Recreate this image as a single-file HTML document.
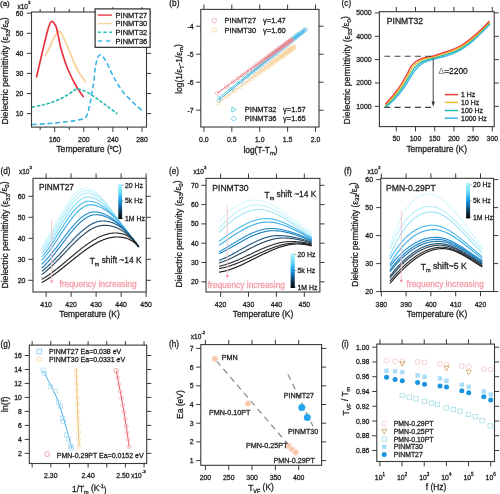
<!DOCTYPE html>
<html><head><meta charset="utf-8"><style>
html,body{margin:0;padding:0;background:#fff;}
svg{display:block;will-change:transform;}
text{font-family:"Liberation Sans",sans-serif;stroke-width:0.28px;}
</style></head><body>
<svg width="500" height="494" viewBox="0 0 500 494">
<rect width="500" height="494" fill="#fff"/>
<path d="M45.20,55.50 C45.75,54.58 47.37,52.25 48.50,50.00 C49.63,47.75 50.92,44.33 52.00,42.00 C53.08,39.67 53.92,37.73 55.00,36.00 C56.08,34.27 57.45,32.05 58.50,31.60 C59.55,31.15 60.25,31.85 61.30,33.30 C62.35,34.75 63.63,37.80 64.80,40.30 C65.97,42.80 67.13,45.52 68.30,48.30 C69.47,51.08 70.55,53.97 71.80,57.00 C73.05,60.03 74.43,63.67 75.80,66.50 C77.17,69.33 78.42,71.52 80.00,74.00 C81.58,76.48 84.42,80.17 85.30,81.40" fill="none" stroke="#f9d29c" stroke-width="1.8" stroke-linejoin="round" stroke-linecap="round" />
<path d="M36.60,76.80 C37.25,74.00 39.32,65.07 40.50,60.00 C41.68,54.93 42.53,51.23 43.70,46.40 C44.87,41.57 46.45,34.82 47.50,31.00 C48.55,27.18 49.33,25.08 50.00,23.50 C50.67,21.92 50.92,21.67 51.50,21.50 C52.08,21.33 52.67,21.42 53.50,22.50 C54.33,23.58 55.35,24.02 56.50,28.00 C57.65,31.98 59.23,41.57 60.40,46.40 C61.57,51.23 62.53,53.90 63.50,57.00 C64.47,60.10 65.12,62.17 66.20,65.00 C67.28,67.83 68.53,70.83 70.00,74.00 C71.47,77.17 73.50,81.25 75.00,84.00 C76.50,86.75 77.62,88.40 79.00,90.50 C80.38,92.60 82.58,95.58 83.30,96.60" fill="none" stroke="#e8343f" stroke-width="1.7" stroke-linejoin="round" stroke-linecap="round" />
<path d="M32.60,107.10 C33.83,106.83 37.58,106.05 40.00,105.50 C42.42,104.95 44.77,104.47 47.10,103.80 C49.43,103.13 51.70,102.37 54.00,101.50 C56.30,100.63 58.57,99.77 60.90,98.60 C63.23,97.43 65.82,95.85 68.00,94.50 C70.18,93.15 72.43,91.47 74.00,90.50 C75.57,89.53 76.40,88.87 77.40,88.70 C78.40,88.53 78.25,88.85 80.00,89.50 C81.75,90.15 85.03,91.03 87.90,92.60 C90.77,94.17 94.02,96.67 97.20,98.90 C100.38,101.13 103.70,103.55 107.00,106.00 C110.30,108.45 115.33,112.33 117.00,113.60" fill="none" stroke="#2abcae" stroke-width="1.7" stroke-linejoin="round" stroke-linecap="round" stroke-dasharray="2.0,3.0" stroke-linecap="butt"/>
<path d="M32.60,124.50 C34.67,124.38 41.05,124.07 45.00,123.80 C48.95,123.53 52.80,123.23 56.30,122.90 C59.80,122.57 63.15,122.13 66.00,121.80 C68.85,121.47 71.23,121.23 73.40,120.90 C75.57,120.57 77.47,120.12 79.00,119.80 C80.53,119.48 81.52,119.38 82.60,119.00 C83.68,118.62 84.68,118.33 85.50,117.50 C86.32,116.67 86.92,115.58 87.50,114.00 C88.08,112.42 88.53,109.93 89.00,108.00 C89.47,106.07 89.80,105.07 90.30,102.40 C90.80,99.73 91.42,95.40 92.00,92.00 C92.58,88.60 93.27,85.97 93.80,82.00 C94.33,78.03 94.68,71.83 95.20,68.20 C95.72,64.57 96.33,62.23 96.90,60.20 C97.47,58.17 98.00,56.92 98.60,56.00 C99.20,55.08 99.83,54.67 100.50,54.70 C101.17,54.73 101.58,54.93 102.60,56.20 C103.62,57.47 104.93,59.15 106.60,62.30 C108.27,65.45 110.97,71.83 112.60,75.10 C114.23,78.37 115.13,79.75 116.40,81.90 C117.67,84.05 118.93,86.10 120.20,88.00 C121.47,89.90 122.35,91.42 124.00,93.30 C125.65,95.18 128.07,97.28 130.10,99.30 C132.13,101.32 134.08,103.45 136.20,105.40 C138.32,107.35 141.70,110.07 142.80,111.00" fill="none" stroke="#3ab6e6" stroke-width="1.6" stroke-linejoin="round" stroke-linecap="round" stroke-dasharray="3.7,4.0" stroke-linecap="butt"/>
<rect x="31.50" y="12.00" width="115.00" height="115.10" fill="none" stroke="#3a3a3a" stroke-width="1.1"/>
<line x1="54.70" y1="127.10" x2="54.70" y2="131.90" stroke="#3a3a3a" stroke-width="1.0" />
<line x1="54.70" y1="12.00" x2="54.70" y2="7.20" stroke="#3a3a3a" stroke-width="1.0" />
<line x1="83.80" y1="127.10" x2="83.80" y2="131.90" stroke="#3a3a3a" stroke-width="1.0" />
<line x1="83.80" y1="12.00" x2="83.80" y2="7.20" stroke="#3a3a3a" stroke-width="1.0" />
<line x1="112.90" y1="127.10" x2="112.90" y2="131.90" stroke="#3a3a3a" stroke-width="1.0" />
<line x1="112.90" y1="12.00" x2="112.90" y2="7.20" stroke="#3a3a3a" stroke-width="1.0" />
<line x1="142.00" y1="127.10" x2="142.00" y2="131.90" stroke="#3a3a3a" stroke-width="1.0" />
<line x1="142.00" y1="12.00" x2="142.00" y2="7.20" stroke="#3a3a3a" stroke-width="1.0" />
<line x1="40.15" y1="127.10" x2="40.15" y2="130.10" stroke="#3a3a3a" stroke-width="1.0" />
<line x1="40.15" y1="12.00" x2="40.15" y2="9.00" stroke="#3a3a3a" stroke-width="1.0" />
<line x1="69.25" y1="127.10" x2="69.25" y2="130.10" stroke="#3a3a3a" stroke-width="1.0" />
<line x1="69.25" y1="12.00" x2="69.25" y2="9.00" stroke="#3a3a3a" stroke-width="1.0" />
<line x1="98.35" y1="127.10" x2="98.35" y2="130.10" stroke="#3a3a3a" stroke-width="1.0" />
<line x1="98.35" y1="12.00" x2="98.35" y2="9.00" stroke="#3a3a3a" stroke-width="1.0" />
<line x1="127.45" y1="127.10" x2="127.45" y2="130.10" stroke="#3a3a3a" stroke-width="1.0" />
<line x1="127.45" y1="12.00" x2="127.45" y2="9.00" stroke="#3a3a3a" stroke-width="1.0" />
<line x1="31.50" y1="113.60" x2="26.90" y2="113.60" stroke="#3a3a3a" stroke-width="1.0" />
<line x1="146.50" y1="113.60" x2="151.10" y2="113.60" stroke="#3a3a3a" stroke-width="1.0" />
<line x1="31.50" y1="93.52" x2="26.90" y2="93.52" stroke="#3a3a3a" stroke-width="1.0" />
<line x1="146.50" y1="93.52" x2="151.10" y2="93.52" stroke="#3a3a3a" stroke-width="1.0" />
<line x1="31.50" y1="73.44" x2="26.90" y2="73.44" stroke="#3a3a3a" stroke-width="1.0" />
<line x1="146.50" y1="73.44" x2="151.10" y2="73.44" stroke="#3a3a3a" stroke-width="1.0" />
<line x1="31.50" y1="53.36" x2="26.90" y2="53.36" stroke="#3a3a3a" stroke-width="1.0" />
<line x1="146.50" y1="53.36" x2="151.10" y2="53.36" stroke="#3a3a3a" stroke-width="1.0" />
<line x1="31.50" y1="33.28" x2="26.90" y2="33.28" stroke="#3a3a3a" stroke-width="1.0" />
<line x1="146.50" y1="33.28" x2="151.10" y2="33.28" stroke="#3a3a3a" stroke-width="1.0" />
<line x1="31.50" y1="13.20" x2="26.90" y2="13.20" stroke="#3a3a3a" stroke-width="1.0" />
<line x1="146.50" y1="13.20" x2="151.10" y2="13.20" stroke="#3a3a3a" stroke-width="1.0" />
<text x="54.70" y="142.00" font-size="6.9" text-anchor="middle" fill="#222" stroke="#222" >160</text>
<text x="83.80" y="142.00" font-size="6.9" text-anchor="middle" fill="#222" stroke="#222" >200</text>
<text x="112.90" y="142.00" font-size="6.9" text-anchor="middle" fill="#222" stroke="#222" >240</text>
<text x="142.00" y="142.00" font-size="6.9" text-anchor="middle" fill="#222" stroke="#222" >280</text>
<text x="23.30" y="116.10" font-size="6.9" text-anchor="end" fill="#222" stroke="#222" >10</text>
<text x="23.30" y="96.02" font-size="6.9" text-anchor="end" fill="#222" stroke="#222" >20</text>
<text x="23.30" y="75.94" font-size="6.9" text-anchor="end" fill="#222" stroke="#222" >30</text>
<text x="23.30" y="55.86" font-size="6.9" text-anchor="end" fill="#222" stroke="#222" >40</text>
<text x="23.30" y="35.78" font-size="6.9" text-anchor="end" fill="#222" stroke="#222" >50</text>
<text x="23.30" y="15.70" font-size="6.9" text-anchor="end" fill="#222" stroke="#222" >60</text>
<text x="17.50" y="9.30" font-size="6.5" text-anchor="start" fill="#222" stroke="#222" >x10<tspan font-size="4.4" dy="-5">3</tspan></text>
<text x="0.00" y="5.90" font-size="8.0" text-anchor="start" fill="#222" stroke="#222" >(a)</text>
<text x="0" y="0" font-size="8.6" text-anchor="middle" fill="#222" stroke="#222" transform="translate(8.40,71.00) rotate(-90)">Dielectric permittivity (ε<tspan font-size="0.7em" dy="0.3em">33</tspan><tspan dy="-0.3em">/ε</tspan><tspan font-size="0.7em" dy="0.3em">0</tspan><tspan dy="-0.3em">)</tspan></text>
<text x="89.00" y="152.40" font-size="8.6" text-anchor="middle" fill="#222" stroke="#222" >Temperature (<tspan font-size="5" dy="-3.5">o</tspan><tspan dy="3.5">C)</tspan></text>
<rect x="95.1" y="8.9" width="55.0" height="38.4" fill="#fff" stroke="#1a1a1a" stroke-width="1.1"/>
<line x1="97.70" y1="15.10" x2="112.00" y2="15.10" stroke="#e8343f" stroke-width="1.35" />
<line x1="97.70" y1="23.60" x2="112.00" y2="23.60" stroke="#f9d29c" stroke-width="1.35" />
<line x1="97.70" y1="32.20" x2="112.00" y2="32.20" stroke="#26c2b6" stroke-width="1.35" stroke-dasharray="3.2,2.5"/>
<line x1="98.00" y1="41.00" x2="112.00" y2="41.00" stroke="#3ab6e6" stroke-width="1.35" stroke-dasharray="3.8,4.5"/>
<text x="115.60" y="17.80" font-size="7.5" text-anchor="start" fill="#222" stroke="#222" >PINMT27</text>
<text x="115.60" y="26.30" font-size="7.5" text-anchor="start" fill="#222" stroke="#222" >PINMT30</text>
<text x="115.60" y="34.90" font-size="7.5" text-anchor="start" fill="#222" stroke="#222" >PINMT32</text>
<text x="115.60" y="43.70" font-size="7.5" text-anchor="start" fill="#222" stroke="#222" >PINMT36</text>
<rect x="216.10" y="101.10" width="3.80" height="3.80" fill="none" stroke="#fadbb0" stroke-width="0.6"/>
<rect x="225.75" y="93.99" width="3.80" height="3.80" fill="none" stroke="#fadbb0" stroke-width="0.6"/>
<rect x="232.63" y="88.92" width="3.80" height="3.80" fill="none" stroke="#fadbb0" stroke-width="0.6"/>
<rect x="237.99" y="84.97" width="3.80" height="3.80" fill="none" stroke="#fadbb0" stroke-width="0.6"/>
<rect x="242.37" y="81.74" width="3.80" height="3.80" fill="none" stroke="#fadbb0" stroke-width="0.6"/>
<rect x="246.08" y="79.01" width="3.80" height="3.80" fill="none" stroke="#fadbb0" stroke-width="0.6"/>
<rect x="249.30" y="76.64" width="3.80" height="3.80" fill="none" stroke="#fadbb0" stroke-width="0.6"/>
<rect x="252.14" y="74.54" width="3.80" height="3.80" fill="none" stroke="#fadbb0" stroke-width="0.6"/>
<rect x="254.68" y="72.67" width="3.80" height="3.80" fill="none" stroke="#fadbb0" stroke-width="0.6"/>
<rect x="256.98" y="70.98" width="3.80" height="3.80" fill="none" stroke="#fadbb0" stroke-width="0.6"/>
<rect x="259.08" y="69.43" width="3.80" height="3.80" fill="none" stroke="#fadbb0" stroke-width="0.6"/>
<rect x="261.01" y="68.01" width="3.80" height="3.80" fill="none" stroke="#fadbb0" stroke-width="0.6"/>
<rect x="262.80" y="66.69" width="3.80" height="3.80" fill="none" stroke="#fadbb0" stroke-width="0.6"/>
<rect x="264.47" y="65.46" width="3.80" height="3.80" fill="none" stroke="#fadbb0" stroke-width="0.6"/>
<rect x="266.03" y="64.31" width="3.80" height="3.80" fill="none" stroke="#fadbb0" stroke-width="0.6"/>
<rect x="267.50" y="63.23" width="3.80" height="3.80" fill="none" stroke="#fadbb0" stroke-width="0.6"/>
<rect x="268.88" y="62.21" width="3.80" height="3.80" fill="none" stroke="#fadbb0" stroke-width="0.6"/>
<rect x="270.18" y="61.25" width="3.80" height="3.80" fill="none" stroke="#fadbb0" stroke-width="0.6"/>
<rect x="271.43" y="60.33" width="3.80" height="3.80" fill="none" stroke="#fadbb0" stroke-width="0.6"/>
<rect x="272.60" y="59.46" width="3.80" height="3.80" fill="none" stroke="#fadbb0" stroke-width="0.6"/>
<rect x="273.73" y="58.64" width="3.80" height="3.80" fill="none" stroke="#fadbb0" stroke-width="0.6"/>
<rect x="274.81" y="57.84" width="3.80" height="3.80" fill="none" stroke="#fadbb0" stroke-width="0.6"/>
<rect x="275.83" y="57.09" width="3.80" height="3.80" fill="none" stroke="#fadbb0" stroke-width="0.6"/>
<rect x="276.82" y="56.36" width="3.80" height="3.80" fill="none" stroke="#fadbb0" stroke-width="0.6"/>
<rect x="277.77" y="55.66" width="3.80" height="3.80" fill="none" stroke="#fadbb0" stroke-width="0.6"/>
<rect x="278.68" y="54.99" width="3.80" height="3.80" fill="none" stroke="#fadbb0" stroke-width="0.6"/>
<rect x="279.56" y="54.34" width="3.80" height="3.80" fill="none" stroke="#fadbb0" stroke-width="0.6"/>
<rect x="280.41" y="53.71" width="3.80" height="3.80" fill="none" stroke="#fadbb0" stroke-width="0.6"/>
<rect x="281.23" y="53.11" width="3.80" height="3.80" fill="none" stroke="#fadbb0" stroke-width="0.6"/>
<rect x="282.03" y="52.52" width="3.80" height="3.80" fill="none" stroke="#fadbb0" stroke-width="0.6"/>
<rect x="282.79" y="51.96" width="3.80" height="3.80" fill="none" stroke="#fadbb0" stroke-width="0.6"/>
<rect x="283.54" y="51.41" width="3.80" height="3.80" fill="none" stroke="#fadbb0" stroke-width="0.6"/>
<rect x="284.26" y="50.88" width="3.80" height="3.80" fill="none" stroke="#fadbb0" stroke-width="0.6"/>
<rect x="284.96" y="50.36" width="3.80" height="3.80" fill="none" stroke="#fadbb0" stroke-width="0.6"/>
<rect x="285.65" y="49.86" width="3.80" height="3.80" fill="none" stroke="#fadbb0" stroke-width="0.6"/>
<rect x="286.31" y="49.37" width="3.80" height="3.80" fill="none" stroke="#fadbb0" stroke-width="0.6"/>
<rect x="286.95" y="48.89" width="3.80" height="3.80" fill="none" stroke="#fadbb0" stroke-width="0.6"/>
<rect x="287.58" y="48.43" width="3.80" height="3.80" fill="none" stroke="#fadbb0" stroke-width="0.6"/>
<rect x="288.20" y="47.98" width="3.80" height="3.80" fill="none" stroke="#fadbb0" stroke-width="0.6"/>
<rect x="288.79" y="47.54" width="3.80" height="3.80" fill="none" stroke="#fadbb0" stroke-width="0.6"/>
<rect x="289.38" y="47.11" width="3.80" height="3.80" fill="none" stroke="#fadbb0" stroke-width="0.6"/>
<rect x="289.95" y="46.69" width="3.80" height="3.80" fill="none" stroke="#fadbb0" stroke-width="0.6"/>
<rect x="290.50" y="46.28" width="3.80" height="3.80" fill="none" stroke="#fadbb0" stroke-width="0.6"/>
<rect x="291.05" y="45.88" width="3.80" height="3.80" fill="none" stroke="#fadbb0" stroke-width="0.6"/>
<rect x="291.58" y="45.48" width="3.80" height="3.80" fill="none" stroke="#fadbb0" stroke-width="0.6"/>
<rect x="292.10" y="45.10" width="3.80" height="3.80" fill="none" stroke="#fadbb0" stroke-width="0.6"/>
<line x1="218.00" y1="103.00" x2="294.00" y2="47.00" stroke="#f5c47e" stroke-width="0.9" />
<path d="M217.48,95.90 L220.90,97.80 L217.48,99.70 Z" fill="none" stroke="#80d8e0" stroke-width="0.6"/>
<path d="M228.97,86.78 L232.39,88.68 L228.97,90.58 Z" fill="none" stroke="#80d8e0" stroke-width="0.6"/>
<path d="M236.73,80.62 L240.15,82.52 L236.73,84.42 Z" fill="none" stroke="#80d8e0" stroke-width="0.6"/>
<path d="M242.60,75.96 L246.02,77.86 L242.60,79.76 Z" fill="none" stroke="#80d8e0" stroke-width="0.6"/>
<path d="M247.32,72.21 L250.74,74.11 L247.32,76.01 Z" fill="none" stroke="#80d8e0" stroke-width="0.6"/>
<path d="M251.27,69.08 L254.69,70.98 L251.27,72.88 Z" fill="none" stroke="#80d8e0" stroke-width="0.6"/>
<path d="M254.66,66.38 L258.08,68.28 L254.66,70.18 Z" fill="none" stroke="#80d8e0" stroke-width="0.6"/>
<path d="M257.64,64.02 L261.06,65.92 L257.64,67.82 Z" fill="none" stroke="#80d8e0" stroke-width="0.6"/>
<path d="M260.29,61.91 L263.71,63.81 L260.29,65.71 Z" fill="none" stroke="#80d8e0" stroke-width="0.6"/>
<path d="M262.68,60.02 L266.10,61.92 L262.68,63.82 Z" fill="none" stroke="#80d8e0" stroke-width="0.6"/>
<path d="M264.86,58.29 L268.28,60.19 L264.86,62.09 Z" fill="none" stroke="#80d8e0" stroke-width="0.6"/>
<path d="M266.85,56.71 L270.27,58.61 L266.85,60.51 Z" fill="none" stroke="#80d8e0" stroke-width="0.6"/>
<path d="M268.70,55.24 L272.12,57.14 L268.70,59.04 Z" fill="none" stroke="#80d8e0" stroke-width="0.6"/>
<path d="M270.41,53.88 L273.83,55.78 L270.41,57.68 Z" fill="none" stroke="#80d8e0" stroke-width="0.6"/>
<path d="M272.01,52.61 L275.43,54.51 L272.01,56.41 Z" fill="none" stroke="#80d8e0" stroke-width="0.6"/>
<path d="M273.51,51.42 L276.93,53.32 L273.51,55.22 Z" fill="none" stroke="#80d8e0" stroke-width="0.6"/>
<path d="M274.93,50.30 L278.35,52.20 L274.93,54.10 Z" fill="none" stroke="#80d8e0" stroke-width="0.6"/>
<path d="M276.26,49.24 L279.68,51.14 L276.26,53.04 Z" fill="none" stroke="#80d8e0" stroke-width="0.6"/>
<path d="M277.53,48.23 L280.95,50.13 L277.53,52.03 Z" fill="none" stroke="#80d8e0" stroke-width="0.6"/>
<path d="M278.73,47.28 L282.15,49.18 L278.73,51.08 Z" fill="none" stroke="#80d8e0" stroke-width="0.6"/>
<path d="M279.88,46.37 L283.30,48.27 L279.88,50.17 Z" fill="none" stroke="#80d8e0" stroke-width="0.6"/>
<path d="M280.97,45.50 L284.39,47.40 L280.97,49.30 Z" fill="none" stroke="#80d8e0" stroke-width="0.6"/>
<path d="M282.02,44.67 L285.44,46.57 L282.02,48.47 Z" fill="none" stroke="#80d8e0" stroke-width="0.6"/>
<path d="M283.02,43.87 L286.44,45.77 L283.02,47.67 Z" fill="none" stroke="#80d8e0" stroke-width="0.6"/>
<path d="M283.98,43.11 L287.40,45.01 L283.98,46.91 Z" fill="none" stroke="#80d8e0" stroke-width="0.6"/>
<path d="M284.91,42.37 L288.33,44.27 L284.91,46.17 Z" fill="none" stroke="#80d8e0" stroke-width="0.6"/>
<path d="M285.80,41.66 L289.22,43.56 L285.80,45.46 Z" fill="none" stroke="#80d8e0" stroke-width="0.6"/>
<path d="M286.67,40.98 L290.09,42.88 L286.67,44.78 Z" fill="none" stroke="#80d8e0" stroke-width="0.6"/>
<path d="M287.50,40.32 L290.92,42.22 L287.50,44.12 Z" fill="none" stroke="#80d8e0" stroke-width="0.6"/>
<path d="M288.30,39.68 L291.72,41.58 L288.30,43.48 Z" fill="none" stroke="#80d8e0" stroke-width="0.6"/>
<path d="M289.08,39.06 L292.50,40.96 L289.08,42.86 Z" fill="none" stroke="#80d8e0" stroke-width="0.6"/>
<path d="M289.83,38.46 L293.25,40.36 L289.83,42.26 Z" fill="none" stroke="#80d8e0" stroke-width="0.6"/>
<path d="M290.56,37.88 L293.98,39.78 L290.56,41.68 Z" fill="none" stroke="#80d8e0" stroke-width="0.6"/>
<path d="M291.27,37.32 L294.69,39.22 L291.27,41.12 Z" fill="none" stroke="#80d8e0" stroke-width="0.6"/>
<path d="M291.96,36.77 L295.38,38.67 L291.96,40.57 Z" fill="none" stroke="#80d8e0" stroke-width="0.6"/>
<path d="M292.63,36.24 L296.05,38.14 L292.63,40.04 Z" fill="none" stroke="#80d8e0" stroke-width="0.6"/>
<path d="M293.29,35.72 L296.71,37.62 L293.29,39.52 Z" fill="none" stroke="#80d8e0" stroke-width="0.6"/>
<path d="M293.92,35.22 L297.34,37.12 L293.92,39.02 Z" fill="none" stroke="#80d8e0" stroke-width="0.6"/>
<path d="M294.54,34.73 L297.96,36.63 L294.54,38.53 Z" fill="none" stroke="#80d8e0" stroke-width="0.6"/>
<path d="M295.14,34.25 L298.56,36.15 L295.14,38.05 Z" fill="none" stroke="#80d8e0" stroke-width="0.6"/>
<path d="M295.73,33.78 L299.15,35.68 L295.73,37.58 Z" fill="none" stroke="#80d8e0" stroke-width="0.6"/>
<path d="M296.31,33.32 L299.73,35.22 L296.31,37.12 Z" fill="none" stroke="#80d8e0" stroke-width="0.6"/>
<path d="M296.87,32.88 L300.29,34.78 L296.87,36.68 Z" fill="none" stroke="#80d8e0" stroke-width="0.6"/>
<path d="M297.42,32.44 L300.84,34.34 L297.42,36.24 Z" fill="none" stroke="#80d8e0" stroke-width="0.6"/>
<path d="M297.95,32.02 L301.37,33.92 L297.95,35.82 Z" fill="none" stroke="#80d8e0" stroke-width="0.6"/>
<path d="M298.48,31.60 L301.90,33.50 L298.48,35.40 Z" fill="none" stroke="#80d8e0" stroke-width="0.6"/>
<line x1="219.00" y1="97.80" x2="300.00" y2="33.50" stroke="#38bcd0" stroke-width="0.9" />
<path d="M219.00,97.72 L221.28,100.00 L219.00,102.28 L216.72,100.00 Z" fill="none" stroke="#6cc4f0" stroke-width="0.6"/>
<path d="M232.79,86.48 L235.07,88.76 L232.79,91.04 L230.51,88.76 Z" fill="none" stroke="#6cc4f0" stroke-width="0.6"/>
<path d="M241.52,79.36 L243.80,81.64 L241.52,83.92 L239.24,81.64 Z" fill="none" stroke="#6cc4f0" stroke-width="0.6"/>
<path d="M247.93,74.14 L250.21,76.42 L247.93,78.70 L245.65,76.42 Z" fill="none" stroke="#6cc4f0" stroke-width="0.6"/>
<path d="M252.99,70.01 L255.27,72.29 L252.99,74.57 L250.71,72.29 Z" fill="none" stroke="#6cc4f0" stroke-width="0.6"/>
<path d="M257.18,66.60 L259.46,68.88 L257.18,71.16 L254.90,68.88 Z" fill="none" stroke="#6cc4f0" stroke-width="0.6"/>
<path d="M260.75,63.70 L263.03,65.98 L260.75,68.26 L258.47,65.98 Z" fill="none" stroke="#6cc4f0" stroke-width="0.6"/>
<path d="M263.86,61.16 L266.14,63.44 L263.86,65.72 L261.58,63.44 Z" fill="none" stroke="#6cc4f0" stroke-width="0.6"/>
<path d="M266.61,58.92 L268.89,61.20 L266.61,63.48 L264.33,61.20 Z" fill="none" stroke="#6cc4f0" stroke-width="0.6"/>
<path d="M269.09,56.90 L271.37,59.18 L269.09,61.46 L266.81,59.18 Z" fill="none" stroke="#6cc4f0" stroke-width="0.6"/>
<path d="M271.33,55.07 L273.61,57.35 L271.33,59.63 L269.05,57.35 Z" fill="none" stroke="#6cc4f0" stroke-width="0.6"/>
<path d="M273.38,53.40 L275.66,55.68 L273.38,57.96 L271.10,55.68 Z" fill="none" stroke="#6cc4f0" stroke-width="0.6"/>
<path d="M275.28,51.85 L277.56,54.13 L275.28,56.41 L273.00,54.13 Z" fill="none" stroke="#6cc4f0" stroke-width="0.6"/>
<path d="M277.03,50.42 L279.31,52.70 L277.03,54.98 L274.75,52.70 Z" fill="none" stroke="#6cc4f0" stroke-width="0.6"/>
<path d="M278.67,49.09 L280.95,51.37 L278.67,53.65 L276.39,51.37 Z" fill="none" stroke="#6cc4f0" stroke-width="0.6"/>
<path d="M280.20,47.84 L282.48,50.12 L280.20,52.40 L277.92,50.12 Z" fill="none" stroke="#6cc4f0" stroke-width="0.6"/>
<path d="M281.65,46.66 L283.93,48.94 L281.65,51.22 L279.37,48.94 Z" fill="none" stroke="#6cc4f0" stroke-width="0.6"/>
<path d="M283.01,45.55 L285.29,47.83 L283.01,50.11 L280.73,47.83 Z" fill="none" stroke="#6cc4f0" stroke-width="0.6"/>
<path d="M284.30,44.50 L286.58,46.78 L284.30,49.06 L282.02,46.78 Z" fill="none" stroke="#6cc4f0" stroke-width="0.6"/>
<path d="M285.52,43.50 L287.80,45.78 L285.52,48.06 L283.24,45.78 Z" fill="none" stroke="#6cc4f0" stroke-width="0.6"/>
<path d="M286.69,42.55 L288.97,44.83 L286.69,47.11 L284.41,44.83 Z" fill="none" stroke="#6cc4f0" stroke-width="0.6"/>
<path d="M287.80,41.65 L290.08,43.93 L287.80,46.21 L285.52,43.93 Z" fill="none" stroke="#6cc4f0" stroke-width="0.6"/>
<path d="M288.86,40.78 L291.14,43.06 L288.86,45.34 L286.58,43.06 Z" fill="none" stroke="#6cc4f0" stroke-width="0.6"/>
<path d="M289.88,39.95 L292.16,42.23 L289.88,44.51 L287.60,42.23 Z" fill="none" stroke="#6cc4f0" stroke-width="0.6"/>
<path d="M290.86,39.15 L293.14,41.43 L290.86,43.71 L288.58,41.43 Z" fill="none" stroke="#6cc4f0" stroke-width="0.6"/>
<path d="M291.80,38.39 L294.08,40.67 L291.80,42.95 L289.52,40.67 Z" fill="none" stroke="#6cc4f0" stroke-width="0.6"/>
<path d="M292.70,37.65 L294.98,39.93 L292.70,42.21 L290.42,39.93 Z" fill="none" stroke="#6cc4f0" stroke-width="0.6"/>
<path d="M293.57,36.94 L295.85,39.22 L293.57,41.50 L291.29,39.22 Z" fill="none" stroke="#6cc4f0" stroke-width="0.6"/>
<path d="M294.41,36.26 L296.69,38.54 L294.41,40.82 L292.13,38.54 Z" fill="none" stroke="#6cc4f0" stroke-width="0.6"/>
<path d="M295.23,35.59 L297.51,37.87 L295.23,40.15 L292.95,37.87 Z" fill="none" stroke="#6cc4f0" stroke-width="0.6"/>
<path d="M296.01,34.95 L298.29,37.23 L296.01,39.51 L293.73,37.23 Z" fill="none" stroke="#6cc4f0" stroke-width="0.6"/>
<path d="M296.78,34.33 L299.06,36.61 L296.78,38.89 L294.50,36.61 Z" fill="none" stroke="#6cc4f0" stroke-width="0.6"/>
<path d="M297.51,33.73 L299.79,36.01 L297.51,38.29 L295.23,36.01 Z" fill="none" stroke="#6cc4f0" stroke-width="0.6"/>
<path d="M298.23,33.14 L300.51,35.42 L298.23,37.70 L295.95,35.42 Z" fill="none" stroke="#6cc4f0" stroke-width="0.6"/>
<path d="M298.93,32.58 L301.21,34.86 L298.93,37.14 L296.65,34.86 Z" fill="none" stroke="#6cc4f0" stroke-width="0.6"/>
<path d="M299.60,32.03 L301.88,34.31 L299.60,36.59 L297.32,34.31 Z" fill="none" stroke="#6cc4f0" stroke-width="0.6"/>
<path d="M300.26,31.49 L302.54,33.77 L300.26,36.05 L297.98,33.77 Z" fill="none" stroke="#6cc4f0" stroke-width="0.6"/>
<path d="M300.90,30.97 L303.18,33.25 L300.90,35.53 L298.62,33.25 Z" fill="none" stroke="#6cc4f0" stroke-width="0.6"/>
<path d="M301.53,30.46 L303.81,32.74 L301.53,35.02 L299.25,32.74 Z" fill="none" stroke="#6cc4f0" stroke-width="0.6"/>
<path d="M302.14,29.96 L304.42,32.24 L302.14,34.52 L299.86,32.24 Z" fill="none" stroke="#6cc4f0" stroke-width="0.6"/>
<path d="M302.73,29.48 L305.01,31.76 L302.73,34.04 L300.45,31.76 Z" fill="none" stroke="#6cc4f0" stroke-width="0.6"/>
<path d="M303.31,29.00 L305.59,31.28 L303.31,33.56 L301.03,31.28 Z" fill="none" stroke="#6cc4f0" stroke-width="0.6"/>
<path d="M303.88,28.54 L306.16,30.82 L303.88,33.10 L301.60,30.82 Z" fill="none" stroke="#6cc4f0" stroke-width="0.6"/>
<path d="M304.43,28.09 L306.71,30.37 L304.43,32.65 L302.15,30.37 Z" fill="none" stroke="#6cc4f0" stroke-width="0.6"/>
<path d="M304.97,27.65 L307.25,29.93 L304.97,32.21 L302.69,29.93 Z" fill="none" stroke="#6cc4f0" stroke-width="0.6"/>
<path d="M305.50,27.22 L307.78,29.50 L305.50,31.78 L303.22,29.50 Z" fill="none" stroke="#6cc4f0" stroke-width="0.6"/>
<line x1="219.00" y1="100.00" x2="305.50" y2="29.50" stroke="#2ea8e0" stroke-width="0.9" />
<circle cx="217.30" cy="93.20" r="1.90" fill="none" stroke="#f29aa2" stroke-width="0.6"/>
<circle cx="226.51" cy="86.58" r="1.90" fill="none" stroke="#f29aa2" stroke-width="0.6"/>
<circle cx="233.17" cy="81.79" r="1.90" fill="none" stroke="#f29aa2" stroke-width="0.6"/>
<circle cx="238.39" cy="78.04" r="1.90" fill="none" stroke="#f29aa2" stroke-width="0.6"/>
<circle cx="242.68" cy="74.95" r="1.90" fill="none" stroke="#f29aa2" stroke-width="0.6"/>
<circle cx="246.32" cy="72.33" r="1.90" fill="none" stroke="#f29aa2" stroke-width="0.6"/>
<circle cx="249.49" cy="70.06" r="1.90" fill="none" stroke="#f29aa2" stroke-width="0.6"/>
<circle cx="252.29" cy="68.04" r="1.90" fill="none" stroke="#f29aa2" stroke-width="0.6"/>
<circle cx="254.80" cy="66.24" r="1.90" fill="none" stroke="#f29aa2" stroke-width="0.6"/>
<circle cx="257.08" cy="64.60" r="1.90" fill="none" stroke="#f29aa2" stroke-width="0.6"/>
<circle cx="259.16" cy="63.11" r="1.90" fill="none" stroke="#f29aa2" stroke-width="0.6"/>
<circle cx="261.07" cy="61.73" r="1.90" fill="none" stroke="#f29aa2" stroke-width="0.6"/>
<circle cx="262.85" cy="60.46" r="1.90" fill="none" stroke="#f29aa2" stroke-width="0.6"/>
<circle cx="264.50" cy="59.27" r="1.90" fill="none" stroke="#f29aa2" stroke-width="0.6"/>
<circle cx="266.05" cy="58.16" r="1.90" fill="none" stroke="#f29aa2" stroke-width="0.6"/>
<circle cx="267.50" cy="57.11" r="1.90" fill="none" stroke="#f29aa2" stroke-width="0.6"/>
<circle cx="268.88" cy="56.12" r="1.90" fill="none" stroke="#f29aa2" stroke-width="0.6"/>
<circle cx="270.17" cy="55.19" r="1.90" fill="none" stroke="#f29aa2" stroke-width="0.6"/>
<circle cx="271.41" cy="54.30" r="1.90" fill="none" stroke="#f29aa2" stroke-width="0.6"/>
<circle cx="272.58" cy="53.46" r="1.90" fill="none" stroke="#f29aa2" stroke-width="0.6"/>
<circle cx="273.70" cy="52.66" r="1.90" fill="none" stroke="#f29aa2" stroke-width="0.6"/>
<circle cx="274.77" cy="51.89" r="1.90" fill="none" stroke="#f29aa2" stroke-width="0.6"/>
<circle cx="275.79" cy="51.15" r="1.90" fill="none" stroke="#f29aa2" stroke-width="0.6"/>
<circle cx="276.78" cy="50.44" r="1.90" fill="none" stroke="#f29aa2" stroke-width="0.6"/>
<circle cx="277.72" cy="49.77" r="1.90" fill="none" stroke="#f29aa2" stroke-width="0.6"/>
<circle cx="278.63" cy="49.11" r="1.90" fill="none" stroke="#f29aa2" stroke-width="0.6"/>
<circle cx="279.50" cy="48.48" r="1.90" fill="none" stroke="#f29aa2" stroke-width="0.6"/>
<circle cx="280.35" cy="47.87" r="1.90" fill="none" stroke="#f29aa2" stroke-width="0.6"/>
<circle cx="281.17" cy="47.29" r="1.90" fill="none" stroke="#f29aa2" stroke-width="0.6"/>
<circle cx="281.96" cy="46.72" r="1.90" fill="none" stroke="#f29aa2" stroke-width="0.6"/>
<circle cx="282.72" cy="46.17" r="1.90" fill="none" stroke="#f29aa2" stroke-width="0.6"/>
<circle cx="283.47" cy="45.64" r="1.90" fill="none" stroke="#f29aa2" stroke-width="0.6"/>
<circle cx="284.19" cy="45.12" r="1.90" fill="none" stroke="#f29aa2" stroke-width="0.6"/>
<circle cx="284.88" cy="44.62" r="1.90" fill="none" stroke="#f29aa2" stroke-width="0.6"/>
<circle cx="285.56" cy="44.13" r="1.90" fill="none" stroke="#f29aa2" stroke-width="0.6"/>
<circle cx="286.23" cy="43.65" r="1.90" fill="none" stroke="#f29aa2" stroke-width="0.6"/>
<circle cx="286.87" cy="43.19" r="1.90" fill="none" stroke="#f29aa2" stroke-width="0.6"/>
<circle cx="287.50" cy="42.74" r="1.90" fill="none" stroke="#f29aa2" stroke-width="0.6"/>
<circle cx="288.11" cy="42.30" r="1.90" fill="none" stroke="#f29aa2" stroke-width="0.6"/>
<circle cx="288.70" cy="41.87" r="1.90" fill="none" stroke="#f29aa2" stroke-width="0.6"/>
<circle cx="289.28" cy="41.45" r="1.90" fill="none" stroke="#f29aa2" stroke-width="0.6"/>
<circle cx="289.85" cy="41.04" r="1.90" fill="none" stroke="#f29aa2" stroke-width="0.6"/>
<circle cx="290.41" cy="40.64" r="1.90" fill="none" stroke="#f29aa2" stroke-width="0.6"/>
<circle cx="290.95" cy="40.25" r="1.90" fill="none" stroke="#f29aa2" stroke-width="0.6"/>
<circle cx="291.48" cy="39.87" r="1.90" fill="none" stroke="#f29aa2" stroke-width="0.6"/>
<circle cx="292.00" cy="39.50" r="1.90" fill="none" stroke="#f29aa2" stroke-width="0.6"/>
<line x1="217.30" y1="93.20" x2="292.00" y2="39.50" stroke="#e85a68" stroke-width="0.9" />
<rect x="200.80" y="9.40" width="118.20" height="117.60" fill="none" stroke="#3a3a3a" stroke-width="1.1"/>
<line x1="203.90" y1="127.00" x2="203.90" y2="131.80" stroke="#3a3a3a" stroke-width="1.0" />
<line x1="203.90" y1="9.40" x2="203.90" y2="4.60" stroke="#3a3a3a" stroke-width="1.0" />
<line x1="231.80" y1="127.00" x2="231.80" y2="131.80" stroke="#3a3a3a" stroke-width="1.0" />
<line x1="231.80" y1="9.40" x2="231.80" y2="4.60" stroke="#3a3a3a" stroke-width="1.0" />
<line x1="259.70" y1="127.00" x2="259.70" y2="131.80" stroke="#3a3a3a" stroke-width="1.0" />
<line x1="259.70" y1="9.40" x2="259.70" y2="4.60" stroke="#3a3a3a" stroke-width="1.0" />
<line x1="287.60" y1="127.00" x2="287.60" y2="131.80" stroke="#3a3a3a" stroke-width="1.0" />
<line x1="287.60" y1="9.40" x2="287.60" y2="4.60" stroke="#3a3a3a" stroke-width="1.0" />
<line x1="315.50" y1="127.00" x2="315.50" y2="131.80" stroke="#3a3a3a" stroke-width="1.0" />
<line x1="315.50" y1="9.40" x2="315.50" y2="4.60" stroke="#3a3a3a" stroke-width="1.0" />
<line x1="200.80" y1="26.20" x2="196.20" y2="26.20" stroke="#3a3a3a" stroke-width="1.0" />
<line x1="319.00" y1="26.20" x2="323.60" y2="26.20" stroke="#3a3a3a" stroke-width="1.0" />
<line x1="200.80" y1="54.20" x2="196.20" y2="54.20" stroke="#3a3a3a" stroke-width="1.0" />
<line x1="319.00" y1="54.20" x2="323.60" y2="54.20" stroke="#3a3a3a" stroke-width="1.0" />
<line x1="200.80" y1="82.20" x2="196.20" y2="82.20" stroke="#3a3a3a" stroke-width="1.0" />
<line x1="319.00" y1="82.20" x2="323.60" y2="82.20" stroke="#3a3a3a" stroke-width="1.0" />
<line x1="200.80" y1="110.20" x2="196.20" y2="110.20" stroke="#3a3a3a" stroke-width="1.0" />
<line x1="319.00" y1="110.20" x2="323.60" y2="110.20" stroke="#3a3a3a" stroke-width="1.0" />
<text x="203.90" y="141.90" font-size="6.9" text-anchor="middle" fill="#222" stroke="#222" >0.0</text>
<text x="231.80" y="141.90" font-size="6.9" text-anchor="middle" fill="#222" stroke="#222" >0.5</text>
<text x="259.70" y="141.90" font-size="6.9" text-anchor="middle" fill="#222" stroke="#222" >1.0</text>
<text x="287.60" y="141.90" font-size="6.9" text-anchor="middle" fill="#222" stroke="#222" >1.5</text>
<text x="315.50" y="141.90" font-size="6.9" text-anchor="middle" fill="#222" stroke="#222" >2.0</text>
<text x="193.60" y="28.70" font-size="6.9" text-anchor="end" fill="#222" stroke="#222" >-4</text>
<text x="193.60" y="56.70" font-size="6.9" text-anchor="end" fill="#222" stroke="#222" >-5</text>
<text x="193.60" y="84.70" font-size="6.9" text-anchor="end" fill="#222" stroke="#222" >-6</text>
<text x="193.60" y="112.70" font-size="6.9" text-anchor="end" fill="#222" stroke="#222" >-7</text>
<text x="169.20" y="5.90" font-size="8.4" text-anchor="start" fill="#222" stroke="#222" >(b)</text>
<text x="0" y="0" font-size="8.4" text-anchor="middle" fill="#222" stroke="#222" transform="translate(182.30,69.00) rotate(-90)">log(1/ε<tspan font-size="0.7em" dy="0.3em">T</tspan><tspan dy="-0.3em">-1/ε</tspan><tspan font-size="0.7em" dy="0.3em">m</tspan><tspan dy="-0.3em">)</tspan></text>
<text x="260.50" y="153.30" font-size="8.4" text-anchor="middle" fill="#222" stroke="#222" >log(T-T<tspan font-size="0.7em" dy="0.3em">m</tspan><tspan dy="-0.3em">)</tspan></text>
<circle cx="214.20" cy="20.60" r="2.30" fill="none" stroke="#f4a8b0" stroke-width="0.85"/>
<rect x="212.30" y="28.10" width="3.80" height="3.80" fill="none" stroke="#fbdcb0" stroke-width="0.85"/>
<path d="M231.80,107.10 L236.30,109.60 L231.80,112.10 Z" fill="none" stroke="#5fd0d8" stroke-width="0.9"/>
<path d="M233.80,115.94 L236.56,118.70 L233.80,121.46 L231.04,118.70 Z" fill="none" stroke="#74c6f0" stroke-width="0.9"/>
<text x="224.40" y="23.40" font-size="7.5" text-anchor="start" fill="#222" stroke="#222" >PINMT27</text>
<text x="263.00" y="23.40" font-size="7.5" text-anchor="start" fill="#222" stroke="#222" >γ=1.47</text>
<text x="224.40" y="32.80" font-size="7.5" text-anchor="start" fill="#222" stroke="#222" >PINMT30</text>
<text x="263.00" y="32.80" font-size="7.5" text-anchor="start" fill="#222" stroke="#222" >γ=1.60</text>
<text x="244.80" y="112.30" font-size="7.5" text-anchor="start" fill="#222" stroke="#222" >PINMT32</text>
<text x="283.00" y="112.30" font-size="7.5" text-anchor="start" fill="#222" stroke="#222" >γ=1.57</text>
<text x="244.80" y="121.40" font-size="7.5" text-anchor="start" fill="#222" stroke="#222" >PINMT36</text>
<text x="283.00" y="121.40" font-size="7.5" text-anchor="start" fill="#222" stroke="#222" >γ=1.65</text>
<path d="M385.70,107.40 C387.12,106.10 391.37,102.57 394.20,99.60 C397.03,96.63 400.10,93.15 402.70,89.60 C405.30,86.05 407.67,81.60 409.80,78.30 C411.93,75.00 413.62,72.17 415.50,69.80 C417.38,67.43 419.22,65.52 421.10,64.10 C422.98,62.68 424.90,62.05 426.80,61.30 C428.70,60.55 431.13,60.00 432.50,59.60 C433.87,59.20 432.55,59.57 435.00,58.90 C437.45,58.23 443.15,56.97 447.20,55.60 C451.25,54.23 455.25,52.93 459.30,50.70 C463.35,48.47 467.85,45.13 471.50,42.20 C475.15,39.27 478.17,36.03 481.20,33.10 C484.23,30.17 488.28,26.02 489.70,24.60" fill="none" stroke="#3cb4ea" stroke-width="1.35" stroke-linejoin="round" stroke-linecap="round" />
<path d="M385.70,106.20 C387.12,104.78 391.44,100.78 394.20,97.70 C396.96,94.62 399.79,91.21 402.23,87.73 C404.68,84.26 406.89,80.06 408.87,76.87 C410.84,73.68 412.30,70.88 414.07,68.60 C415.83,66.32 417.58,64.56 419.47,63.17 C421.36,61.78 423.39,61.02 425.40,60.27 C427.41,59.51 429.93,59.06 431.53,58.63 C433.13,58.21 432.39,58.44 435.00,57.70 C437.61,56.96 443.15,55.57 447.20,54.17 C451.25,52.77 455.25,51.53 459.30,49.30 C463.35,47.07 467.85,43.71 471.50,40.80 C475.15,37.89 478.20,34.74 481.20,31.87 C484.20,28.99 488.12,24.95 489.50,23.57" fill="none" stroke="#1fbfae" stroke-width="1.35" stroke-linejoin="round" stroke-linecap="round" />
<path d="M385.70,105.00 C387.12,103.47 391.52,98.99 394.20,95.80 C396.88,92.61 399.48,89.26 401.77,85.87 C404.06,82.47 406.12,78.51 407.93,75.43 C409.74,72.36 410.98,69.60 412.63,67.40 C414.28,65.20 415.94,63.59 417.83,62.23 C419.73,60.87 421.88,59.99 424.00,59.23 C426.12,58.47 428.73,58.12 430.57,57.67 C432.40,57.21 432.23,57.32 435.00,56.50 C437.77,55.68 443.15,54.17 447.20,52.73 C451.25,51.30 455.25,50.12 459.30,47.90 C463.35,45.68 467.85,42.28 471.50,39.40 C475.15,36.52 478.23,33.44 481.20,30.63 C484.17,27.82 487.95,23.88 489.30,22.53" fill="none" stroke="#f2b82a" stroke-width="1.35" stroke-linejoin="round" stroke-linecap="round" />
<path d="M385.70,103.80 C387.12,102.15 391.60,97.20 394.20,93.90 C396.80,90.60 399.17,87.32 401.30,84.00 C403.43,80.68 405.35,76.97 407.00,74.00 C408.65,71.03 409.67,68.32 411.20,66.20 C412.73,64.08 414.30,62.63 416.20,61.30 C418.10,59.97 420.37,58.97 422.60,58.20 C424.83,57.43 427.53,57.18 429.60,56.70 C431.67,56.22 432.07,56.20 435.00,55.30 C437.93,54.40 443.15,52.77 447.20,51.30 C451.25,49.83 455.25,48.72 459.30,46.50 C463.35,44.28 467.85,40.85 471.50,38.00 C475.15,35.15 478.27,32.15 481.20,29.40 C484.13,26.65 487.78,22.82 489.10,21.50" fill="none" stroke="#ea3f3a" stroke-width="1.35" stroke-linejoin="round" stroke-linecap="round" />
<line x1="384.30" y1="56.30" x2="431.00" y2="56.30" stroke="#444" stroke-width="1.1" stroke-dasharray="6,4.2"/>
<line x1="384.30" y1="107.40" x2="432.00" y2="107.40" stroke="#444" stroke-width="1.1" stroke-dasharray="6,4.2"/>
<line x1="433.20" y1="58.40" x2="433.20" y2="103.50" stroke="#333" stroke-width="0.9" />
<path d="M431.5,101.5 L433.2,106.8 L434.9,101.5 Z" fill="#333"/>
<rect x="379.40" y="11.70" width="114.80" height="114.90" fill="none" stroke="#3a3a3a" stroke-width="1.1"/>
<line x1="396.30" y1="126.60" x2="396.30" y2="131.40" stroke="#3a3a3a" stroke-width="1.0" />
<line x1="396.30" y1="11.70" x2="396.30" y2="6.90" stroke="#3a3a3a" stroke-width="1.0" />
<line x1="415.50" y1="126.60" x2="415.50" y2="131.40" stroke="#3a3a3a" stroke-width="1.0" />
<line x1="415.50" y1="11.70" x2="415.50" y2="6.90" stroke="#3a3a3a" stroke-width="1.0" />
<line x1="434.70" y1="126.60" x2="434.70" y2="131.40" stroke="#3a3a3a" stroke-width="1.0" />
<line x1="434.70" y1="11.70" x2="434.70" y2="6.90" stroke="#3a3a3a" stroke-width="1.0" />
<line x1="453.90" y1="126.60" x2="453.90" y2="131.40" stroke="#3a3a3a" stroke-width="1.0" />
<line x1="453.90" y1="11.70" x2="453.90" y2="6.90" stroke="#3a3a3a" stroke-width="1.0" />
<line x1="473.10" y1="126.60" x2="473.10" y2="131.40" stroke="#3a3a3a" stroke-width="1.0" />
<line x1="473.10" y1="11.70" x2="473.10" y2="6.90" stroke="#3a3a3a" stroke-width="1.0" />
<line x1="492.30" y1="126.60" x2="492.30" y2="131.40" stroke="#3a3a3a" stroke-width="1.0" />
<line x1="492.30" y1="11.70" x2="492.30" y2="6.90" stroke="#3a3a3a" stroke-width="1.0" />
<line x1="379.40" y1="106.34" x2="374.80" y2="106.34" stroke="#3a3a3a" stroke-width="1.0" />
<line x1="494.20" y1="106.34" x2="498.80" y2="106.34" stroke="#3a3a3a" stroke-width="1.0" />
<line x1="379.40" y1="82.98" x2="374.80" y2="82.98" stroke="#3a3a3a" stroke-width="1.0" />
<line x1="494.20" y1="82.98" x2="498.80" y2="82.98" stroke="#3a3a3a" stroke-width="1.0" />
<line x1="379.40" y1="59.62" x2="374.80" y2="59.62" stroke="#3a3a3a" stroke-width="1.0" />
<line x1="494.20" y1="59.62" x2="498.80" y2="59.62" stroke="#3a3a3a" stroke-width="1.0" />
<line x1="379.40" y1="36.26" x2="374.80" y2="36.26" stroke="#3a3a3a" stroke-width="1.0" />
<line x1="494.20" y1="36.26" x2="498.80" y2="36.26" stroke="#3a3a3a" stroke-width="1.0" />
<line x1="379.40" y1="12.90" x2="374.80" y2="12.90" stroke="#3a3a3a" stroke-width="1.0" />
<line x1="494.20" y1="12.90" x2="498.80" y2="12.90" stroke="#3a3a3a" stroke-width="1.0" />
<text x="396.30" y="141.20" font-size="6.9" text-anchor="middle" fill="#222" stroke="#222" >50</text>
<text x="415.50" y="141.20" font-size="6.9" text-anchor="middle" fill="#222" stroke="#222" >100</text>
<text x="434.70" y="141.20" font-size="6.9" text-anchor="middle" fill="#222" stroke="#222" >150</text>
<text x="453.90" y="141.20" font-size="6.9" text-anchor="middle" fill="#222" stroke="#222" >200</text>
<text x="473.10" y="141.20" font-size="6.9" text-anchor="middle" fill="#222" stroke="#222" >250</text>
<text x="492.30" y="141.20" font-size="6.9" text-anchor="middle" fill="#222" stroke="#222" >300</text>
<text x="371.60" y="108.84" font-size="6.9" text-anchor="end" fill="#222" stroke="#222" >1000</text>
<text x="371.60" y="85.48" font-size="6.9" text-anchor="end" fill="#222" stroke="#222" >2000</text>
<text x="371.60" y="62.12" font-size="6.9" text-anchor="end" fill="#222" stroke="#222" >3000</text>
<text x="371.60" y="38.76" font-size="6.9" text-anchor="end" fill="#222" stroke="#222" >4000</text>
<text x="371.60" y="15.40" font-size="6.9" text-anchor="end" fill="#222" stroke="#222" >5000</text>
<text x="341.60" y="5.90" font-size="8.2" text-anchor="start" fill="#222" stroke="#222" >(c)</text>
<text x="0" y="0" font-size="8.7" text-anchor="middle" fill="#222" stroke="#222" transform="translate(350.00,70.30) rotate(-90)">Dielectric permittivity (ε<tspan font-size="0.7em" dy="0.3em">33</tspan><tspan dy="-0.3em">/ε</tspan><tspan font-size="0.7em" dy="0.3em">0</tspan><tspan dy="-0.3em">)</tspan></text>
<text x="436.70" y="151.60" font-size="8.4" text-anchor="middle" fill="#222" stroke="#222" >Temperature (K)</text>
<text x="386.80" y="24.00" font-size="8.6" text-anchor="start" fill="#222" stroke="#222" >PINMT32</text>
<text x="438.60" y="73.60" font-size="8.4" text-anchor="start" fill="#222" stroke="#222" ><tspan fill="#777" stroke="none">Δ</tspan>=2200</text>
<line x1="444.80" y1="94.60" x2="458.00" y2="94.60" stroke="#ea3f3a" stroke-width="1.5" />
<text x="461.10" y="97.10" font-size="6.9" text-anchor="start" fill="#222" stroke="#222" >1 Hz</text>
<line x1="444.80" y1="102.40" x2="458.00" y2="102.40" stroke="#f2b82a" stroke-width="1.5" />
<text x="461.10" y="104.90" font-size="6.9" text-anchor="start" fill="#222" stroke="#222" >10 Hz</text>
<line x1="444.80" y1="110.50" x2="458.00" y2="110.50" stroke="#1fbfae" stroke-width="1.5" />
<text x="461.10" y="113.00" font-size="6.9" text-anchor="start" fill="#222" stroke="#222" >100 Hz</text>
<line x1="444.80" y1="118.20" x2="458.00" y2="118.20" stroke="#3cb4ea" stroke-width="1.5" />
<text x="461.10" y="120.70" font-size="6.9" text-anchor="start" fill="#222" stroke="#222" >1000 Hz</text>
<path d="M41.70,246.00 L42.20,245.38 L42.71,244.75 L43.21,244.10 L43.71,243.43 L44.22,242.74 L44.72,242.04 L45.22,241.32 L45.73,240.59 L46.23,239.85 L46.73,239.09 L47.24,238.32 L47.74,237.53 L48.25,236.74 L48.75,235.93 L49.25,235.12 L49.76,234.29 L50.26,233.45 L50.76,232.61 L51.27,231.76 L51.77,230.90 L52.27,230.03 L52.78,229.16 L53.28,228.28 L53.78,227.40 L54.29,226.51 L54.79,225.62 L55.29,224.73 L55.80,223.83 L56.30,222.93 L56.80,222.03 L57.31,221.13 L57.81,220.23 L58.32,219.33 L58.82,218.43 L59.32,217.53 L59.83,216.63 L60.33,215.74 L60.83,214.85 L61.34,213.96 L61.84,213.08 L62.34,212.21 L62.85,211.34 L63.35,210.47 L63.85,209.62 L64.36,208.77 L64.86,207.93 L65.36,207.10 L65.87,206.28 L66.37,205.46 L66.87,204.66 L67.38,203.87 L67.88,203.10 L68.38,202.33 L68.89,201.58 L69.39,200.84 L69.90,200.11 L70.40,199.40 L70.90,198.71 L71.41,198.03 L71.91,197.37 L72.41,196.73 L72.92,196.10 L73.42,195.49 L73.92,194.90 L74.43,194.33 L74.93,193.78 L75.43,193.26 L75.94,192.75 L76.44,192.27 L76.94,191.81 L77.45,191.37 L77.95,190.95 L78.45,190.56 L78.96,190.20 L79.46,189.86 L79.97,189.55 L80.47,189.26 L80.97,189.00 L81.48,188.77 L81.98,188.57 L82.48,188.40 L82.99,188.26 L83.49,188.15 L83.99,188.07 L84.50,188.02 L85.00,188.00 L85.50,188.01 L86.01,188.04 L86.51,188.10 L87.01,188.17 L87.51,188.26 L88.02,188.38 L88.52,188.51 L89.02,188.66 L89.53,188.83 L90.03,189.02 L90.53,189.23 L91.03,189.46 L91.54,189.70 L92.04,189.96 L92.54,190.24 L93.04,190.54 L93.55,190.85 L94.05,191.18 L94.55,191.52 L95.06,191.88 L95.56,192.25 L96.06,192.64 L96.56,193.05 L97.07,193.46 L97.57,193.90 L98.07,194.34 L98.58,194.80 L99.08,195.27 L99.58,195.76 L100.08,196.25 L100.59,196.76 L101.09,197.28 L101.59,197.81 L102.10,198.36 L102.60,198.91 L103.10,199.48 L103.60,200.05 L104.11,200.63 L104.61,201.23 L105.11,201.83 L105.61,202.44 L106.12,203.06 L106.62,203.69 L107.12,204.33 L107.63,204.97 L108.13,205.62 L108.63,206.28 L109.13,206.95 L109.64,207.62 L110.14,208.29 L110.64,208.98 L111.15,209.67 L111.65,210.36 L112.15,211.06 L112.65,211.76 L113.16,212.47 L113.66,213.18 L114.16,213.89 L114.67,214.61 L115.17,215.33 L115.67,216.05 L116.17,216.78 L116.68,217.50 L117.18,218.23 L117.68,218.96 L118.19,219.69 L118.69,220.42 L119.19,221.16 L119.69,221.89 L120.20,222.62 L120.70,223.35 L121.20,224.08 L121.70,224.81 L122.21,225.54 L122.71,226.26 L123.21,226.99 L123.72,227.71 L124.22,228.42 L124.72,229.14 L125.22,229.85 L125.73,230.56 L126.23,231.26 L126.73,231.96 L127.24,232.65 L127.74,233.34 L128.24,234.03 L128.74,234.71 L129.25,235.38 L129.75,236.04 L130.25,236.70 L130.76,237.36 L131.26,238.00 L131.76,238.64 L132.26,239.27 L132.77,239.89 L133.27,240.50 L133.77,241.11 L134.27,241.70 L134.78,242.29 L135.28,242.87 L135.78,243.43 L136.29,243.99 L136.79,244.53 L137.29,245.07 L137.79,245.59 L138.30,246.10 L138.80,246.60" fill="none" stroke="#d6f7fd" stroke-width="1.15" stroke-linejoin="round"/>
<path d="M41.70,248.00 L42.20,247.40 L42.71,246.79 L43.21,246.16 L43.71,245.51 L44.22,244.85 L44.72,244.17 L45.22,243.48 L45.73,242.77 L46.23,242.05 L46.73,241.32 L47.24,240.58 L47.74,239.82 L48.24,239.05 L48.75,238.28 L49.25,237.49 L49.75,236.69 L50.26,235.88 L50.76,235.07 L51.26,234.25 L51.77,233.42 L52.27,232.58 L52.78,231.74 L53.28,230.89 L53.78,230.04 L54.29,229.18 L54.79,228.32 L55.29,227.45 L55.80,226.59 L56.30,225.72 L56.80,224.84 L57.31,223.97 L57.81,223.10 L58.31,222.23 L58.82,221.35 L59.32,220.48 L59.82,219.61 L60.33,218.74 L60.83,217.88 L61.33,217.02 L61.84,216.16 L62.34,215.31 L62.84,214.46 L63.35,213.62 L63.85,212.78 L64.35,211.95 L64.86,211.13 L65.36,210.31 L65.86,209.51 L66.37,208.71 L66.87,207.92 L67.37,207.15 L67.88,206.38 L68.38,205.62 L68.88,204.88 L69.39,204.15 L69.89,203.43 L70.39,202.72 L70.90,202.03 L71.40,201.35 L71.90,200.69 L72.41,200.04 L72.91,199.41 L73.41,198.80 L73.92,198.20 L74.42,197.62 L74.92,197.06 L75.43,196.52 L75.93,195.99 L76.44,195.49 L76.94,195.01 L77.44,194.55 L77.95,194.11 L78.45,193.70 L78.95,193.30 L79.46,192.93 L79.96,192.58 L80.46,192.26 L80.97,191.97 L81.47,191.70 L81.97,191.45 L82.48,191.23 L82.98,191.04 L83.48,190.88 L83.99,190.74 L84.49,190.64 L84.99,190.56 L85.50,190.52 L86.00,190.50 L86.50,190.51 L87.01,190.54 L87.51,190.59 L88.01,190.66 L88.51,190.75 L89.02,190.85 L89.52,190.98 L90.02,191.12 L90.53,191.28 L91.03,191.46 L91.53,191.66 L92.03,191.87 L92.54,192.10 L93.04,192.35 L93.54,192.61 L94.05,192.89 L94.55,193.18 L95.05,193.49 L95.55,193.81 L96.06,194.15 L96.56,194.51 L97.06,194.87 L97.57,195.26 L98.07,195.65 L98.57,196.06 L99.07,196.48 L99.58,196.92 L100.08,197.36 L100.58,197.82 L101.09,198.29 L101.59,198.77 L102.09,199.27 L102.59,199.77 L103.10,200.29 L103.60,200.82 L104.10,201.35 L104.61,201.90 L105.11,202.45 L105.61,203.02 L106.11,203.59 L106.62,204.18 L107.12,204.77 L107.62,205.37 L108.13,205.97 L108.63,206.59 L109.13,207.21 L109.63,207.84 L110.14,208.48 L110.64,209.12 L111.14,209.77 L111.65,210.42 L112.15,211.08 L112.65,211.75 L113.15,212.42 L113.66,213.09 L114.16,213.77 L114.66,214.46 L115.17,215.15 L115.67,215.84 L116.17,216.53 L116.67,217.23 L117.18,217.93 L117.68,218.63 L118.18,219.34 L118.69,220.05 L119.19,220.76 L119.69,221.47 L120.19,222.18 L120.70,222.89 L121.20,223.60 L121.70,224.32 L122.21,225.03 L122.71,225.74 L123.21,226.45 L123.71,227.16 L124.22,227.87 L124.72,228.58 L125.22,229.29 L125.73,229.99 L126.23,230.69 L126.73,231.39 L127.23,232.09 L127.74,232.78 L128.24,233.47 L128.74,234.16 L129.25,234.84 L129.75,235.51 L130.25,236.19 L130.75,236.85 L131.26,237.52 L131.76,238.17 L132.26,238.82 L132.77,239.47 L133.27,240.11 L133.77,240.74 L134.27,241.36 L134.78,241.98 L135.28,242.59 L135.78,243.19 L136.29,243.79 L136.79,244.37 L137.29,244.95 L137.79,245.52 L138.30,246.08 L138.80,246.63" fill="none" stroke="#c3f2fc" stroke-width="1.15" stroke-linejoin="round"/>
<path d="M41.70,250.50 L42.20,249.92 L42.71,249.32 L43.21,248.71 L43.71,248.08 L44.22,247.43 L44.72,246.78 L45.22,246.10 L45.73,245.42 L46.23,244.72 L46.73,244.01 L47.24,243.28 L47.74,242.55 L48.24,241.81 L48.75,241.05 L49.25,240.29 L49.75,239.51 L50.26,238.73 L50.76,237.94 L51.26,237.14 L51.77,236.34 L52.27,235.52 L52.77,234.71 L53.28,233.88 L53.78,233.05 L54.28,232.22 L54.79,231.38 L55.29,230.54 L55.79,229.70 L56.30,228.85 L56.80,228.00 L57.30,227.15 L57.81,226.30 L58.31,225.45 L58.81,224.60 L59.32,223.75 L59.82,222.90 L60.32,222.06 L60.83,221.21 L61.33,220.37 L61.83,219.53 L62.34,218.70 L62.84,217.87 L63.34,217.04 L63.85,216.22 L64.35,215.40 L64.85,214.60 L65.36,213.79 L65.86,213.00 L66.36,212.21 L66.87,211.44 L67.37,210.67 L67.87,209.91 L68.38,209.16 L68.88,208.42 L69.38,207.69 L69.89,206.97 L70.39,206.27 L70.89,205.58 L71.40,204.90 L71.90,204.24 L72.40,203.58 L72.91,202.95 L73.41,202.33 L73.91,201.72 L74.42,201.13 L74.92,200.56 L75.42,200.01 L75.93,199.47 L76.43,198.95 L76.93,198.45 L77.44,197.97 L77.94,197.51 L78.44,197.07 L78.95,196.65 L79.45,196.25 L79.95,195.87 L80.46,195.52 L80.96,195.19 L81.46,194.88 L81.97,194.60 L82.47,194.34 L82.97,194.11 L83.48,193.90 L83.98,193.72 L84.48,193.56 L84.99,193.43 L85.49,193.33 L85.99,193.26 L86.50,193.21 L87.00,193.20 L87.50,193.21 L88.01,193.24 L88.51,193.28 L89.01,193.35 L89.51,193.43 L90.02,193.53 L90.52,193.65 L91.02,193.78 L91.53,193.93 L92.03,194.10 L92.53,194.28 L93.03,194.48 L93.54,194.69 L94.04,194.92 L94.54,195.17 L95.05,195.43 L95.55,195.70 L96.05,195.99 L96.56,196.30 L97.06,196.62 L97.56,196.95 L98.06,197.29 L98.57,197.65 L99.07,198.02 L99.57,198.40 L100.08,198.80 L100.58,199.21 L101.08,199.63 L101.58,200.06 L102.09,200.51 L102.59,200.96 L103.09,201.43 L103.60,201.90 L104.10,202.39 L104.60,202.89 L105.10,203.39 L105.61,203.91 L106.11,204.43 L106.61,204.97 L107.12,205.51 L107.62,206.07 L108.12,206.63 L108.63,207.19 L109.13,207.77 L109.63,208.36 L110.13,208.95 L110.64,209.55 L111.14,210.15 L111.64,210.77 L112.15,211.38 L112.65,212.01 L113.15,212.64 L113.65,213.28 L114.16,213.92 L114.66,214.57 L115.16,215.22 L115.67,215.87 L116.17,216.53 L116.67,217.20 L117.17,217.87 L117.68,218.54 L118.18,219.21 L118.68,219.89 L119.19,220.57 L119.69,221.26 L120.19,221.95 L120.70,222.63 L121.20,223.32 L121.70,224.02 L122.20,224.71 L122.71,225.40 L123.21,226.10 L123.71,226.79 L124.22,227.49 L124.72,228.18 L125.22,228.88 L125.72,229.58 L126.23,230.27 L126.73,230.96 L127.23,231.66 L127.74,232.35 L128.24,233.03 L128.74,233.72 L129.24,234.41 L129.75,235.09 L130.25,235.77 L130.75,236.45 L131.26,237.12 L131.76,237.79 L132.26,238.45 L132.77,239.12 L133.27,239.77 L133.77,240.43 L134.27,241.08 L134.78,241.72 L135.28,242.36 L135.78,242.99 L136.29,243.62 L136.79,244.24 L137.29,244.85 L137.79,245.46 L138.30,246.06 L138.80,246.66" fill="none" stroke="#b0ecfa" stroke-width="1.15" stroke-linejoin="round"/>
<path d="M41.70,253.50 L42.20,252.94 L42.70,252.36 L43.20,251.77 L43.70,251.17 L44.21,250.55 L44.71,249.91 L45.21,249.27 L45.71,248.61 L46.21,247.93 L46.71,247.25 L47.21,246.56 L47.71,245.85 L48.21,245.14 L48.72,244.41 L49.22,243.68 L49.72,242.93 L50.22,242.18 L50.72,241.42 L51.22,240.65 L51.72,239.88 L52.22,239.10 L52.72,238.31 L53.23,237.52 L53.73,236.72 L54.23,235.92 L54.73,235.12 L55.23,234.31 L55.73,233.50 L56.23,232.68 L56.73,231.86 L57.23,231.05 L57.73,230.23 L58.24,229.41 L58.74,228.58 L59.24,227.76 L59.74,226.94 L60.24,226.13 L60.74,225.31 L61.24,224.49 L61.74,223.68 L62.24,222.87 L62.75,222.07 L63.25,221.27 L63.75,220.47 L64.25,219.68 L64.75,218.89 L65.25,218.11 L65.75,217.34 L66.25,216.57 L66.75,215.81 L67.26,215.06 L67.76,214.32 L68.26,213.59 L68.76,212.86 L69.26,212.15 L69.76,211.44 L70.26,210.75 L70.76,210.07 L71.26,209.40 L71.77,208.74 L72.27,208.09 L72.77,207.46 L73.27,206.84 L73.77,206.24 L74.27,205.65 L74.77,205.07 L75.27,204.51 L75.77,203.97 L76.28,203.44 L76.78,202.93 L77.28,202.44 L77.78,201.97 L78.28,201.51 L78.78,201.08 L79.28,200.66 L79.78,200.26 L80.28,199.88 L80.78,199.53 L81.29,199.19 L81.79,198.88 L82.29,198.59 L82.79,198.32 L83.29,198.08 L83.79,197.86 L84.29,197.66 L84.79,197.49 L85.29,197.34 L85.80,197.22 L86.30,197.12 L86.80,197.06 L87.30,197.01 L87.80,197.00 L88.30,197.01 L88.80,197.03 L89.30,197.07 L89.80,197.13 L90.30,197.20 L90.80,197.29 L91.30,197.40 L91.80,197.51 L92.30,197.65 L92.80,197.80 L93.30,197.96 L93.80,198.14 L94.30,198.33 L94.80,198.54 L95.30,198.76 L95.80,198.99 L96.30,199.23 L96.80,199.49 L97.30,199.77 L97.80,200.05 L98.30,200.35 L98.80,200.66 L99.30,200.98 L99.80,201.31 L100.30,201.66 L100.80,202.02 L101.30,202.38 L101.80,202.76 L102.30,203.15 L102.80,203.55 L103.30,203.96 L103.80,204.38 L104.30,204.81 L104.80,205.25 L105.30,205.71 L105.80,206.16 L106.30,206.63 L106.80,207.11 L107.30,207.60 L107.80,208.09 L108.30,208.59 L108.80,209.11 L109.30,209.62 L109.80,210.15 L110.30,210.69 L110.80,211.23 L111.30,211.78 L111.80,212.33 L112.30,212.89 L112.80,213.46 L113.30,214.04 L113.80,214.62 L114.30,215.20 L114.80,215.79 L115.30,216.39 L115.80,216.99 L116.30,217.60 L116.80,218.21 L117.30,218.83 L117.80,219.45 L118.30,220.08 L118.80,220.71 L119.30,221.34 L119.80,221.97 L120.30,222.61 L120.80,223.26 L121.30,223.90 L121.80,224.55 L122.30,225.20 L122.80,225.85 L123.30,226.51 L123.80,227.17 L124.30,227.82 L124.80,228.48 L125.30,229.15 L125.80,229.81 L126.30,230.47 L126.80,231.13 L127.30,231.80 L127.80,232.46 L128.30,233.12 L128.80,233.79 L129.30,234.45 L129.80,235.11 L130.30,235.78 L130.80,236.44 L131.30,237.09 L131.80,237.75 L132.30,238.41 L132.80,239.06 L133.30,239.71 L133.80,240.36 L134.30,241.01 L134.80,241.66 L135.30,242.30 L135.80,242.93 L136.30,243.57 L136.80,244.20 L137.30,244.83 L137.80,245.45 L138.30,246.07 L138.80,246.68" fill="none" stroke="#90e0f6" stroke-width="1.15" stroke-linejoin="round"/>
<path d="M41.70,257.00 L42.20,256.45 L42.71,255.89 L43.21,255.31 L43.71,254.72 L44.22,254.12 L44.72,253.50 L45.22,252.87 L45.73,252.22 L46.23,251.57 L46.73,250.90 L47.24,250.22 L47.74,249.54 L48.24,248.84 L48.75,248.13 L49.25,247.42 L49.75,246.69 L50.25,245.96 L50.76,245.22 L51.26,244.47 L51.76,243.71 L52.27,242.95 L52.77,242.19 L53.27,241.41 L53.78,240.64 L54.28,239.85 L54.78,239.07 L55.29,238.28 L55.79,237.49 L56.29,236.69 L56.80,235.89 L57.30,235.09 L57.80,234.29 L58.31,233.49 L58.81,232.69 L59.31,231.89 L59.82,231.09 L60.32,230.29 L60.82,229.49 L61.33,228.69 L61.83,227.90 L62.33,227.11 L62.84,226.32 L63.34,225.53 L63.84,224.75 L64.35,223.98 L64.85,223.21 L65.35,222.44 L65.85,221.68 L66.36,220.93 L66.86,220.18 L67.36,219.45 L67.87,218.72 L68.37,217.99 L68.87,217.28 L69.38,216.58 L69.88,215.88 L70.38,215.20 L70.89,214.53 L71.39,213.86 L71.89,213.21 L72.40,212.57 L72.90,211.95 L73.40,211.33 L73.91,210.73 L74.41,210.15 L74.91,209.57 L75.42,209.02 L75.92,208.48 L76.42,207.95 L76.93,207.44 L77.43,206.94 L77.93,206.47 L78.44,206.01 L78.94,205.57 L79.44,205.14 L79.95,204.74 L80.45,204.36 L80.95,203.99 L81.45,203.65 L81.96,203.32 L82.46,203.02 L82.96,202.74 L83.47,202.48 L83.97,202.24 L84.47,202.03 L84.98,201.84 L85.48,201.67 L85.98,201.53 L86.49,201.41 L86.99,201.32 L87.49,201.25 L88.00,201.21 L88.50,201.20 L89.00,201.21 L89.51,201.23 L90.01,201.26 L90.51,201.31 L91.02,201.37 L91.52,201.45 L92.02,201.54 L92.52,201.64 L93.03,201.76 L93.53,201.88 L94.03,202.02 L94.54,202.18 L95.04,202.34 L95.54,202.52 L96.05,202.71 L96.55,202.91 L97.05,203.12 L97.55,203.35 L98.06,203.58 L98.56,203.83 L99.06,204.09 L99.57,204.36 L100.07,204.64 L100.57,204.93 L101.08,205.23 L101.58,205.54 L102.08,205.87 L102.58,206.20 L103.09,206.54 L103.59,206.89 L104.09,207.25 L104.60,207.62 L105.10,208.00 L105.60,208.39 L106.11,208.79 L106.61,209.20 L107.11,209.62 L107.61,210.04 L108.12,210.47 L108.62,210.91 L109.12,211.36 L109.63,211.82 L110.13,212.29 L110.63,212.76 L111.14,213.24 L111.64,213.73 L112.14,214.22 L112.64,214.72 L113.15,215.23 L113.65,215.75 L114.15,216.27 L114.66,216.80 L115.16,217.33 L115.66,217.87 L116.17,218.42 L116.67,218.97 L117.17,219.53 L117.67,220.09 L118.18,220.66 L118.68,221.24 L119.18,221.81 L119.69,222.40 L120.19,222.99 L120.69,223.58 L121.20,224.18 L121.70,224.78 L122.20,225.39 L122.70,226.00 L123.21,226.61 L123.71,227.23 L124.21,227.85 L124.72,228.48 L125.22,229.10 L125.72,229.74 L126.23,230.37 L126.73,231.01 L127.23,231.65 L127.73,232.29 L128.24,232.93 L128.74,233.58 L129.24,234.23 L129.75,234.88 L130.25,235.53 L130.75,236.18 L131.25,236.84 L131.76,237.49 L132.26,238.15 L132.76,238.81 L133.27,239.47 L133.77,240.13 L134.27,240.79 L134.78,241.45 L135.28,242.11 L135.78,242.77 L136.29,243.43 L136.79,244.09 L137.29,244.75 L137.79,245.41 L138.30,246.07 L138.80,246.73" fill="none" stroke="#50beee" stroke-width="1.15" stroke-linejoin="round"/>
<path d="M41.70,260.20 L42.20,259.68 L42.71,259.14 L43.21,258.60 L43.72,258.04 L44.22,257.46 L44.72,256.88 L45.23,256.28 L45.73,255.67 L46.24,255.05 L46.74,254.42 L47.25,253.78 L47.75,253.13 L48.25,252.47 L48.76,251.80 L49.26,251.13 L49.77,250.44 L50.27,249.75 L50.77,249.05 L51.28,248.34 L51.78,247.63 L52.29,246.91 L52.79,246.18 L53.29,245.45 L53.80,244.72 L54.30,243.98 L54.81,243.23 L55.31,242.48 L55.82,241.73 L56.32,240.98 L56.82,240.22 L57.33,239.46 L57.83,238.70 L58.34,237.94 L58.84,237.18 L59.34,236.42 L59.85,235.65 L60.35,234.89 L60.86,234.13 L61.36,233.37 L61.86,232.61 L62.37,231.85 L62.87,231.09 L63.38,230.34 L63.88,229.59 L64.39,228.85 L64.89,228.10 L65.39,227.37 L65.90,226.63 L66.40,225.90 L66.91,225.18 L67.41,224.46 L67.91,223.75 L68.42,223.05 L68.92,222.35 L69.43,221.66 L69.93,220.98 L70.44,220.31 L70.94,219.65 L71.44,218.99 L71.95,218.35 L72.45,217.71 L72.96,217.08 L73.46,216.47 L73.96,215.87 L74.47,215.27 L74.97,214.69 L75.48,214.13 L75.98,213.57 L76.48,213.03 L76.99,212.50 L77.49,211.99 L78.00,211.48 L78.50,211.00 L79.01,210.53 L79.51,210.07 L80.01,209.63 L80.52,209.21 L81.02,208.81 L81.53,208.42 L82.03,208.05 L82.53,207.69 L83.04,207.36 L83.54,207.04 L84.05,206.74 L84.55,206.47 L85.05,206.21 L85.56,205.97 L86.06,205.75 L86.57,205.56 L87.07,205.38 L87.58,205.23 L88.08,205.10 L88.58,204.99 L89.09,204.91 L89.59,204.85 L90.10,204.81 L90.60,204.80 L91.10,204.81 L91.60,204.83 L92.11,204.86 L92.61,204.90 L93.11,204.96 L93.61,205.03 L94.11,205.12 L94.62,205.21 L95.12,205.32 L95.62,205.44 L96.12,205.57 L96.62,205.72 L97.13,205.87 L97.63,206.04 L98.13,206.22 L98.63,206.41 L99.14,206.61 L99.64,206.82 L100.14,207.04 L100.64,207.28 L101.14,207.52 L101.65,207.77 L102.15,208.04 L102.65,208.31 L103.15,208.60 L103.65,208.90 L104.16,209.20 L104.66,209.52 L105.16,209.84 L105.66,210.18 L106.16,210.52 L106.67,210.87 L107.17,211.23 L107.67,211.61 L108.17,211.98 L108.67,212.37 L109.18,212.77 L109.68,213.18 L110.18,213.59 L110.68,214.01 L111.19,214.44 L111.69,214.88 L112.19,215.33 L112.69,215.78 L113.19,216.24 L113.70,216.71 L114.20,217.19 L114.70,217.67 L115.20,218.16 L115.70,218.66 L116.21,219.16 L116.71,219.67 L117.21,220.19 L117.71,220.71 L118.21,221.24 L118.72,221.78 L119.22,222.32 L119.72,222.87 L120.22,223.42 L120.73,223.98 L121.23,224.54 L121.73,225.11 L122.23,225.69 L122.73,226.27 L123.24,226.85 L123.74,227.44 L124.24,228.04 L124.74,228.64 L125.24,229.24 L125.75,229.85 L126.25,230.46 L126.75,231.08 L127.25,231.70 L127.75,232.32 L128.26,232.95 L128.76,233.58 L129.26,234.21 L129.76,234.85 L130.26,235.49 L130.77,236.14 L131.27,236.78 L131.77,237.43 L132.27,238.09 L132.78,238.74 L133.28,239.40 L133.78,240.06 L134.28,240.72 L134.78,241.39 L135.29,242.05 L135.79,242.72 L136.29,243.39 L136.79,244.06 L137.29,244.73 L137.80,245.40 L138.30,246.08 L138.80,246.75" fill="none" stroke="#41b0e6" stroke-width="1.15" stroke-linejoin="round"/>
<path d="M41.70,264.20 L42.20,263.75 L42.70,263.28 L43.20,262.81 L43.70,262.32 L44.20,261.82 L44.70,261.32 L45.20,260.80 L45.70,260.27 L46.20,259.74 L46.70,259.20 L47.20,258.65 L47.70,258.09 L48.20,257.52 L48.70,256.94 L49.20,256.36 L49.70,255.77 L50.20,255.18 L50.70,254.58 L51.20,253.97 L51.70,253.35 L52.20,252.74 L52.70,252.11 L53.20,251.48 L53.70,250.85 L54.20,250.21 L54.70,249.57 L55.20,248.92 L55.70,248.28 L56.20,247.62 L56.70,246.97 L57.20,246.31 L57.70,245.65 L58.20,244.99 L58.70,244.33 L59.20,243.67 L59.70,243.00 L60.20,242.34 L60.70,241.67 L61.20,241.01 L61.70,240.34 L62.20,239.68 L62.70,239.01 L63.20,238.35 L63.70,237.69 L64.20,237.03 L64.70,236.37 L65.20,235.72 L65.70,235.06 L66.20,234.41 L66.70,233.77 L67.20,233.12 L67.70,232.48 L68.20,231.85 L68.70,231.22 L69.20,230.59 L69.70,229.97 L70.20,229.36 L70.70,228.75 L71.20,228.14 L71.70,227.54 L72.20,226.95 L72.70,226.37 L73.20,225.79 L73.70,225.22 L74.20,224.66 L74.70,224.10 L75.20,223.56 L75.70,223.02 L76.20,222.49 L76.70,221.97 L77.20,221.46 L77.70,220.96 L78.20,220.47 L78.70,219.99 L79.20,219.52 L79.70,219.07 L80.20,218.62 L80.70,218.18 L81.20,217.76 L81.70,217.35 L82.20,216.95 L82.70,216.57 L83.20,216.19 L83.70,215.83 L84.20,215.49 L84.70,215.16 L85.20,214.84 L85.70,214.53 L86.20,214.25 L86.70,213.97 L87.20,213.72 L87.70,213.47 L88.20,213.25 L88.70,213.04 L89.20,212.85 L89.70,212.67 L90.20,212.51 L90.70,212.37 L91.20,212.25 L91.70,212.14 L92.20,212.06 L92.70,211.99 L93.20,211.94 L93.70,211.91 L94.20,211.90 L94.70,211.91 L95.20,211.92 L95.70,211.95 L96.20,211.99 L96.71,212.04 L97.21,212.10 L97.71,212.17 L98.21,212.25 L98.71,212.34 L99.21,212.44 L99.71,212.55 L100.21,212.67 L100.71,212.80 L101.22,212.95 L101.72,213.10 L102.22,213.26 L102.72,213.43 L103.22,213.61 L103.72,213.80 L104.22,214.00 L104.72,214.21 L105.22,214.43 L105.73,214.66 L106.23,214.90 L106.73,215.15 L107.23,215.41 L107.73,215.67 L108.23,215.95 L108.73,216.23 L109.23,216.52 L109.73,216.82 L110.24,217.13 L110.74,217.45 L111.24,217.78 L111.74,218.12 L112.24,218.46 L112.74,218.81 L113.24,219.17 L113.74,219.54 L114.24,219.92 L114.75,220.31 L115.25,220.70 L115.75,221.10 L116.25,221.51 L116.75,221.92 L117.25,222.35 L117.75,222.78 L118.25,223.22 L118.76,223.67 L119.26,224.12 L119.76,224.58 L120.26,225.05 L120.76,225.53 L121.26,226.01 L121.76,226.50 L122.26,227.00 L122.76,227.50 L123.27,228.01 L123.77,228.53 L124.27,229.05 L124.77,229.58 L125.27,230.12 L125.77,230.66 L126.27,231.21 L126.77,231.77 L127.27,232.33 L127.78,232.90 L128.28,233.48 L128.78,234.06 L129.28,234.64 L129.78,235.23 L130.28,235.83 L130.78,236.43 L131.28,237.04 L131.78,237.66 L132.29,238.28 L132.79,238.90 L133.29,239.53 L133.79,240.17 L134.29,240.81 L134.79,241.46 L135.29,242.11 L135.79,242.76 L136.29,243.43 L136.80,244.09 L137.30,244.76 L137.80,245.44 L138.30,246.12 L138.80,246.80" fill="none" stroke="#2793d4" stroke-width="1.15" stroke-linejoin="round"/>
<path d="M41.70,268.20 L42.20,267.74 L42.71,267.28 L43.21,266.80 L43.71,266.31 L44.22,265.82 L44.72,265.31 L45.23,264.79 L45.73,264.27 L46.23,263.73 L46.74,263.19 L47.24,262.64 L47.74,262.08 L48.25,261.51 L48.75,260.93 L49.26,260.35 L49.76,259.76 L50.26,259.17 L50.77,258.56 L51.27,257.96 L51.77,257.34 L52.28,256.72 L52.78,256.10 L53.29,255.47 L53.79,254.83 L54.29,254.20 L54.80,253.55 L55.30,252.91 L55.80,252.26 L56.31,251.61 L56.81,250.95 L57.32,250.29 L57.82,249.63 L58.32,248.97 L58.83,248.31 L59.33,247.64 L59.83,246.97 L60.34,246.31 L60.84,245.64 L61.35,244.97 L61.85,244.30 L62.35,243.63 L62.86,242.97 L63.36,242.30 L63.86,241.64 L64.37,240.97 L64.87,240.31 L65.38,239.65 L65.88,238.99 L66.38,238.34 L66.89,237.69 L67.39,237.04 L67.89,236.39 L68.40,235.75 L68.90,235.11 L69.41,234.48 L69.91,233.85 L70.41,233.23 L70.92,232.61 L71.42,232.00 L71.92,231.39 L72.43,230.79 L72.93,230.19 L73.44,229.61 L73.94,229.02 L74.44,228.45 L74.95,227.88 L75.45,227.33 L75.95,226.78 L76.46,226.23 L76.96,225.70 L77.47,225.18 L77.97,224.66 L78.47,224.16 L78.98,223.66 L79.48,223.17 L79.98,222.70 L80.49,222.23 L80.99,221.78 L81.50,221.34 L82.00,220.91 L82.50,220.49 L83.01,220.08 L83.51,219.69 L84.01,219.31 L84.52,218.94 L85.02,218.58 L85.53,218.24 L86.03,217.91 L86.53,217.60 L87.04,217.30 L87.54,217.02 L88.04,216.75 L88.55,216.49 L89.05,216.25 L89.56,216.03 L90.06,215.82 L90.56,215.63 L91.07,215.46 L91.57,215.30 L92.07,215.16 L92.58,215.04 L93.08,214.94 L93.59,214.85 L94.09,214.79 L94.59,214.74 L95.10,214.71 L95.60,214.70 L96.10,214.70 L96.60,214.72 L97.11,214.74 L97.61,214.78 L98.11,214.82 L98.61,214.88 L99.12,214.94 L99.62,215.02 L100.12,215.10 L100.62,215.19 L101.13,215.29 L101.63,215.41 L102.13,215.53 L102.63,215.66 L103.13,215.80 L103.64,215.95 L104.14,216.10 L104.64,216.27 L105.14,216.45 L105.65,216.63 L106.15,216.83 L106.65,217.03 L107.15,217.25 L107.66,217.47 L108.16,217.70 L108.66,217.94 L109.16,218.19 L109.67,218.45 L110.17,218.71 L110.67,218.99 L111.17,219.27 L111.67,219.56 L112.18,219.86 L112.68,220.17 L113.18,220.49 L113.68,220.81 L114.19,221.15 L114.69,221.49 L115.19,221.84 L115.69,222.20 L116.20,222.57 L116.70,222.94 L117.20,223.33 L117.70,223.72 L118.20,224.12 L118.71,224.52 L119.21,224.94 L119.71,225.36 L120.21,225.79 L120.72,226.23 L121.22,226.68 L121.72,227.13 L122.22,227.59 L122.73,228.06 L123.23,228.54 L123.73,229.02 L124.23,229.52 L124.73,230.02 L125.24,230.52 L125.74,231.04 L126.24,231.56 L126.74,232.09 L127.25,232.62 L127.75,233.16 L128.25,233.71 L128.75,234.27 L129.26,234.84 L129.76,235.41 L130.26,235.98 L130.76,236.57 L131.27,237.16 L131.77,237.76 L132.27,238.36 L132.77,238.98 L133.27,239.59 L133.78,240.22 L134.28,240.85 L134.78,241.49 L135.28,242.13 L135.79,242.78 L136.29,243.44 L136.79,244.11 L137.29,244.78 L137.80,245.45 L138.30,246.14 L138.80,246.82" fill="none" stroke="#2283c1" stroke-width="1.15" stroke-linejoin="round"/>
<path d="M41.70,271.40 L42.20,271.02 L42.70,270.64 L43.20,270.25 L43.70,269.85 L44.20,269.44 L44.70,269.03 L45.20,268.61 L45.70,268.18 L46.20,267.75 L46.70,267.31 L47.20,266.86 L47.70,266.41 L48.20,265.95 L48.70,265.48 L49.20,265.01 L49.70,264.54 L50.20,264.06 L50.70,263.57 L51.20,263.08 L51.70,262.58 L52.20,262.08 L52.70,261.58 L53.20,261.07 L53.70,260.56 L54.20,260.04 L54.70,259.52 L55.20,259.00 L55.70,258.47 L56.20,257.94 L56.70,257.41 L57.20,256.88 L57.70,256.34 L58.20,255.80 L58.70,255.26 L59.20,254.72 L59.70,254.17 L60.20,253.63 L60.70,253.08 L61.20,252.53 L61.70,251.98 L62.20,251.43 L62.70,250.88 L63.20,250.33 L63.70,249.77 L64.20,249.22 L64.70,248.67 L65.20,248.12 L65.70,247.57 L66.20,247.02 L66.70,246.47 L67.20,245.92 L67.70,245.37 L68.20,244.83 L68.70,244.28 L69.20,243.74 L69.70,243.20 L70.20,242.66 L70.70,242.12 L71.20,241.59 L71.70,241.06 L72.20,240.53 L72.70,240.00 L73.20,239.48 L73.70,238.96 L74.20,238.45 L74.70,237.94 L75.20,237.43 L75.70,236.93 L76.20,236.43 L76.70,235.94 L77.20,235.45 L77.70,234.96 L78.20,234.48 L78.70,234.01 L79.20,233.54 L79.70,233.08 L80.20,232.62 L80.70,232.17 L81.20,231.72 L81.70,231.28 L82.20,230.85 L82.70,230.42 L83.20,230.00 L83.70,229.59 L84.20,229.19 L84.70,228.79 L85.20,228.40 L85.70,228.02 L86.20,227.65 L86.70,227.28 L87.20,226.92 L87.70,226.58 L88.20,226.24 L88.70,225.90 L89.20,225.58 L89.70,225.27 L90.20,224.97 L90.70,224.67 L91.20,224.39 L91.70,224.12 L92.20,223.85 L92.70,223.60 L93.20,223.36 L93.70,223.13 L94.20,222.91 L94.70,222.70 L95.20,222.50 L95.70,222.31 L96.20,222.13 L96.70,221.97 L97.20,221.82 L97.70,221.68 L98.20,221.55 L98.70,221.44 L99.20,221.34 L99.70,221.25 L100.20,221.17 L100.70,221.11 L101.20,221.06 L101.70,221.03 L102.20,221.01 L102.70,221.00 L103.20,221.00 L103.70,221.02 L104.20,221.04 L104.71,221.07 L105.21,221.11 L105.71,221.16 L106.21,221.22 L106.71,221.29 L107.21,221.37 L107.71,221.46 L108.22,221.56 L108.72,221.66 L109.22,221.78 L109.72,221.91 L110.22,222.04 L110.72,222.19 L111.22,222.34 L111.73,222.51 L112.23,222.68 L112.73,222.87 L113.23,223.06 L113.73,223.27 L114.23,223.48 L114.73,223.70 L115.23,223.94 L115.74,224.18 L116.24,224.43 L116.74,224.70 L117.24,224.97 L117.74,225.26 L118.24,225.55 L118.74,225.86 L119.25,226.17 L119.75,226.50 L120.25,226.83 L120.75,227.18 L121.25,227.54 L121.75,227.90 L122.25,228.28 L122.76,228.67 L123.26,229.07 L123.76,229.48 L124.26,229.90 L124.76,230.33 L125.26,230.77 L125.76,231.22 L126.27,231.68 L126.77,232.16 L127.27,232.64 L127.77,233.14 L128.27,233.64 L128.77,234.16 L129.27,234.69 L129.78,235.23 L130.28,235.78 L130.78,236.34 L131.28,236.92 L131.78,237.50 L132.28,238.10 L132.78,238.70 L133.28,239.32 L133.79,239.95 L134.29,240.59 L134.79,241.24 L135.29,241.91 L135.79,242.58 L136.29,243.27 L136.79,243.97 L137.30,244.68 L137.80,245.40 L138.30,246.13 L138.80,246.88" fill="none" stroke="#235a83" stroke-width="1.15" stroke-linejoin="round"/>
<path d="M41.70,274.60 L42.20,274.24 L42.71,273.87 L43.21,273.49 L43.71,273.11 L44.22,272.72 L44.72,272.32 L45.22,271.92 L45.73,271.51 L46.23,271.09 L46.73,270.67 L47.24,270.24 L47.74,269.80 L48.24,269.36 L48.75,268.91 L49.25,268.46 L49.75,268.01 L50.25,267.54 L50.76,267.08 L51.26,266.61 L51.76,266.13 L52.27,265.65 L52.77,265.17 L53.27,264.68 L53.78,264.19 L54.28,263.69 L54.78,263.20 L55.29,262.69 L55.79,262.19 L56.29,261.68 L56.80,261.17 L57.30,260.66 L57.80,260.14 L58.31,259.62 L58.81,259.10 L59.31,258.58 L59.82,258.06 L60.32,257.53 L60.82,257.01 L61.33,256.48 L61.83,255.95 L62.33,255.42 L62.84,254.89 L63.34,254.36 L63.84,253.83 L64.35,253.30 L64.85,252.77 L65.35,252.24 L65.85,251.71 L66.36,251.17 L66.86,250.65 L67.36,250.12 L67.87,249.59 L68.37,249.06 L68.87,248.54 L69.38,248.01 L69.88,247.49 L70.38,246.97 L70.89,246.45 L71.39,245.94 L71.89,245.42 L72.40,244.91 L72.90,244.40 L73.40,243.90 L73.91,243.40 L74.41,242.90 L74.91,242.40 L75.42,241.91 L75.92,241.42 L76.42,240.94 L76.93,240.46 L77.43,239.98 L77.93,239.51 L78.44,239.04 L78.94,238.58 L79.44,238.12 L79.95,237.67 L80.45,237.22 L80.95,236.78 L81.45,236.34 L81.96,235.91 L82.46,235.49 L82.96,235.07 L83.47,234.66 L83.97,234.25 L84.47,233.85 L84.98,233.46 L85.48,233.08 L85.98,232.70 L86.49,232.33 L86.99,231.97 L87.49,231.61 L88.00,231.26 L88.50,230.92 L89.00,230.59 L89.51,230.27 L90.01,229.95 L90.51,229.65 L91.02,229.35 L91.52,229.06 L92.02,228.79 L92.53,228.52 L93.03,228.26 L93.53,228.01 L94.04,227.77 L94.54,227.54 L95.04,227.32 L95.55,227.11 L96.05,226.91 L96.55,226.72 L97.05,226.54 L97.56,226.38 L98.06,226.22 L98.56,226.08 L99.07,225.94 L99.57,225.82 L100.07,225.72 L100.58,225.62 L101.08,225.54 L101.58,225.46 L102.09,225.41 L102.59,225.36 L103.09,225.33 L103.60,225.31 L104.10,225.30 L104.60,225.30 L105.11,225.31 L105.61,225.33 L106.11,225.36 L106.61,225.39 L107.12,225.43 L107.62,225.48 L108.12,225.54 L108.63,225.61 L109.13,225.68 L109.63,225.76 L110.13,225.85 L110.64,225.95 L111.14,226.05 L111.64,226.17 L112.15,226.29 L112.65,226.42 L113.15,226.56 L113.66,226.71 L114.16,226.87 L114.66,227.03 L115.16,227.21 L115.67,227.39 L116.17,227.59 L116.67,227.79 L117.18,228.00 L117.68,228.22 L118.18,228.45 L118.68,228.69 L119.19,228.94 L119.69,229.20 L120.19,229.47 L120.70,229.75 L121.20,230.03 L121.70,230.33 L122.20,230.64 L122.71,230.96 L123.21,231.29 L123.71,231.63 L124.22,231.97 L124.72,232.33 L125.22,232.70 L125.72,233.08 L126.23,233.47 L126.73,233.88 L127.23,234.29 L127.74,234.71 L128.24,235.14 L128.74,235.59 L129.24,236.04 L129.75,236.51 L130.25,236.99 L130.75,237.48 L131.26,237.98 L131.76,238.49 L132.26,239.02 L132.77,239.55 L133.27,240.10 L133.77,240.66 L134.27,241.23 L134.78,241.81 L135.28,242.40 L135.78,243.01 L136.29,243.63 L136.79,244.26 L137.29,244.90 L137.79,245.56 L138.30,246.22 L138.80,246.90" fill="none" stroke="#264862" stroke-width="1.15" stroke-linejoin="round"/>
<path d="M41.70,279.40 L42.20,279.11 L42.70,278.82 L43.20,278.52 L43.70,278.22 L44.20,277.92 L44.70,277.61 L45.20,277.29 L45.70,276.97 L46.20,276.65 L46.70,276.32 L47.20,275.98 L47.70,275.65 L48.20,275.31 L48.70,274.96 L49.20,274.61 L49.70,274.26 L50.20,273.90 L50.70,273.55 L51.20,273.18 L51.70,272.82 L52.20,272.45 L52.70,272.07 L53.20,271.70 L53.70,271.32 L54.20,270.94 L54.70,270.55 L55.20,270.17 L55.70,269.78 L56.20,269.39 L56.70,268.99 L57.20,268.60 L57.70,268.20 L58.20,267.80 L58.70,267.39 L59.20,266.99 L59.70,266.58 L60.20,266.18 L60.70,265.77 L61.20,265.35 L61.70,264.94 L62.20,264.53 L62.70,264.11 L63.20,263.70 L63.70,263.28 L64.20,262.86 L64.70,262.44 L65.20,262.02 L65.70,261.60 L66.20,261.18 L66.70,260.76 L67.20,260.34 L67.70,259.92 L68.20,259.50 L68.70,259.08 L69.20,258.65 L69.70,258.23 L70.20,257.81 L70.70,257.39 L71.20,256.97 L71.70,256.55 L72.20,256.13 L72.70,255.71 L73.20,255.29 L73.70,254.88 L74.20,254.46 L74.70,254.05 L75.20,253.63 L75.70,253.22 L76.20,252.81 L76.70,252.40 L77.20,251.99 L77.70,251.59 L78.20,251.18 L78.70,250.78 L79.20,250.38 L79.70,249.98 L80.20,249.58 L80.70,249.19 L81.20,248.80 L81.70,248.41 L82.20,248.02 L82.70,247.64 L83.20,247.26 L83.70,246.88 L84.20,246.50 L84.70,246.13 L85.20,245.76 L85.70,245.40 L86.20,245.03 L86.70,244.67 L87.20,244.32 L87.70,243.97 L88.20,243.62 L88.70,243.27 L89.20,242.93 L89.70,242.60 L90.20,242.26 L90.70,241.94 L91.20,241.61 L91.70,241.29 L92.20,240.98 L92.70,240.67 L93.20,240.36 L93.70,240.06 L94.20,239.76 L94.70,239.47 L95.20,239.19 L95.70,238.91 L96.20,238.63 L96.70,238.36 L97.20,238.09 L97.70,237.83 L98.20,237.58 L98.70,237.33 L99.20,237.09 L99.70,236.85 L100.20,236.62 L100.70,236.40 L101.20,236.18 L101.70,235.97 L102.20,235.77 L102.70,235.57 L103.20,235.38 L103.70,235.19 L104.20,235.01 L104.70,234.84 L105.20,234.68 L105.70,234.52 L106.20,234.37 L106.70,234.22 L107.20,234.09 L107.70,233.96 L108.20,233.84 L108.70,233.73 L109.20,233.62 L109.70,233.52 L110.20,233.43 L110.70,233.35 L111.20,233.28 L111.70,233.22 L112.20,233.16 L112.70,233.11 L113.20,233.07 L113.70,233.04 L114.20,233.02 L114.70,233.00 L115.20,233.00 L115.70,233.00 L116.20,233.01 L116.71,233.03 L117.21,233.06 L117.71,233.09 L118.21,233.14 L118.71,233.19 L119.22,233.25 L119.72,233.32 L120.22,233.40 L120.72,233.49 L121.23,233.60 L121.73,233.71 L122.23,233.84 L122.73,233.97 L123.23,234.12 L123.74,234.29 L124.24,234.46 L124.74,234.65 L125.24,234.86 L125.74,235.07 L126.25,235.31 L126.75,235.55 L127.25,235.82 L127.75,236.09 L128.26,236.39 L128.76,236.70 L129.26,237.03 L129.76,237.37 L130.26,237.74 L130.77,238.12 L131.27,238.52 L131.77,238.93 L132.27,239.37 L132.77,239.83 L133.28,240.30 L133.78,240.80 L134.28,241.32 L134.78,241.86 L135.29,242.42 L135.79,243.00 L136.29,243.60 L136.79,244.23 L137.29,244.88 L137.80,245.55 L138.30,246.25 L138.80,246.97" fill="none" stroke="#292c30" stroke-width="1.15" stroke-linejoin="round"/>
<path d="M41.70,282.60 L42.20,282.32 L42.70,282.04 L43.20,281.76 L43.70,281.47 L44.20,281.17 L44.70,280.87 L45.20,280.57 L45.71,280.26 L46.21,279.95 L46.71,279.64 L47.21,279.32 L47.71,278.99 L48.21,278.66 L48.71,278.33 L49.21,278.00 L49.71,277.66 L50.21,277.32 L50.71,276.97 L51.21,276.63 L51.71,276.27 L52.21,275.92 L52.71,275.56 L53.22,275.20 L53.72,274.84 L54.22,274.47 L54.72,274.10 L55.22,273.73 L55.72,273.36 L56.22,272.98 L56.72,272.60 L57.22,272.22 L57.72,271.84 L58.22,271.46 L58.72,271.07 L59.22,270.68 L59.72,270.29 L60.22,269.90 L60.73,269.51 L61.23,269.11 L61.73,268.72 L62.23,268.32 L62.73,267.92 L63.23,267.52 L63.73,267.12 L64.23,266.72 L64.73,266.31 L65.23,265.91 L65.73,265.51 L66.23,265.10 L66.73,264.70 L67.23,264.29 L67.73,263.89 L68.24,263.48 L68.74,263.07 L69.24,262.67 L69.74,262.26 L70.24,261.86 L70.74,261.45 L71.24,261.04 L71.74,260.64 L72.24,260.23 L72.74,259.83 L73.24,259.43 L73.74,259.02 L74.24,258.62 L74.74,258.22 L75.24,257.82 L75.75,257.42 L76.25,257.03 L76.75,256.63 L77.25,256.23 L77.75,255.84 L78.25,255.45 L78.75,255.06 L79.25,254.67 L79.75,254.28 L80.25,253.90 L80.75,253.52 L81.25,253.14 L81.75,252.76 L82.25,252.38 L82.75,252.01 L83.26,251.64 L83.76,251.27 L84.26,250.90 L84.76,250.54 L85.26,250.18 L85.76,249.82 L86.26,249.46 L86.76,249.11 L87.26,248.76 L87.76,248.42 L88.26,248.08 L88.76,247.74 L89.26,247.40 L89.76,247.07 L90.26,246.74 L90.77,246.42 L91.27,246.10 L91.77,245.78 L92.27,245.47 L92.77,245.16 L93.27,244.86 L93.77,244.56 L94.27,244.26 L94.77,243.97 L95.27,243.69 L95.77,243.41 L96.27,243.13 L96.77,242.86 L97.27,242.59 L97.77,242.33 L98.28,242.07 L98.78,241.82 L99.28,241.58 L99.78,241.34 L100.28,241.10 L100.78,240.87 L101.28,240.65 L101.78,240.43 L102.28,240.22 L102.78,240.01 L103.28,239.81 L103.78,239.62 L104.28,239.43 L104.78,239.25 L105.28,239.07 L105.79,238.90 L106.29,238.74 L106.79,238.58 L107.29,238.43 L107.79,238.29 L108.29,238.16 L108.79,238.03 L109.29,237.91 L109.79,237.79 L110.29,237.69 L110.79,237.59 L111.29,237.50 L111.79,237.41 L112.29,237.33 L112.79,237.26 L113.30,237.20 L113.80,237.15 L114.30,237.10 L114.80,237.07 L115.30,237.04 L115.80,237.02 L116.30,237.00 L116.80,237.00 L117.30,237.00 L117.80,237.01 L118.30,237.02 L118.80,237.04 L119.30,237.06 L119.80,237.09 L120.30,237.13 L120.80,237.17 L121.30,237.22 L121.80,237.28 L122.30,237.34 L122.80,237.42 L123.30,237.50 L123.80,237.60 L124.30,237.70 L124.80,237.82 L125.30,237.94 L125.80,238.08 L126.30,238.23 L126.80,238.39 L127.30,238.56 L127.80,238.75 L128.30,238.95 L128.80,239.16 L129.30,239.39 L129.80,239.63 L130.30,239.89 L130.80,240.17 L131.30,240.46 L131.80,240.76 L132.30,241.08 L132.80,241.42 L133.30,241.78 L133.80,242.16 L134.30,242.55 L134.80,242.96 L135.30,243.40 L135.80,243.85 L136.30,244.32 L136.80,244.81 L137.30,245.33 L137.80,245.86 L138.30,246.42 L138.80,247.00" fill="none" stroke="#1c1c1c" stroke-width="1.15" stroke-linejoin="round"/>
<line x1="51.60" y1="220.00" x2="51.60" y2="281.30" stroke="#f7bfc5" stroke-width="0.85" />
<path d="M50.00,280.60 L51.60,283.80 L53.20,280.60 Z" fill="#f28a98"/>
<rect x="33.00" y="178.30" width="113.20" height="113.70" fill="none" stroke="#3a3a3a" stroke-width="1.1"/>
<line x1="46.10" y1="292.00" x2="46.10" y2="296.80" stroke="#3a3a3a" stroke-width="1.0" />
<line x1="46.10" y1="178.30" x2="46.10" y2="173.50" stroke="#3a3a3a" stroke-width="1.0" />
<line x1="71.10" y1="292.00" x2="71.10" y2="296.80" stroke="#3a3a3a" stroke-width="1.0" />
<line x1="71.10" y1="178.30" x2="71.10" y2="173.50" stroke="#3a3a3a" stroke-width="1.0" />
<line x1="96.10" y1="292.00" x2="96.10" y2="296.80" stroke="#3a3a3a" stroke-width="1.0" />
<line x1="96.10" y1="178.30" x2="96.10" y2="173.50" stroke="#3a3a3a" stroke-width="1.0" />
<line x1="121.10" y1="292.00" x2="121.10" y2="296.80" stroke="#3a3a3a" stroke-width="1.0" />
<line x1="121.10" y1="178.30" x2="121.10" y2="173.50" stroke="#3a3a3a" stroke-width="1.0" />
<line x1="146.10" y1="292.00" x2="146.10" y2="296.80" stroke="#3a3a3a" stroke-width="1.0" />
<line x1="146.10" y1="178.30" x2="146.10" y2="173.50" stroke="#3a3a3a" stroke-width="1.0" />
<line x1="33.00" y1="280.30" x2="28.40" y2="280.30" stroke="#3a3a3a" stroke-width="1.0" />
<line x1="146.20" y1="280.30" x2="150.80" y2="280.30" stroke="#3a3a3a" stroke-width="1.0" />
<line x1="33.00" y1="259.30" x2="28.40" y2="259.30" stroke="#3a3a3a" stroke-width="1.0" />
<line x1="146.20" y1="259.30" x2="150.80" y2="259.30" stroke="#3a3a3a" stroke-width="1.0" />
<line x1="33.00" y1="238.30" x2="28.40" y2="238.30" stroke="#3a3a3a" stroke-width="1.0" />
<line x1="146.20" y1="238.30" x2="150.80" y2="238.30" stroke="#3a3a3a" stroke-width="1.0" />
<line x1="33.00" y1="217.30" x2="28.40" y2="217.30" stroke="#3a3a3a" stroke-width="1.0" />
<line x1="146.20" y1="217.30" x2="150.80" y2="217.30" stroke="#3a3a3a" stroke-width="1.0" />
<line x1="33.00" y1="196.30" x2="28.40" y2="196.30" stroke="#3a3a3a" stroke-width="1.0" />
<line x1="146.20" y1="196.30" x2="150.80" y2="196.30" stroke="#3a3a3a" stroke-width="1.0" />
<text x="46.10" y="307.40" font-size="6.9" text-anchor="middle" fill="#222" stroke="#222" >410</text>
<text x="71.10" y="307.40" font-size="6.9" text-anchor="middle" fill="#222" stroke="#222" >420</text>
<text x="96.10" y="307.40" font-size="6.9" text-anchor="middle" fill="#222" stroke="#222" >430</text>
<text x="121.10" y="307.40" font-size="6.9" text-anchor="middle" fill="#222" stroke="#222" >440</text>
<text x="146.10" y="307.40" font-size="6.9" text-anchor="middle" fill="#222" stroke="#222" >450</text>
<text x="25.40" y="282.80" font-size="6.9" text-anchor="end" fill="#222" stroke="#222" >20</text>
<text x="25.40" y="261.80" font-size="6.9" text-anchor="end" fill="#222" stroke="#222" >30</text>
<text x="25.40" y="240.80" font-size="6.9" text-anchor="end" fill="#222" stroke="#222" >40</text>
<text x="25.40" y="219.80" font-size="6.9" text-anchor="end" fill="#222" stroke="#222" >50</text>
<text x="25.40" y="198.80" font-size="6.9" text-anchor="end" fill="#222" stroke="#222" >60</text>
<text x="0.50" y="174.30" font-size="8.2" text-anchor="start" fill="#222" stroke="#222" >(d)</text>
<text x="18.90" y="174.00" font-size="6.5" text-anchor="start" fill="#222" stroke="#222" >x10<tspan font-size="4.4" dy="-5">3</tspan></text>
<text x="0" y="0" font-size="8.6" text-anchor="middle" fill="#222" stroke="#222" transform="translate(8.20,235.00) rotate(-90)">Dielectric permittivity (ε<tspan font-size="0.7em" dy="0.3em">33</tspan><tspan dy="-0.3em">/ε</tspan><tspan font-size="0.7em" dy="0.3em">0</tspan><tspan dy="-0.3em">)</tspan></text>
<text x="89.50" y="316.70" font-size="8.4" text-anchor="middle" fill="#222" stroke="#222" >Temperature (K)</text>
<text x="39.00" y="190.40" font-size="8.25" text-anchor="start" fill="#222" stroke="#222" >PINMT27</text>
<text x="89.70" y="263.60" font-size="8.4" text-anchor="start" fill="#222" stroke="#222" >T<tspan font-size="0.65em" dy="0.35em">m</tspan><tspan dy="-0.35em"> shift ~14 K</tspan></text>
<text x="59.40" y="287.30" font-size="8.4" text-anchor="start" fill="#f59ca7" stroke="#f59ca7" >frequency increasing</text>
<defs><linearGradient id="cbd" x1="0" y1="0" x2="0" y2="1"><stop offset="0" stop-color="#b0f2ff"/><stop offset="0.15" stop-color="#84e6fc"/><stop offset="0.3" stop-color="#5cccf4"/><stop offset="0.45" stop-color="#20a4ea"/><stop offset="0.62" stop-color="#1670b4"/><stop offset="0.8" stop-color="#0e3450"/><stop offset="1.0" stop-color="#050505"/></linearGradient></defs>
<rect x="118.30" y="184.00" width="3.80" height="35.00" fill="url(#cbd)"/>
<line x1="122.10" y1="185.10" x2="123.50" y2="185.10" stroke="#666" stroke-width="0.6" />
<text x="125.00" y="187.50" font-size="6.9" text-anchor="start" fill="#222" stroke="#222" >20 Hz</text>
<line x1="122.10" y1="201.00" x2="123.50" y2="201.00" stroke="#666" stroke-width="0.6" />
<text x="125.00" y="203.40" font-size="6.9" text-anchor="start" fill="#222" stroke="#222" >5k Hz</text>
<line x1="122.10" y1="218.20" x2="123.50" y2="218.20" stroke="#666" stroke-width="0.6" />
<text x="125.00" y="220.60" font-size="6.9" text-anchor="start" fill="#222" stroke="#222" >1M Hz</text>
<path d="M219.00,222.00 L219.50,221.40 L220.00,220.81 L220.50,220.23 L221.00,219.66 L221.50,219.09 L222.00,218.53 L222.50,217.98 L223.00,217.44 L223.50,216.91 L224.00,216.39 L224.50,215.87 L225.00,215.36 L225.50,214.86 L226.00,214.37 L226.50,213.89 L227.00,213.41 L227.50,212.95 L228.00,212.49 L228.50,212.04 L229.00,211.60 L229.50,211.16 L230.00,210.74 L230.50,210.32 L231.00,209.91 L231.50,209.51 L232.00,209.12 L232.50,208.74 L233.00,208.36 L233.50,207.99 L234.00,207.63 L234.50,207.28 L235.00,206.94 L235.50,206.61 L236.00,206.28 L236.50,205.96 L237.00,205.65 L237.50,205.35 L238.00,205.06 L238.50,204.77 L239.00,204.50 L239.50,204.23 L240.00,203.97 L240.50,203.72 L241.00,203.47 L241.50,203.24 L242.00,203.01 L242.50,202.79 L243.00,202.58 L243.50,202.38 L244.00,202.18 L244.50,202.00 L245.00,201.82 L245.50,201.65 L246.00,201.49 L246.50,201.34 L247.00,201.19 L247.50,201.06 L248.00,200.93 L248.50,200.81 L249.00,200.70 L249.50,200.59 L250.00,200.50 L250.50,200.41 L251.00,200.33 L251.50,200.26 L252.00,200.20 L252.50,200.15 L253.00,200.10 L253.50,200.07 L254.00,200.04 L254.50,200.02 L255.00,200.00 L255.50,200.00 L256.00,200.01 L256.51,200.02 L257.01,200.05 L257.51,200.08 L258.01,200.13 L258.52,200.18 L259.02,200.25 L259.52,200.32 L260.02,200.40 L260.53,200.50 L261.03,200.60 L261.53,200.71 L262.03,200.82 L262.54,200.95 L263.04,201.09 L263.54,201.23 L264.05,201.38 L264.55,201.54 L265.05,201.71 L265.55,201.89 L266.06,202.07 L266.56,202.26 L267.06,202.46 L267.56,202.66 L268.07,202.88 L268.57,203.10 L269.07,203.32 L269.57,203.55 L270.08,203.79 L270.58,204.04 L271.08,204.29 L271.59,204.55 L272.09,204.81 L272.59,205.08 L273.09,205.36 L273.60,205.64 L274.10,205.92 L274.60,206.21 L275.10,206.51 L275.61,206.81 L276.11,207.12 L276.61,207.43 L277.12,207.74 L277.62,208.06 L278.12,208.39 L278.62,208.71 L279.13,209.04 L279.63,209.38 L280.13,209.72 L280.63,210.06 L281.14,210.41 L281.64,210.76 L282.14,211.11 L282.64,211.47 L283.15,211.83 L283.65,212.19 L284.15,212.55 L284.66,212.92 L285.16,213.29 L285.66,213.66 L286.16,214.03 L286.67,214.41 L287.17,214.78 L287.67,215.16 L288.17,215.54 L288.68,215.92 L289.18,216.30 L289.68,216.69 L290.18,217.07 L290.69,217.46 L291.19,217.84 L291.69,218.23 L292.20,218.61 L292.70,219.00 L293.20,219.39 L293.70,219.78 L294.21,220.16 L294.71,220.55 L295.21,220.93 L295.71,221.32 L296.22,221.70 L296.72,222.09 L297.22,222.47 L297.73,222.85 L298.23,223.23 L298.73,223.61 L299.23,223.99 L299.74,224.36 L300.24,224.74 L300.74,225.11 L301.24,225.48 L301.75,225.85 L302.25,226.21 L302.75,226.57 L303.25,226.93 L303.76,227.29 L304.26,227.64 L304.76,227.99 L305.27,228.34 L305.77,228.68 L306.27,229.03 L306.77,229.36 L307.28,229.70 L307.78,230.02 L308.28,230.35 L308.78,230.67 L309.29,230.99 L309.79,231.30 L310.29,231.61 L310.79,231.91 L311.30,232.21 L311.80,232.50" fill="none" stroke="#d6f7fd" stroke-width="1.15" stroke-linejoin="round"/>
<path d="M219.00,228.50 L219.50,227.92 L220.00,227.35 L220.50,226.79 L221.00,226.23 L221.50,225.68 L222.00,225.14 L222.50,224.60 L223.00,224.07 L223.50,223.54 L224.00,223.02 L224.50,222.51 L225.00,222.00 L225.50,221.50 L226.00,221.01 L226.50,220.52 L227.00,220.04 L227.50,219.57 L228.00,219.10 L228.50,218.64 L229.00,218.19 L229.50,217.74 L230.00,217.30 L230.50,216.87 L231.00,216.45 L231.50,216.03 L232.00,215.62 L232.50,215.21 L233.00,214.82 L233.50,214.43 L234.00,214.04 L234.50,213.67 L235.00,213.30 L235.50,212.94 L236.00,212.59 L236.50,212.24 L237.00,211.90 L237.50,211.57 L238.00,211.25 L238.50,210.94 L239.00,210.63 L239.50,210.33 L240.00,210.04 L240.50,209.75 L241.00,209.47 L241.50,209.21 L242.00,208.95 L242.50,208.69 L243.00,208.45 L243.50,208.21 L244.00,207.98 L244.50,207.76 L245.00,207.55 L245.50,207.34 L246.00,207.15 L246.50,206.96 L247.00,206.78 L247.50,206.61 L248.00,206.45 L248.50,206.29 L249.00,206.15 L249.50,206.01 L250.00,205.88 L250.50,205.76 L251.00,205.65 L251.50,205.55 L252.00,205.45 L252.50,205.37 L253.00,205.29 L253.50,205.22 L254.00,205.16 L254.50,205.11 L255.00,205.07 L255.50,205.04 L256.00,205.02 L256.50,205.00 L257.00,205.00 L257.50,205.00 L258.01,205.02 L258.51,205.04 L259.01,205.08 L259.51,205.12 L260.02,205.17 L260.52,205.23 L261.02,205.30 L261.52,205.37 L262.03,205.46 L262.53,205.55 L263.03,205.65 L263.54,205.76 L264.04,205.88 L264.54,206.01 L265.04,206.14 L265.55,206.28 L266.05,206.43 L266.55,206.58 L267.06,206.75 L267.56,206.91 L268.06,207.09 L268.56,207.27 L269.07,207.46 L269.57,207.66 L270.07,207.86 L270.57,208.07 L271.08,208.29 L271.58,208.51 L272.08,208.74 L272.59,208.97 L273.09,209.21 L273.59,209.45 L274.09,209.70 L274.60,209.96 L275.10,210.22 L275.60,210.48 L276.10,210.75 L276.61,211.03 L277.11,211.31 L277.61,211.59 L278.12,211.88 L278.62,212.17 L279.12,212.47 L279.62,212.77 L280.13,213.07 L280.63,213.38 L281.13,213.70 L281.63,214.01 L282.14,214.33 L282.64,214.65 L283.14,214.98 L283.65,215.31 L284.15,215.64 L284.65,215.97 L285.15,216.31 L285.66,216.65 L286.16,216.99 L286.66,217.33 L287.17,217.68 L287.67,218.03 L288.17,218.38 L288.67,218.73 L289.18,219.08 L289.68,219.44 L290.18,219.79 L290.68,220.15 L291.19,220.51 L291.69,220.87 L292.19,221.23 L292.70,221.59 L293.20,221.95 L293.70,222.31 L294.20,222.67 L294.71,223.04 L295.21,223.40 L295.71,223.76 L296.21,224.12 L296.72,224.49 L297.22,224.85 L297.72,225.21 L298.23,225.57 L298.73,225.93 L299.23,226.29 L299.73,226.65 L300.24,227.00 L300.74,227.36 L301.24,227.71 L301.74,228.07 L302.25,228.42 L302.75,228.77 L303.25,229.11 L303.76,229.46 L304.26,229.80 L304.76,230.14 L305.26,230.48 L305.77,230.82 L306.27,231.15 L306.77,231.48 L307.28,231.81 L307.78,232.13 L308.28,232.45 L308.78,232.77 L309.29,233.08 L309.79,233.39 L310.29,233.70 L310.79,234.01 L311.30,234.30 L311.80,234.60" fill="none" stroke="#c0f1fb" stroke-width="1.15" stroke-linejoin="round"/>
<path d="M219.00,232.50 L219.50,232.00 L220.00,231.50 L220.50,231.01 L221.00,230.52 L221.50,230.04 L222.00,229.56 L222.50,229.08 L223.00,228.61 L223.50,228.14 L224.00,227.67 L224.50,227.21 L225.00,226.76 L225.50,226.30 L226.00,225.86 L226.50,225.41 L227.00,224.97 L227.50,224.54 L228.00,224.11 L228.50,223.69 L229.00,223.27 L229.50,222.85 L230.00,222.44 L230.50,222.04 L231.00,221.64 L231.50,221.24 L232.00,220.85 L232.50,220.47 L233.00,220.09 L233.50,219.71 L234.00,219.35 L234.50,218.98 L235.00,218.63 L235.50,218.28 L236.00,217.93 L236.50,217.59 L237.00,217.26 L237.50,216.93 L238.00,216.61 L238.50,216.30 L239.00,215.99 L239.50,215.68 L240.00,215.39 L240.50,215.10 L241.00,214.81 L241.50,214.54 L242.00,214.27 L242.50,214.00 L243.00,213.75 L243.50,213.50 L244.00,213.25 L244.50,213.02 L245.00,212.79 L245.50,212.56 L246.00,212.35 L246.50,212.14 L247.00,211.94 L247.50,211.75 L248.00,211.56 L248.50,211.38 L249.00,211.21 L249.50,211.05 L250.00,210.90 L250.50,210.75 L251.00,210.61 L251.50,210.48 L252.00,210.35 L252.50,210.24 L253.00,210.13 L253.50,210.03 L254.00,209.94 L254.50,209.86 L255.00,209.78 L255.50,209.72 L256.00,209.66 L256.50,209.61 L257.00,209.57 L257.50,209.54 L258.00,209.52 L258.50,209.50 L259.00,209.50 L259.50,209.50 L260.01,209.52 L260.51,209.54 L261.01,209.57 L261.51,209.61 L262.02,209.66 L262.52,209.72 L263.02,209.78 L263.53,209.85 L264.03,209.93 L264.53,210.02 L265.03,210.12 L265.54,210.22 L266.04,210.34 L266.54,210.45 L267.05,210.58 L267.55,210.71 L268.05,210.86 L268.55,211.00 L269.06,211.16 L269.56,211.32 L270.06,211.49 L270.57,211.66 L271.07,211.84 L271.57,212.03 L272.07,212.22 L272.58,212.42 L273.08,212.63 L273.58,212.84 L274.09,213.05 L274.59,213.27 L275.09,213.50 L275.59,213.73 L276.10,213.97 L276.60,214.21 L277.10,214.46 L277.61,214.71 L278.11,214.97 L278.61,215.23 L279.11,215.50 L279.62,215.77 L280.12,216.05 L280.62,216.32 L281.13,216.61 L281.63,216.89 L282.13,217.18 L282.63,217.48 L283.14,217.78 L283.64,218.08 L284.14,218.38 L284.65,218.69 L285.15,219.00 L285.65,219.31 L286.15,219.63 L286.66,219.95 L287.16,220.27 L287.66,220.59 L288.17,220.92 L288.67,221.25 L289.17,221.58 L289.67,221.91 L290.18,222.25 L290.68,222.58 L291.18,222.92 L291.69,223.26 L292.19,223.60 L292.69,223.94 L293.19,224.28 L293.70,224.63 L294.20,224.97 L294.70,225.32 L295.21,225.67 L295.71,226.01 L296.21,226.36 L296.71,226.71 L297.22,227.06 L297.72,227.40 L298.22,227.75 L298.73,228.10 L299.23,228.45 L299.73,228.79 L300.23,229.14 L300.74,229.49 L301.24,229.83 L301.74,230.18 L302.25,230.52 L302.75,230.86 L303.25,231.20 L303.75,231.54 L304.26,231.88 L304.76,232.22 L305.26,232.55 L305.77,232.89 L306.27,233.22 L306.77,233.55 L307.27,233.87 L307.78,234.20 L308.28,234.52 L308.78,234.84 L309.29,235.16 L309.79,235.47 L310.29,235.78 L310.79,236.09 L311.30,236.40 L311.80,236.70" fill="none" stroke="#a7e8f9" stroke-width="1.15" stroke-linejoin="round"/>
<path d="M219.00,241.30 L219.50,240.94 L220.00,240.58 L220.50,240.22 L221.00,239.86 L221.50,239.50 L222.00,239.14 L222.50,238.79 L223.00,238.43 L223.50,238.07 L224.00,237.71 L224.50,237.36 L225.00,237.00 L225.50,236.65 L226.00,236.30 L226.50,235.94 L227.00,235.59 L227.50,235.24 L228.00,234.89 L228.50,234.55 L229.00,234.20 L229.50,233.86 L230.00,233.51 L230.50,233.17 L231.00,232.83 L231.50,232.50 L232.00,232.16 L232.50,231.83 L233.00,231.50 L233.50,231.17 L234.00,230.84 L234.50,230.52 L235.00,230.20 L235.50,229.88 L236.00,229.56 L236.50,229.25 L237.00,228.94 L237.50,228.63 L238.00,228.32 L238.50,228.02 L239.00,227.72 L239.50,227.43 L240.00,227.14 L240.50,226.85 L241.00,226.56 L241.50,226.28 L242.00,226.00 L242.50,225.73 L243.00,225.46 L243.50,225.19 L244.00,224.93 L244.50,224.67 L245.00,224.42 L245.50,224.17 L246.00,223.92 L246.50,223.68 L247.00,223.44 L247.50,223.21 L248.00,222.98 L248.50,222.76 L249.00,222.54 L249.50,222.33 L250.00,222.12 L250.50,221.92 L251.00,221.72 L251.50,221.53 L252.00,221.34 L252.50,221.16 L253.00,220.98 L253.50,220.81 L254.00,220.64 L254.50,220.48 L255.00,220.33 L255.50,220.18 L256.00,220.04 L256.50,219.91 L257.00,219.78 L257.50,219.65 L258.00,219.54 L258.50,219.43 L259.00,219.32 L259.50,219.23 L260.00,219.14 L260.50,219.05 L261.00,218.97 L261.50,218.90 L262.00,218.84 L262.50,218.79 L263.00,218.74 L263.50,218.70 L264.00,218.66 L264.50,218.63 L265.00,218.62 L265.50,218.60 L266.00,218.60 L266.50,218.60 L267.01,218.62 L267.51,218.63 L268.01,218.66 L268.52,218.70 L269.02,218.74 L269.52,218.79 L270.03,218.84 L270.53,218.91 L271.03,218.98 L271.54,219.05 L272.04,219.14 L272.54,219.23 L273.05,219.32 L273.55,219.43 L274.05,219.54 L274.56,219.65 L275.06,219.77 L275.56,219.90 L276.07,220.03 L276.57,220.17 L277.07,220.32 L277.58,220.47 L278.08,220.62 L278.58,220.79 L279.09,220.95 L279.59,221.12 L280.09,221.30 L280.60,221.48 L281.10,221.67 L281.60,221.86 L282.11,222.06 L282.61,222.26 L283.11,222.46 L283.62,222.67 L284.12,222.88 L284.62,223.10 L285.13,223.32 L285.63,223.55 L286.13,223.78 L286.64,224.01 L287.14,224.25 L287.64,224.49 L288.15,224.73 L288.65,224.97 L289.15,225.22 L289.65,225.48 L290.16,225.73 L290.66,225.99 L291.16,226.25 L291.67,226.51 L292.17,226.78 L292.67,227.05 L293.18,227.32 L293.68,227.59 L294.18,227.87 L294.69,228.15 L295.19,228.42 L295.69,228.71 L296.20,228.99 L296.70,229.27 L297.20,229.56 L297.71,229.84 L298.21,230.13 L298.71,230.42 L299.22,230.71 L299.72,231.00 L300.22,231.29 L300.73,231.59 L301.23,231.88 L301.73,232.17 L302.24,232.47 L302.74,232.76 L303.24,233.06 L303.75,233.35 L304.25,233.65 L304.75,233.94 L305.26,234.24 L305.76,234.53 L306.26,234.83 L306.77,235.12 L307.27,235.41 L307.77,235.70 L308.28,235.99 L308.78,236.28 L309.28,236.57 L309.79,236.86 L310.29,237.15 L310.79,237.43 L311.30,237.72 L311.80,238.00" fill="none" stroke="#50beee" stroke-width="1.15" stroke-linejoin="round"/>
<path d="M219.00,245.30 L219.50,244.97 L220.00,244.63 L220.50,244.29 L221.00,243.95 L221.50,243.62 L222.00,243.28 L222.50,242.94 L223.00,242.60 L223.50,242.26 L224.00,241.92 L224.50,241.58 L225.00,241.24 L225.50,240.90 L226.00,240.56 L226.50,240.22 L227.00,239.88 L227.50,239.54 L228.00,239.20 L228.50,238.86 L229.00,238.52 L229.50,238.19 L230.00,237.85 L230.50,237.52 L231.00,237.18 L231.50,236.85 L232.00,236.52 L232.50,236.19 L233.00,235.86 L233.50,235.53 L234.00,235.21 L234.50,234.88 L235.00,234.56 L235.50,234.24 L236.00,233.92 L236.50,233.61 L237.00,233.29 L237.50,232.98 L238.00,232.67 L238.50,232.37 L239.00,232.06 L239.50,231.76 L240.00,231.46 L240.50,231.17 L241.00,230.87 L241.50,230.58 L242.00,230.30 L242.50,230.01 L243.00,229.73 L243.50,229.46 L244.00,229.18 L244.50,228.92 L245.00,228.65 L245.50,228.39 L246.00,228.13 L246.50,227.87 L247.00,227.62 L247.50,227.38 L248.00,227.14 L248.50,226.90 L249.00,226.67 L249.50,226.44 L250.00,226.21 L250.50,225.99 L251.00,225.78 L251.50,225.57 L252.00,225.36 L252.50,225.16 L253.00,224.97 L253.50,224.78 L254.00,224.60 L254.50,224.42 L255.00,224.25 L255.50,224.08 L256.00,223.92 L256.50,223.76 L257.00,223.61 L257.50,223.47 L258.00,223.33 L258.50,223.20 L259.00,223.07 L259.50,222.96 L260.00,222.84 L260.50,222.74 L261.00,222.64 L261.50,222.55 L262.00,222.46 L262.50,222.38 L263.00,222.31 L263.50,222.25 L264.00,222.19 L264.50,222.14 L265.00,222.10 L265.50,222.06 L266.00,222.04 L266.50,222.02 L267.00,222.00 L267.50,222.00 L268.00,222.00 L268.51,222.01 L269.01,222.03 L269.51,222.06 L270.02,222.09 L270.52,222.12 L271.02,222.17 L271.53,222.22 L272.03,222.28 L272.53,222.34 L273.04,222.41 L273.54,222.49 L274.04,222.57 L274.55,222.65 L275.05,222.75 L275.55,222.85 L276.06,222.95 L276.56,223.06 L277.06,223.18 L277.57,223.30 L278.07,223.43 L278.57,223.56 L279.08,223.69 L279.58,223.83 L280.09,223.98 L280.59,224.13 L281.09,224.29 L281.60,224.45 L282.10,224.61 L282.60,224.78 L283.11,224.96 L283.61,225.13 L284.11,225.32 L284.62,225.50 L285.12,225.69 L285.62,225.89 L286.13,226.09 L286.63,226.29 L287.13,226.49 L287.64,226.70 L288.14,226.91 L288.64,227.13 L289.15,227.35 L289.65,227.57 L290.15,227.79 L290.66,228.02 L291.16,228.25 L291.66,228.48 L292.17,228.72 L292.67,228.96 L293.17,229.20 L293.68,229.44 L294.18,229.69 L294.68,229.93 L295.19,230.18 L295.69,230.44 L296.19,230.69 L296.70,230.95 L297.20,231.20 L297.70,231.46 L298.21,231.72 L298.71,231.98 L299.21,232.25 L299.72,232.51 L300.22,232.78 L300.73,233.04 L301.23,233.31 L301.73,233.58 L302.24,233.85 L302.74,234.12 L303.24,234.39 L303.75,234.66 L304.25,234.93 L304.75,235.21 L305.26,235.48 L305.76,235.75 L306.26,236.02 L306.77,236.30 L307.27,236.57 L307.77,236.84 L308.28,237.11 L308.78,237.38 L309.28,237.66 L309.79,237.93 L310.29,238.20 L310.79,238.46 L311.30,238.73 L311.80,239.00" fill="none" stroke="#41b0e6" stroke-width="1.15" stroke-linejoin="round"/>
<path d="M219.00,251.80 L219.50,251.53 L220.00,251.26 L220.50,250.98 L221.00,250.70 L221.50,250.43 L222.00,250.14 L222.50,249.86 L223.00,249.57 L223.50,249.29 L224.00,249.00 L224.50,248.71 L225.00,248.42 L225.50,248.12 L226.00,247.83 L226.50,247.53 L227.00,247.24 L227.50,246.94 L228.00,246.64 L228.50,246.34 L229.00,246.04 L229.50,245.74 L230.00,245.44 L230.50,245.13 L231.00,244.83 L231.50,244.53 L232.00,244.23 L232.50,243.93 L233.00,243.62 L233.50,243.32 L234.00,243.02 L234.50,242.72 L235.00,242.42 L235.50,242.12 L236.00,241.82 L236.50,241.52 L237.00,241.22 L237.50,240.92 L238.00,240.63 L238.50,240.33 L239.00,240.04 L239.50,239.75 L240.00,239.46 L240.50,239.17 L241.00,238.88 L241.50,238.59 L242.00,238.31 L242.50,238.03 L243.00,237.75 L243.50,237.47 L244.00,237.20 L244.50,236.93 L245.00,236.66 L245.50,236.39 L246.00,236.12 L246.50,235.86 L247.00,235.60 L247.50,235.35 L248.00,235.09 L248.50,234.84 L249.00,234.60 L249.50,234.35 L250.00,234.11 L250.50,233.88 L251.00,233.64 L251.50,233.41 L252.00,233.19 L252.50,232.97 L253.00,232.75 L253.50,232.54 L254.00,232.33 L254.50,232.13 L255.00,231.93 L255.50,231.73 L256.00,231.54 L256.50,231.36 L257.00,231.18 L257.50,231.00 L258.00,230.83 L258.50,230.66 L259.00,230.50 L259.50,230.35 L260.00,230.20 L260.50,230.06 L261.00,229.92 L261.50,229.79 L262.00,229.66 L262.50,229.54 L263.00,229.42 L263.50,229.32 L264.00,229.21 L264.50,229.12 L265.00,229.03 L265.50,228.95 L266.00,228.87 L266.50,228.80 L267.00,228.74 L267.50,228.68 L268.00,228.64 L268.50,228.59 L269.00,228.56 L269.50,228.53 L270.00,228.52 L270.50,228.50 L271.00,228.50 L271.50,228.50 L272.01,228.51 L272.51,228.52 L273.01,228.54 L273.52,228.56 L274.02,228.59 L274.53,228.63 L275.03,228.66 L275.53,228.71 L276.04,228.75 L276.54,228.80 L277.04,228.86 L277.55,228.92 L278.05,228.99 L278.56,229.06 L279.06,229.13 L279.56,229.21 L280.07,229.29 L280.57,229.37 L281.07,229.47 L281.58,229.56 L282.08,229.66 L282.59,229.76 L283.09,229.86 L283.59,229.97 L284.10,230.09 L284.60,230.20 L285.10,230.32 L285.61,230.45 L286.11,230.57 L286.61,230.70 L287.12,230.84 L287.62,230.97 L288.13,231.11 L288.63,231.26 L289.13,231.40 L289.64,231.55 L290.14,231.70 L290.64,231.86 L291.15,232.01 L291.65,232.17 L292.16,232.34 L292.66,232.50 L293.16,232.67 L293.67,232.84 L294.17,233.01 L294.67,233.18 L295.18,233.36 L295.68,233.54 L296.19,233.72 L296.69,233.90 L297.19,234.09 L297.70,234.27 L298.20,234.46 L298.70,234.65 L299.21,234.84 L299.71,235.04 L300.21,235.23 L300.72,235.43 L301.22,235.63 L301.73,235.83 L302.23,236.03 L302.73,236.23 L303.24,236.43 L303.74,236.64 L304.24,236.84 L304.75,237.05 L305.25,237.26 L305.76,237.46 L306.26,237.67 L306.76,237.88 L307.27,238.09 L307.77,238.30 L308.27,238.51 L308.78,238.72 L309.28,238.94 L309.79,239.15 L310.29,239.36 L310.79,239.57 L311.30,239.79 L311.80,240.00" fill="none" stroke="#2793d4" stroke-width="1.15" stroke-linejoin="round"/>
<path d="M219.00,253.80 L219.50,253.56 L220.00,253.32 L220.50,253.08 L221.00,252.83 L221.50,252.58 L222.00,252.33 L222.50,252.08 L223.00,251.82 L223.50,251.56 L224.00,251.30 L224.50,251.03 L225.00,250.77 L225.50,250.50 L226.00,250.23 L226.50,249.96 L227.00,249.69 L227.50,249.41 L228.00,249.14 L228.50,248.86 L229.00,248.58 L229.50,248.30 L230.00,248.02 L230.50,247.74 L231.00,247.46 L231.50,247.17 L232.00,246.89 L232.50,246.60 L233.00,246.32 L233.50,246.03 L234.00,245.75 L234.50,245.46 L235.00,245.18 L235.50,244.89 L236.00,244.60 L236.50,244.32 L237.00,244.03 L237.50,243.75 L238.00,243.46 L238.50,243.18 L239.00,242.90 L239.50,242.61 L240.00,242.33 L240.50,242.05 L241.00,241.77 L241.50,241.49 L242.00,241.22 L242.50,240.94 L243.00,240.67 L243.50,240.40 L244.00,240.13 L244.50,239.86 L245.00,239.59 L245.50,239.33 L246.00,239.06 L246.50,238.80 L247.00,238.54 L247.50,238.29 L248.00,238.03 L248.50,237.78 L249.00,237.53 L249.50,237.29 L250.00,237.05 L250.50,236.81 L251.00,236.57 L251.50,236.34 L252.00,236.11 L252.50,235.88 L253.00,235.66 L253.50,235.44 L254.00,235.22 L254.50,235.01 L255.00,234.80 L255.50,234.60 L256.00,234.39 L256.50,234.20 L257.00,234.01 L257.50,233.82 L258.00,233.64 L258.50,233.46 L259.00,233.28 L259.50,233.11 L260.00,232.95 L260.50,232.79 L261.00,232.64 L261.50,232.49 L262.00,232.34 L262.50,232.20 L263.00,232.07 L263.50,231.94 L264.00,231.82 L264.50,231.70 L265.00,231.59 L265.50,231.49 L266.00,231.39 L266.50,231.30 L267.00,231.21 L267.50,231.13 L268.00,231.06 L268.50,230.99 L269.00,230.93 L269.50,230.88 L270.00,230.83 L270.50,230.79 L271.00,230.76 L271.50,230.73 L272.00,230.71 L272.50,230.70 L273.00,230.70 L273.50,230.70 L274.01,230.71 L274.51,230.72 L275.02,230.74 L275.52,230.76 L276.02,230.79 L276.53,230.82 L277.03,230.86 L277.54,230.90 L278.04,230.94 L278.54,230.99 L279.05,231.04 L279.55,231.10 L280.05,231.16 L280.56,231.23 L281.06,231.30 L281.57,231.37 L282.07,231.45 L282.57,231.53 L283.08,231.62 L283.58,231.71 L284.09,231.81 L284.59,231.90 L285.09,232.00 L285.60,232.11 L286.10,232.22 L286.61,232.33 L287.11,232.44 L287.61,232.56 L288.12,232.68 L288.62,232.81 L289.12,232.94 L289.63,233.07 L290.13,233.20 L290.64,233.34 L291.14,233.48 L291.64,233.62 L292.15,233.77 L292.65,233.92 L293.16,234.07 L293.66,234.22 L294.16,234.38 L294.67,234.54 L295.17,234.70 L295.68,234.86 L296.18,235.03 L296.68,235.20 L297.19,235.37 L297.69,235.54 L298.19,235.71 L298.70,235.89 L299.20,236.07 L299.71,236.25 L300.21,236.43 L300.71,236.62 L301.22,236.80 L301.72,236.99 L302.23,237.18 L302.73,237.37 L303.23,237.56 L303.74,237.76 L304.24,237.95 L304.75,238.15 L305.25,238.34 L305.75,238.54 L306.26,238.74 L306.76,238.94 L307.26,239.15 L307.77,239.35 L308.27,239.55 L308.78,239.76 L309.28,239.96 L309.78,240.17 L310.29,240.38 L310.79,240.58 L311.30,240.79 L311.80,241.00" fill="none" stroke="#2283c1" stroke-width="1.15" stroke-linejoin="round"/>
<path d="M219.00,260.40 L219.50,260.21 L220.00,260.02 L220.50,259.83 L221.00,259.63 L221.50,259.42 L222.00,259.21 L222.50,259.00 L223.00,258.79 L223.50,258.57 L224.00,258.35 L224.50,258.12 L225.00,257.89 L225.50,257.66 L226.00,257.42 L226.50,257.19 L227.00,256.94 L227.50,256.70 L228.00,256.45 L228.50,256.20 L229.00,255.95 L229.50,255.70 L230.00,255.44 L230.50,255.18 L231.00,254.92 L231.50,254.66 L232.00,254.40 L232.50,254.13 L233.00,253.86 L233.50,253.59 L234.00,253.32 L234.50,253.05 L235.00,252.77 L235.50,252.50 L236.00,252.22 L236.50,251.95 L237.00,251.67 L237.50,251.39 L238.00,251.11 L238.50,250.83 L239.00,250.55 L239.50,250.27 L240.00,249.99 L240.50,249.71 L241.00,249.43 L241.50,249.15 L242.00,248.86 L242.50,248.58 L243.00,248.30 L243.50,248.02 L244.00,247.74 L244.50,247.47 L245.00,247.19 L245.50,246.91 L246.00,246.63 L246.50,246.36 L247.00,246.09 L247.50,245.81 L248.00,245.54 L248.50,245.27 L249.00,245.00 L249.50,244.74 L250.00,244.47 L250.50,244.21 L251.00,243.95 L251.50,243.69 L252.00,243.43 L252.50,243.18 L253.00,242.93 L253.50,242.68 L254.00,242.43 L254.50,242.19 L255.00,241.94 L255.50,241.71 L256.00,241.47 L256.50,241.24 L257.00,241.01 L257.50,240.78 L258.00,240.56 L258.50,240.34 L259.00,240.12 L259.50,239.91 L260.00,239.70 L260.50,239.50 L261.00,239.30 L261.50,239.10 L262.00,238.91 L262.50,238.73 L263.00,238.54 L263.50,238.36 L264.00,238.19 L264.50,238.02 L265.00,237.86 L265.50,237.70 L266.00,237.54 L266.50,237.39 L267.00,237.25 L267.50,237.11 L268.00,236.98 L268.50,236.85 L269.00,236.72 L269.50,236.61 L270.00,236.50 L270.50,236.39 L271.00,236.29 L271.50,236.20 L272.00,236.11 L272.50,236.03 L273.00,235.96 L273.50,235.89 L274.00,235.83 L274.50,235.78 L275.00,235.73 L275.50,235.69 L276.00,235.66 L276.50,235.63 L277.00,235.61 L277.50,235.60 L278.00,235.60 L278.50,235.60 L279.01,235.61 L279.51,235.62 L280.02,235.63 L280.52,235.65 L281.03,235.67 L281.53,235.69 L282.04,235.72 L282.54,235.75 L283.04,235.78 L283.55,235.82 L284.05,235.86 L284.56,235.90 L285.06,235.95 L285.57,236.00 L286.07,236.05 L286.58,236.10 L287.08,236.16 L287.59,236.23 L288.09,236.29 L288.59,236.36 L289.10,236.43 L289.60,236.50 L290.11,236.58 L290.61,236.66 L291.12,236.74 L291.62,236.83 L292.13,236.91 L292.63,237.00 L293.13,237.10 L293.64,237.19 L294.14,237.29 L294.65,237.39 L295.15,237.49 L295.66,237.60 L296.16,237.70 L296.67,237.81 L297.17,237.93 L297.67,238.04 L298.18,238.16 L298.68,238.28 L299.19,238.40 L299.69,238.52 L300.20,238.64 L300.70,238.77 L301.21,238.90 L301.71,239.03 L302.21,239.16 L302.72,239.30 L303.22,239.44 L303.73,239.57 L304.23,239.71 L304.74,239.86 L305.24,240.00 L305.75,240.14 L306.25,240.29 L306.76,240.44 L307.26,240.59 L307.76,240.74 L308.27,240.89 L308.77,241.05 L309.28,241.20 L309.78,241.36 L310.29,241.52 L310.79,241.68 L311.30,241.84 L311.80,242.00" fill="none" stroke="#235a83" stroke-width="1.15" stroke-linejoin="round"/>
<path d="M219.00,263.00 L219.50,262.84 L220.00,262.69 L220.50,262.52 L221.00,262.35 L221.50,262.18 L222.00,262.01 L222.50,261.83 L223.00,261.64 L223.50,261.46 L224.00,261.26 L224.50,261.07 L225.00,260.87 L225.50,260.67 L226.00,260.47 L226.50,260.26 L227.00,260.05 L227.50,259.84 L228.00,259.62 L228.50,259.40 L229.00,259.18 L229.50,258.96 L230.00,258.73 L230.50,258.50 L231.00,258.27 L231.50,258.03 L232.00,257.80 L232.50,257.56 L233.00,257.32 L233.50,257.08 L234.00,256.83 L234.50,256.59 L235.00,256.34 L235.50,256.09 L236.00,255.84 L236.50,255.59 L237.00,255.33 L237.50,255.08 L238.00,254.82 L238.50,254.56 L239.00,254.31 L239.50,254.05 L240.00,253.79 L240.50,253.53 L241.00,253.27 L241.50,253.01 L242.00,252.74 L242.50,252.48 L243.00,252.22 L243.50,251.96 L244.00,251.69 L244.50,251.43 L245.00,251.17 L245.50,250.90 L246.00,250.64 L246.50,250.38 L247.00,250.12 L247.50,249.86 L248.00,249.60 L248.50,249.34 L249.00,249.08 L249.50,248.82 L250.00,248.56 L250.50,248.31 L251.00,248.05 L251.50,247.80 L252.00,247.54 L252.50,247.29 L253.00,247.04 L253.50,246.79 L254.00,246.55 L254.50,246.30 L255.00,246.06 L255.50,245.82 L256.00,245.58 L256.50,245.34 L257.00,245.10 L257.50,244.87 L258.00,244.64 L258.50,244.41 L259.00,244.19 L259.50,243.96 L260.00,243.74 L260.50,243.53 L261.00,243.31 L261.50,243.10 L262.00,242.89 L262.50,242.68 L263.00,242.48 L263.50,242.28 L264.00,242.09 L264.50,241.89 L265.00,241.71 L265.50,241.52 L266.00,241.34 L266.50,241.16 L267.00,240.99 L267.50,240.82 L268.00,240.65 L268.50,240.49 L269.00,240.33 L269.50,240.18 L270.00,240.03 L270.50,239.89 L271.00,239.75 L271.50,239.61 L272.00,239.48 L272.50,239.36 L273.00,239.24 L273.50,239.12 L274.00,239.01 L274.50,238.91 L275.00,238.81 L275.50,238.71 L276.00,238.62 L276.50,238.54 L277.00,238.46 L277.50,238.39 L278.00,238.32 L278.50,238.26 L279.00,238.21 L279.50,238.16 L280.00,238.12 L280.50,238.08 L281.00,238.05 L281.50,238.03 L282.00,238.01 L282.50,238.00 L283.00,238.00 L283.51,238.00 L284.01,238.01 L284.52,238.02 L285.02,238.03 L285.53,238.05 L286.03,238.07 L286.54,238.09 L287.04,238.12 L287.55,238.15 L288.05,238.19 L288.56,238.23 L289.06,238.27 L289.57,238.31 L290.07,238.36 L290.58,238.42 L291.08,238.47 L291.59,238.53 L292.09,238.59 L292.60,238.66 L293.11,238.73 L293.61,238.80 L294.12,238.87 L294.62,238.95 L295.13,239.03 L295.63,239.11 L296.14,239.20 L296.64,239.29 L297.15,239.38 L297.65,239.48 L298.16,239.57 L298.66,239.67 L299.17,239.78 L299.67,239.88 L300.18,239.99 L300.68,240.10 L301.19,240.21 L301.69,240.33 L302.20,240.45 L302.71,240.57 L303.21,240.69 L303.72,240.82 L304.22,240.94 L304.73,241.07 L305.23,241.21 L305.74,241.34 L306.24,241.48 L306.75,241.61 L307.25,241.75 L307.76,241.90 L308.26,242.04 L308.77,242.19 L309.27,242.33 L309.78,242.48 L310.28,242.64 L310.79,242.79 L311.29,242.94 L311.80,243.10" fill="none" stroke="#264862" stroke-width="1.15" stroke-linejoin="round"/>
<path d="M219.00,266.30 L219.50,266.20 L220.00,266.09 L220.50,265.97 L221.00,265.86 L221.50,265.74 L222.00,265.61 L222.50,265.48 L223.00,265.35 L223.50,265.22 L224.00,265.07 L224.50,264.93 L225.00,264.78 L225.50,264.63 L226.00,264.48 L226.50,264.32 L227.00,264.16 L227.50,264.00 L228.00,263.83 L228.50,263.66 L229.00,263.49 L229.50,263.31 L230.00,263.13 L230.50,262.95 L231.00,262.76 L231.50,262.58 L232.00,262.39 L232.50,262.19 L233.00,262.00 L233.50,261.80 L234.00,261.60 L234.50,261.40 L235.00,261.20 L235.50,260.99 L236.00,260.78 L236.50,260.57 L237.00,260.36 L237.50,260.15 L238.00,259.93 L238.50,259.71 L239.00,259.50 L239.50,259.27 L240.00,259.05 L240.50,258.83 L241.00,258.61 L241.50,258.38 L242.00,258.15 L242.50,257.92 L243.00,257.70 L243.50,257.47 L244.00,257.23 L244.50,257.00 L245.00,256.77 L245.50,256.54 L246.00,256.30 L246.50,256.07 L247.00,255.83 L247.50,255.60 L248.00,255.36 L248.50,255.13 L249.00,254.89 L249.50,254.65 L250.00,254.42 L250.50,254.18 L251.00,253.94 L251.50,253.71 L252.00,253.47 L252.50,253.24 L253.00,253.00 L253.50,252.77 L254.00,252.53 L254.50,252.30 L255.00,252.06 L255.50,251.83 L256.00,251.60 L256.50,251.37 L257.00,251.14 L257.50,250.91 L258.00,250.68 L258.50,250.46 L259.00,250.23 L259.50,250.01 L260.00,249.78 L260.50,249.56 L261.00,249.34 L261.50,249.12 L262.00,248.91 L262.50,248.69 L263.00,248.48 L263.50,248.27 L264.00,248.06 L264.50,247.85 L265.00,247.64 L265.50,247.44 L266.00,247.24 L266.50,247.04 L267.00,246.84 L267.50,246.65 L268.00,246.46 L268.50,246.27 L269.00,246.08 L269.50,245.90 L270.00,245.71 L270.50,245.54 L271.00,245.36 L271.50,245.19 L272.00,245.02 L272.50,244.85 L273.00,244.69 L273.50,244.53 L274.00,244.37 L274.50,244.22 L275.00,244.07 L275.50,243.92 L276.00,243.78 L276.50,243.64 L277.00,243.50 L277.50,243.37 L278.00,243.24 L278.50,243.12 L279.00,243.00 L279.50,242.88 L280.00,242.77 L280.50,242.66 L281.00,242.56 L281.50,242.46 L282.00,242.36 L282.50,242.27 L283.00,242.19 L283.50,242.11 L284.00,242.03 L284.50,241.96 L285.00,241.89 L285.50,241.83 L286.00,241.78 L286.50,241.72 L287.00,241.68 L287.50,241.64 L288.00,241.60 L288.50,241.57 L289.00,241.55 L289.50,241.53 L290.00,241.51 L290.50,241.50 L291.00,241.50 L291.51,241.50 L292.01,241.51 L292.52,241.51 L293.03,241.53 L293.54,241.54 L294.04,241.56 L294.55,241.58 L295.06,241.60 L295.57,241.63 L296.07,241.66 L296.58,241.70 L297.09,241.73 L297.60,241.77 L298.10,241.81 L298.61,241.86 L299.12,241.91 L299.62,241.96 L300.13,242.01 L300.64,242.07 L301.15,242.13 L301.65,242.19 L302.16,242.26 L302.67,242.33 L303.18,242.40 L303.68,242.47 L304.19,242.55 L304.70,242.63 L305.20,242.71 L305.71,242.79 L306.22,242.88 L306.73,242.97 L307.23,243.06 L307.74,243.16 L308.25,243.25 L308.76,243.35 L309.26,243.46 L309.77,243.56 L310.28,243.67 L310.79,243.78 L311.29,243.89 L311.80,244.00" fill="none" stroke="#30343a" stroke-width="1.15" stroke-linejoin="round"/>
<path d="M219.00,268.60 L219.50,268.52 L220.00,268.43 L220.50,268.33 L221.00,268.24 L221.50,268.13 L222.00,268.03 L222.50,267.92 L223.00,267.81 L223.50,267.69 L224.00,267.57 L224.50,267.44 L225.00,267.32 L225.50,267.18 L226.00,267.05 L226.50,266.91 L227.00,266.77 L227.50,266.62 L228.00,266.48 L228.50,266.32 L229.00,266.17 L229.50,266.01 L230.00,265.85 L230.50,265.69 L231.00,265.52 L231.50,265.35 L232.00,265.18 L232.50,265.00 L233.00,264.82 L233.50,264.64 L234.00,264.46 L234.50,264.28 L235.00,264.09 L235.50,263.90 L236.00,263.71 L236.50,263.51 L237.00,263.31 L237.50,263.12 L238.00,262.92 L238.50,262.71 L239.00,262.51 L239.50,262.30 L240.00,262.09 L240.50,261.88 L241.00,261.67 L241.50,261.46 L242.00,261.25 L242.50,261.03 L243.00,260.81 L243.50,260.60 L244.00,260.38 L244.50,260.16 L245.00,259.93 L245.50,259.71 L246.00,259.49 L246.50,259.26 L247.00,259.04 L247.50,258.81 L248.00,258.58 L248.50,258.36 L249.00,258.13 L249.50,257.90 L250.00,257.67 L250.50,257.44 L251.00,257.21 L251.50,256.98 L252.00,256.75 L252.50,256.52 L253.00,256.29 L253.50,256.05 L254.00,255.82 L254.50,255.59 L255.00,255.36 L255.50,255.13 L256.00,254.90 L256.50,254.67 L257.00,254.44 L257.50,254.21 L258.00,253.98 L258.50,253.76 L259.00,253.53 L259.50,253.30 L260.00,253.08 L260.50,252.85 L261.00,252.63 L261.50,252.41 L262.00,252.18 L262.50,251.96 L263.00,251.74 L263.50,251.52 L264.00,251.31 L264.50,251.09 L265.00,250.88 L265.50,250.66 L266.00,250.45 L266.50,250.24 L267.00,250.04 L267.50,249.83 L268.00,249.62 L268.50,249.42 L269.00,249.22 L269.50,249.02 L270.00,248.83 L270.50,248.63 L271.00,248.44 L271.50,248.25 L272.00,248.06 L272.50,247.88 L273.00,247.69 L273.50,247.51 L274.00,247.33 L274.50,247.16 L275.00,246.99 L275.50,246.82 L276.00,246.65 L276.50,246.49 L277.00,246.32 L277.50,246.17 L278.00,246.01 L278.50,245.86 L279.00,245.71 L279.50,245.56 L280.00,245.42 L280.50,245.28 L281.00,245.15 L281.50,245.02 L282.00,244.89 L282.50,244.76 L283.00,244.64 L283.50,244.52 L284.00,244.41 L284.50,244.30 L285.00,244.20 L285.50,244.09 L286.00,244.00 L286.50,243.90 L287.00,243.81 L287.50,243.73 L288.00,243.65 L288.50,243.57 L289.00,243.50 L289.50,243.43 L290.00,243.37 L290.50,243.31 L291.00,243.26 L291.50,243.21 L292.00,243.17 L292.50,243.13 L293.00,243.10 L293.50,243.07 L294.00,243.04 L294.50,243.02 L295.00,243.01 L295.50,243.00 L296.00,243.00 L296.51,243.00 L297.02,243.01 L297.53,243.02 L298.04,243.04 L298.55,243.05 L299.06,243.08 L299.57,243.11 L300.08,243.14 L300.59,243.18 L301.10,243.22 L301.61,243.26 L302.12,243.31 L302.63,243.36 L303.14,243.42 L303.65,243.48 L304.15,243.55 L304.66,243.62 L305.17,243.69 L305.68,243.77 L306.19,243.85 L306.70,243.94 L307.21,244.02 L307.72,244.12 L308.23,244.21 L308.74,244.32 L309.25,244.42 L309.76,244.53 L310.27,244.64 L310.78,244.76 L311.29,244.88 L311.80,245.00" fill="none" stroke="#26282b" stroke-width="1.15" stroke-linejoin="round"/>
<path d="M219.00,272.20 L219.50,272.13 L220.00,272.05 L220.50,271.96 L221.00,271.87 L221.50,271.78 L222.00,271.68 L222.50,271.58 L223.00,271.47 L223.50,271.36 L224.00,271.24 L224.50,271.12 L225.00,271.00 L225.50,270.87 L226.00,270.73 L226.50,270.60 L227.00,270.45 L227.50,270.31 L228.00,270.16 L228.50,270.01 L229.00,269.85 L229.50,269.69 L230.00,269.53 L230.50,269.36 L231.00,269.19 L231.50,269.01 L232.00,268.84 L232.50,268.65 L233.00,268.47 L233.50,268.28 L234.00,268.09 L234.50,267.90 L235.00,267.71 L235.50,267.51 L236.00,267.31 L236.50,267.10 L237.00,266.90 L237.50,266.69 L238.00,266.48 L238.50,266.26 L239.00,266.05 L239.50,265.83 L240.00,265.61 L240.50,265.38 L241.00,265.16 L241.50,264.93 L242.00,264.70 L242.50,264.47 L243.00,264.24 L243.50,264.01 L244.00,263.77 L244.50,263.54 L245.00,263.30 L245.50,263.06 L246.00,262.82 L246.50,262.57 L247.00,262.33 L247.50,262.09 L248.00,261.84 L248.50,261.59 L249.00,261.35 L249.50,261.10 L250.00,260.85 L250.50,260.60 L251.00,260.35 L251.50,260.10 L252.00,259.85 L252.50,259.59 L253.00,259.34 L253.50,259.09 L254.00,258.84 L254.50,258.58 L255.00,258.33 L255.50,258.08 L256.00,257.83 L256.50,257.57 L257.00,257.32 L257.50,257.07 L258.00,256.82 L258.50,256.56 L259.00,256.31 L259.50,256.06 L260.00,255.81 L260.50,255.56 L261.00,255.32 L261.50,255.07 L262.00,254.82 L262.50,254.58 L263.00,254.33 L263.50,254.09 L264.00,253.85 L264.50,253.61 L265.00,253.37 L265.50,253.13 L266.00,252.89 L266.50,252.66 L267.00,252.42 L267.50,252.19 L268.00,251.96 L268.50,251.73 L269.00,251.51 L269.50,251.28 L270.00,251.06 L270.50,250.84 L271.00,250.62 L271.50,250.40 L272.00,250.19 L272.50,249.98 L273.00,249.77 L273.50,249.56 L274.00,249.36 L274.50,249.16 L275.00,248.96 L275.50,248.77 L276.00,248.57 L276.50,248.38 L277.00,248.20 L277.50,248.01 L278.00,247.83 L278.50,247.66 L279.00,247.48 L279.50,247.31 L280.00,247.14 L280.50,246.98 L281.00,246.82 L281.50,246.66 L282.00,246.51 L282.50,246.36 L283.00,246.22 L283.50,246.08 L284.00,245.94 L284.50,245.81 L285.00,245.68 L285.50,245.55 L286.00,245.43 L286.50,245.32 L287.00,245.20 L287.50,245.10 L288.00,244.99 L288.50,244.90 L289.00,244.80 L289.50,244.71 L290.00,244.63 L290.50,244.55 L291.00,244.48 L291.50,244.41 L292.00,244.34 L292.50,244.29 L293.00,244.23 L293.50,244.18 L294.00,244.14 L294.50,244.10 L295.00,244.07 L295.50,244.05 L296.00,244.03 L296.50,244.01 L297.00,244.00 L297.50,244.00 L298.01,244.00 L298.52,244.01 L299.03,244.02 L299.54,244.04 L300.05,244.06 L300.56,244.09 L301.07,244.12 L301.59,244.16 L302.10,244.21 L302.61,244.26 L303.12,244.31 L303.63,244.37 L304.14,244.43 L304.65,244.50 L305.16,244.57 L305.67,244.65 L306.18,244.74 L306.69,244.83 L307.20,244.92 L307.71,245.02 L308.23,245.12 L308.74,245.23 L309.25,245.35 L309.76,245.47 L310.27,245.59 L310.78,245.72 L311.29,245.86 L311.80,246.00" fill="none" stroke="#1c1c1c" stroke-width="1.15" stroke-linejoin="round"/>
<line x1="227.30" y1="204.90" x2="227.30" y2="275.70" stroke="#f7bfc5" stroke-width="0.85" />
<path d="M225.70,275.00 L227.30,278.20 L228.90,275.00 Z" fill="#f28a98"/>
<rect x="206.00" y="178.40" width="113.90" height="113.60" fill="none" stroke="#3a3a3a" stroke-width="1.1"/>
<line x1="220.60" y1="292.00" x2="220.60" y2="296.80" stroke="#3a3a3a" stroke-width="1.0" />
<line x1="220.60" y1="178.40" x2="220.60" y2="173.60" stroke="#3a3a3a" stroke-width="1.0" />
<line x1="248.50" y1="292.00" x2="248.50" y2="296.80" stroke="#3a3a3a" stroke-width="1.0" />
<line x1="248.50" y1="178.40" x2="248.50" y2="173.60" stroke="#3a3a3a" stroke-width="1.0" />
<line x1="276.40" y1="292.00" x2="276.40" y2="296.80" stroke="#3a3a3a" stroke-width="1.0" />
<line x1="276.40" y1="178.40" x2="276.40" y2="173.60" stroke="#3a3a3a" stroke-width="1.0" />
<line x1="304.30" y1="292.00" x2="304.30" y2="296.80" stroke="#3a3a3a" stroke-width="1.0" />
<line x1="304.30" y1="178.40" x2="304.30" y2="173.60" stroke="#3a3a3a" stroke-width="1.0" />
<line x1="206.00" y1="281.80" x2="201.40" y2="281.80" stroke="#3a3a3a" stroke-width="1.0" />
<line x1="319.90" y1="281.80" x2="324.50" y2="281.80" stroke="#3a3a3a" stroke-width="1.0" />
<line x1="206.00" y1="262.50" x2="201.40" y2="262.50" stroke="#3a3a3a" stroke-width="1.0" />
<line x1="319.90" y1="262.50" x2="324.50" y2="262.50" stroke="#3a3a3a" stroke-width="1.0" />
<line x1="206.00" y1="243.20" x2="201.40" y2="243.20" stroke="#3a3a3a" stroke-width="1.0" />
<line x1="319.90" y1="243.20" x2="324.50" y2="243.20" stroke="#3a3a3a" stroke-width="1.0" />
<line x1="206.00" y1="223.90" x2="201.40" y2="223.90" stroke="#3a3a3a" stroke-width="1.0" />
<line x1="319.90" y1="223.90" x2="324.50" y2="223.90" stroke="#3a3a3a" stroke-width="1.0" />
<line x1="206.00" y1="204.60" x2="201.40" y2="204.60" stroke="#3a3a3a" stroke-width="1.0" />
<line x1="319.90" y1="204.60" x2="324.50" y2="204.60" stroke="#3a3a3a" stroke-width="1.0" />
<line x1="206.00" y1="185.30" x2="201.40" y2="185.30" stroke="#3a3a3a" stroke-width="1.0" />
<line x1="319.90" y1="185.30" x2="324.50" y2="185.30" stroke="#3a3a3a" stroke-width="1.0" />
<text x="220.60" y="307.40" font-size="6.9" text-anchor="middle" fill="#222" stroke="#222" >420</text>
<text x="248.50" y="307.40" font-size="6.9" text-anchor="middle" fill="#222" stroke="#222" >430</text>
<text x="276.40" y="307.40" font-size="6.9" text-anchor="middle" fill="#222" stroke="#222" >440</text>
<text x="304.30" y="307.40" font-size="6.9" text-anchor="middle" fill="#222" stroke="#222" >450</text>
<text x="198.60" y="284.30" font-size="6.9" text-anchor="end" fill="#222" stroke="#222" >20</text>
<text x="198.60" y="265.00" font-size="6.9" text-anchor="end" fill="#222" stroke="#222" >30</text>
<text x="198.60" y="245.70" font-size="6.9" text-anchor="end" fill="#222" stroke="#222" >40</text>
<text x="198.60" y="226.40" font-size="6.9" text-anchor="end" fill="#222" stroke="#222" >50</text>
<text x="198.60" y="207.10" font-size="6.9" text-anchor="end" fill="#222" stroke="#222" >60</text>
<text x="198.60" y="187.80" font-size="6.9" text-anchor="end" fill="#222" stroke="#222" >70</text>
<text x="169.00" y="174.30" font-size="8.2" text-anchor="start" fill="#222" stroke="#222" >(e)</text>
<text x="193.40" y="174.00" font-size="6.5" text-anchor="start" fill="#222" stroke="#222" >x10<tspan font-size="4.4" dy="-5">3</tspan></text>
<text x="0" y="0" font-size="8.6" text-anchor="middle" fill="#222" stroke="#222" transform="translate(181.50,234.00) rotate(-90)">Dielectric permittivity (ε<tspan font-size="0.7em" dy="0.3em">33</tspan><tspan dy="-0.3em">/ε</tspan><tspan font-size="0.7em" dy="0.3em">0</tspan><tspan dy="-0.3em">)</tspan></text>
<text x="263.00" y="316.70" font-size="8.4" text-anchor="middle" fill="#222" stroke="#222" >Temperature (K)</text>
<text x="212.30" y="190.80" font-size="8.6" text-anchor="start" fill="#222" stroke="#222" >PINMT30</text>
<text x="264.50" y="197.80" font-size="8.4" text-anchor="start" fill="#222" stroke="#222" >T<tspan font-size="0.65em" dy="0.35em">m</tspan><tspan dy="-0.35em"> shift ~14 K</tspan></text>
<text x="207.70" y="287.80" font-size="8.4" text-anchor="start" fill="#f59ca7" stroke="#f59ca7" >frequency increasing</text>
<defs><linearGradient id="cbe" x1="0" y1="0" x2="0" y2="1"><stop offset="0" stop-color="#b0f2ff"/><stop offset="0.15" stop-color="#84e6fc"/><stop offset="0.3" stop-color="#5cccf4"/><stop offset="0.45" stop-color="#20a4ea"/><stop offset="0.62" stop-color="#1670b4"/><stop offset="0.8" stop-color="#0e3450"/><stop offset="1.0" stop-color="#050505"/></linearGradient></defs>
<rect x="290.60" y="253.60" width="4.20" height="34.40" fill="url(#cbe)"/>
<line x1="294.80" y1="254.50" x2="296.30" y2="254.50" stroke="#666" stroke-width="0.6" />
<text x="297.50" y="256.90" font-size="6.9" text-anchor="start" fill="#222" stroke="#222" >20 Hz</text>
<line x1="294.80" y1="270.50" x2="296.30" y2="270.50" stroke="#666" stroke-width="0.6" />
<text x="297.50" y="272.90" font-size="6.9" text-anchor="start" fill="#222" stroke="#222" >5k Hz</text>
<line x1="294.80" y1="287.20" x2="296.30" y2="287.20" stroke="#666" stroke-width="0.6" />
<text x="297.50" y="289.60" font-size="6.9" text-anchor="start" fill="#222" stroke="#222" >1M Hz</text>
<path d="M389.90,245.50 L390.40,243.96 L390.90,242.45 L391.40,240.97 L391.91,239.52 L392.41,238.10 L392.91,236.71 L393.41,235.34 L393.91,234.00 L394.41,232.69 L394.91,231.41 L395.41,230.15 L395.92,228.92 L396.42,227.72 L396.92,226.54 L397.42,225.39 L397.92,224.26 L398.42,223.16 L398.92,222.09 L399.42,221.04 L399.93,220.02 L400.43,219.02 L400.93,218.04 L401.43,217.09 L401.93,216.16 L402.43,215.25 L402.93,214.37 L403.43,213.51 L403.94,212.68 L404.44,211.86 L404.94,211.07 L405.44,210.30 L405.94,209.56 L406.44,208.83 L406.94,208.13 L407.44,207.44 L407.95,206.78 L408.45,206.14 L408.95,205.52 L409.45,204.91 L409.95,204.33 L410.45,203.77 L410.95,203.23 L411.45,202.70 L411.96,202.20 L412.46,201.71 L412.96,201.24 L413.46,200.79 L413.96,200.36 L414.46,199.94 L414.96,199.54 L415.46,199.16 L415.97,198.80 L416.47,198.45 L416.97,198.12 L417.47,197.80 L417.97,197.50 L418.47,197.22 L418.97,196.95 L419.47,196.70 L419.98,196.46 L420.48,196.23 L420.98,196.02 L421.48,195.83 L421.98,195.65 L422.48,195.48 L422.98,195.32 L423.48,195.18 L423.99,195.05 L424.49,194.93 L424.99,194.83 L425.49,194.74 L425.99,194.65 L426.49,194.59 L426.99,194.53 L427.49,194.48 L428.00,194.45 L428.50,194.42 L429.00,194.40 L429.50,194.40 L430.00,194.41 L430.51,194.44 L431.01,194.48 L431.51,194.54 L432.01,194.62 L432.52,194.71 L433.02,194.82 L433.52,194.95 L434.03,195.09 L434.53,195.25 L435.03,195.42 L435.53,195.61 L436.04,195.82 L436.54,196.04 L437.04,196.27 L437.55,196.52 L438.05,196.78 L438.55,197.05 L439.05,197.34 L439.56,197.64 L440.06,197.96 L440.56,198.28 L441.07,198.62 L441.57,198.98 L442.07,199.34 L442.57,199.72 L443.08,200.10 L443.58,200.50 L444.08,200.91 L444.59,201.33 L445.09,201.76 L445.59,202.21 L446.09,202.66 L446.60,203.12 L447.10,203.59 L447.60,204.07 L448.11,204.56 L448.61,205.06 L449.11,205.57 L449.61,206.08 L450.12,206.61 L450.62,207.14 L451.12,207.68 L451.63,208.23 L452.13,208.78 L452.63,209.34 L453.13,209.91 L453.64,210.48 L454.14,211.06 L454.64,211.65 L455.15,212.24 L455.65,212.84 L456.15,213.44 L456.65,214.05 L457.16,214.66 L457.66,215.28 L458.16,215.90 L458.67,216.53 L459.17,217.16 L459.67,217.79 L460.17,218.43 L460.68,219.07 L461.18,219.71 L461.68,220.36 L462.19,221.01 L462.69,221.66 L463.19,222.31 L463.69,222.96 L464.20,223.62 L464.70,224.27 L465.20,224.93 L465.71,225.59 L466.21,226.24 L466.71,226.90 L467.21,227.56 L467.72,228.22 L468.22,228.88 L468.72,229.53 L469.23,230.19 L469.73,230.84 L470.23,231.50 L470.73,232.15 L471.24,232.80 L471.74,233.44 L472.24,234.09 L472.75,234.73 L473.25,235.37 L473.75,236.01 L474.25,236.64 L474.76,237.27 L475.26,237.89 L475.76,238.51 L476.27,239.13 L476.77,239.74 L477.27,240.35 L477.77,240.95 L478.28,241.55 L478.78,242.14 L479.28,242.72 L479.79,243.30 L480.29,243.88 L480.79,244.44 L481.29,245.00 L481.80,245.55 L482.30,246.10" fill="none" stroke="#d6f7fd" stroke-width="1.15" stroke-linejoin="round"/>
<path d="M389.90,249.40 L390.40,248.17 L390.90,246.97 L391.41,245.78 L391.91,244.62 L392.41,243.47 L392.91,242.35 L393.42,241.25 L393.92,240.17 L394.42,239.12 L394.92,238.08 L395.43,237.06 L395.93,236.06 L396.43,235.08 L396.93,234.13 L397.44,233.19 L397.94,232.27 L398.44,231.37 L398.94,230.49 L399.45,229.63 L399.95,228.79 L400.45,227.96 L400.95,227.16 L401.46,226.37 L401.96,225.60 L402.46,224.85 L402.96,224.12 L403.47,223.41 L403.97,222.71 L404.47,222.03 L404.97,221.37 L405.48,220.72 L405.98,220.09 L406.48,219.48 L406.98,218.88 L407.49,218.30 L407.99,217.74 L408.49,217.19 L408.99,216.66 L409.50,216.15 L410.00,215.65 L410.50,215.16 L411.00,214.69 L411.51,214.24 L412.01,213.80 L412.51,213.37 L413.01,212.96 L413.52,212.57 L414.02,212.19 L414.52,211.82 L415.02,211.46 L415.53,211.12 L416.03,210.80 L416.53,210.49 L417.03,210.19 L417.54,209.90 L418.04,209.63 L418.54,209.37 L419.04,209.12 L419.55,208.88 L420.05,208.66 L420.55,208.45 L421.05,208.25 L421.56,208.06 L422.06,207.88 L422.56,207.72 L423.06,207.56 L423.57,207.42 L424.07,207.29 L424.57,207.17 L425.07,207.06 L425.58,206.96 L426.08,206.87 L426.58,206.79 L427.08,206.72 L427.59,206.66 L428.09,206.61 L428.59,206.57 L429.09,206.54 L429.60,206.52 L430.10,206.50 L430.60,206.50 L431.10,206.51 L431.60,206.53 L432.11,206.57 L432.61,206.62 L433.11,206.69 L433.61,206.77 L434.11,206.86 L434.62,206.97 L435.12,207.09 L435.62,207.23 L436.12,207.37 L436.62,207.54 L437.13,207.71 L437.63,207.90 L438.13,208.09 L438.63,208.30 L439.13,208.53 L439.63,208.76 L440.14,209.01 L440.64,209.26 L441.14,209.53 L441.64,209.81 L442.14,210.10 L442.65,210.40 L443.15,210.71 L443.65,211.03 L444.15,211.36 L444.65,211.70 L445.16,212.05 L445.66,212.41 L446.16,212.78 L446.66,213.15 L447.16,213.54 L447.67,213.93 L448.17,214.33 L448.67,214.74 L449.17,215.16 L449.67,215.58 L450.18,216.01 L450.68,216.45 L451.18,216.90 L451.68,217.35 L452.18,217.81 L452.69,218.27 L453.19,218.75 L453.69,219.22 L454.19,219.71 L454.69,220.19 L455.20,220.69 L455.70,221.19 L456.20,221.69 L456.70,222.20 L457.20,222.71 L457.70,223.23 L458.21,223.75 L458.71,224.27 L459.21,224.80 L459.71,225.33 L460.21,225.87 L460.72,226.41 L461.22,226.95 L461.72,227.49 L462.22,228.03 L462.72,228.58 L463.23,229.13 L463.73,229.68 L464.23,230.24 L464.73,230.79 L465.23,231.34 L465.74,231.90 L466.24,232.46 L466.74,233.01 L467.24,233.57 L467.74,234.13 L468.25,234.69 L468.75,235.24 L469.25,235.80 L469.75,236.36 L470.25,236.91 L470.76,237.47 L471.26,238.02 L471.76,238.57 L472.26,239.12 L472.76,239.66 L473.27,240.21 L473.77,240.75 L474.27,241.29 L474.77,241.83 L475.27,242.36 L475.77,242.89 L476.28,243.42 L476.78,243.94 L477.28,244.46 L477.78,244.98 L478.28,245.49 L478.79,246.00 L479.29,246.50 L479.79,247.00 L480.29,247.49 L480.79,247.97 L481.30,248.46 L481.80,248.93 L482.30,249.40" fill="none" stroke="#bbeffb" stroke-width="1.15" stroke-linejoin="round"/>
<path d="M389.90,256.00 L390.40,254.80 L390.91,253.61 L391.41,252.45 L391.91,251.30 L392.42,250.17 L392.92,249.07 L393.43,247.98 L393.93,246.92 L394.43,245.87 L394.94,244.84 L395.44,243.83 L395.94,242.84 L396.45,241.86 L396.95,240.91 L397.45,239.97 L397.96,239.06 L398.46,238.16 L398.97,237.28 L399.47,236.41 L399.97,235.57 L400.48,234.74 L400.98,233.93 L401.48,233.13 L401.99,232.36 L402.49,231.60 L402.99,230.85 L403.50,230.13 L404.00,229.42 L404.50,228.72 L405.01,228.05 L405.51,227.39 L406.02,226.74 L406.52,226.11 L407.02,225.50 L407.53,224.90 L408.03,224.32 L408.53,223.76 L409.04,223.20 L409.54,222.67 L410.04,222.15 L410.55,221.64 L411.05,221.15 L411.56,220.67 L412.06,220.21 L412.56,219.76 L413.07,219.33 L413.57,218.91 L414.07,218.50 L414.58,218.11 L415.08,217.73 L415.58,217.37 L416.09,217.02 L416.59,216.68 L417.10,216.35 L417.60,216.04 L418.10,215.74 L418.61,215.45 L419.11,215.18 L419.61,214.92 L420.12,214.67 L420.62,214.43 L421.12,214.20 L421.63,213.99 L422.13,213.79 L422.63,213.60 L423.14,213.42 L423.64,213.25 L424.15,213.09 L424.65,212.95 L425.15,212.81 L425.66,212.69 L426.16,212.58 L426.66,212.47 L427.17,212.38 L427.67,212.30 L428.17,212.23 L428.68,212.17 L429.18,212.12 L429.69,212.07 L430.19,212.04 L430.69,212.02 L431.20,212.00 L431.70,212.00 L432.20,212.01 L432.70,212.03 L433.20,212.07 L433.70,212.12 L434.20,212.18 L434.71,212.26 L435.21,212.35 L435.71,212.46 L436.21,212.58 L436.71,212.71 L437.21,212.86 L437.71,213.01 L438.21,213.18 L438.71,213.37 L439.21,213.56 L439.72,213.77 L440.22,213.99 L440.72,214.22 L441.22,214.46 L441.72,214.71 L442.22,214.97 L442.72,215.24 L443.22,215.53 L443.72,215.82 L444.22,216.12 L444.73,216.44 L445.23,216.76 L445.73,217.09 L446.23,217.44 L446.73,217.79 L447.23,218.15 L447.73,218.51 L448.23,218.89 L448.73,219.27 L449.23,219.67 L449.74,220.07 L450.24,220.47 L450.74,220.89 L451.24,221.31 L451.74,221.74 L452.24,222.17 L452.74,222.62 L453.24,223.06 L453.74,223.52 L454.24,223.98 L454.75,224.45 L455.25,224.92 L455.75,225.39 L456.25,225.87 L456.75,226.36 L457.25,226.85 L457.75,227.35 L458.25,227.85 L458.75,228.35 L459.25,228.86 L459.76,229.37 L460.26,229.89 L460.76,230.40 L461.26,230.92 L461.76,231.45 L462.26,231.98 L462.76,232.50 L463.26,233.03 L463.76,233.57 L464.26,234.10 L464.77,234.64 L465.27,235.18 L465.77,235.72 L466.27,236.25 L466.77,236.80 L467.27,237.34 L467.77,237.88 L468.27,238.42 L468.77,238.96 L469.27,239.50 L469.78,240.04 L470.28,240.58 L470.78,241.12 L471.28,241.66 L471.78,242.20 L472.28,242.73 L472.78,243.26 L473.28,243.80 L473.78,244.33 L474.28,244.85 L474.79,245.38 L475.29,245.90 L475.79,246.42 L476.29,246.93 L476.79,247.45 L477.29,247.95 L477.79,248.46 L478.29,248.96 L478.79,249.46 L479.29,249.95 L479.80,250.44 L480.30,250.92 L480.80,251.40 L481.30,251.87 L481.80,252.34 L482.30,252.80" fill="none" stroke="#9ee5f8" stroke-width="1.15" stroke-linejoin="round"/>
<path d="M389.90,259.20 L390.40,258.33 L390.91,257.46 L391.41,256.62 L391.92,255.78 L392.42,254.96 L392.93,254.15 L393.43,253.35 L393.94,252.57 L394.44,251.80 L394.95,251.04 L395.45,250.30 L395.96,249.56 L396.46,248.84 L396.97,248.13 L397.47,247.44 L397.98,246.75 L398.48,246.08 L398.98,245.42 L399.49,244.77 L399.99,244.14 L400.50,243.51 L401.00,242.90 L401.51,242.30 L402.01,241.71 L402.52,241.13 L403.02,240.57 L403.53,240.01 L404.03,239.47 L404.54,238.94 L405.04,238.42 L405.55,237.91 L406.05,237.41 L406.56,236.93 L407.06,236.45 L407.56,235.99 L408.07,235.53 L408.57,235.09 L409.08,234.66 L409.58,234.23 L410.09,233.82 L410.59,233.42 L411.10,233.03 L411.60,232.65 L412.11,232.28 L412.61,231.92 L413.12,231.58 L413.62,231.24 L414.13,230.91 L414.63,230.59 L415.14,230.28 L415.64,229.98 L416.14,229.69 L416.65,229.41 L417.15,229.14 L417.66,228.88 L418.16,228.63 L418.67,228.39 L419.17,228.16 L419.68,227.94 L420.18,227.72 L420.69,227.52 L421.19,227.32 L421.70,227.14 L422.20,226.96 L422.71,226.79 L423.21,226.63 L423.72,226.48 L424.22,226.34 L424.72,226.21 L425.23,226.08 L425.73,225.97 L426.24,225.86 L426.74,225.76 L427.25,225.67 L427.75,225.59 L428.26,225.51 L428.76,225.45 L429.27,225.39 L429.77,225.34 L430.28,225.30 L430.78,225.26 L431.29,225.23 L431.79,225.22 L432.30,225.20 L432.80,225.20 L433.30,225.21 L433.80,225.22 L434.30,225.25 L434.80,225.29 L435.30,225.34 L435.80,225.41 L436.30,225.48 L436.80,225.56 L437.30,225.65 L437.80,225.76 L438.30,225.87 L438.80,226.00 L439.30,226.13 L439.80,226.27 L440.30,226.43 L440.80,226.59 L441.30,226.76 L441.80,226.94 L442.30,227.13 L442.80,227.33 L443.30,227.53 L443.80,227.75 L444.30,227.97 L444.80,228.20 L445.30,228.44 L445.80,228.69 L446.30,228.94 L446.80,229.20 L447.30,229.47 L447.80,229.74 L448.30,230.03 L448.80,230.32 L449.30,230.61 L449.80,230.91 L450.30,231.22 L450.80,231.54 L451.30,231.86 L451.80,232.18 L452.30,232.51 L452.80,232.85 L453.30,233.19 L453.80,233.54 L454.30,233.89 L454.80,234.25 L455.30,234.61 L455.80,234.97 L456.30,235.34 L456.80,235.72 L457.30,236.10 L457.80,236.48 L458.30,236.87 L458.80,237.25 L459.30,237.65 L459.80,238.04 L460.30,238.44 L460.80,238.84 L461.30,239.25 L461.80,239.65 L462.30,240.06 L462.80,240.47 L463.30,240.89 L463.80,241.30 L464.30,241.72 L464.80,242.14 L465.30,242.56 L465.80,242.98 L466.30,243.40 L466.80,243.82 L467.30,244.25 L467.80,244.67 L468.30,245.10 L468.80,245.52 L469.30,245.95 L469.80,246.37 L470.30,246.80 L470.80,247.22 L471.30,247.64 L471.80,248.07 L472.30,248.49 L472.80,248.91 L473.30,249.33 L473.80,249.75 L474.30,250.17 L474.80,250.58 L475.30,250.99 L475.80,251.41 L476.30,251.82 L476.80,252.22 L477.30,252.63 L477.80,253.03 L478.30,253.43 L478.80,253.82 L479.30,254.22 L479.80,254.61 L480.30,254.99 L480.80,255.38 L481.30,255.75 L481.80,256.13 L482.30,256.50" fill="none" stroke="#4ebced" stroke-width="1.15" stroke-linejoin="round"/>
<path d="M389.90,264.50 L390.40,263.65 L390.90,262.81 L391.40,261.98 L391.90,261.16 L392.40,260.35 L392.90,259.56 L393.40,258.78 L393.90,258.01 L394.40,257.25 L394.90,256.50 L395.40,255.77 L395.90,255.04 L396.40,254.33 L396.90,253.63 L397.40,252.94 L397.90,252.26 L398.40,251.59 L398.90,250.93 L399.40,250.29 L399.90,249.65 L400.40,249.03 L400.90,248.42 L401.40,247.81 L401.90,247.22 L402.40,246.64 L402.90,246.07 L403.40,245.52 L403.90,244.97 L404.40,244.43 L404.90,243.90 L405.40,243.39 L405.90,242.88 L406.40,242.38 L406.90,241.90 L407.40,241.42 L407.90,240.96 L408.40,240.50 L408.90,240.06 L409.40,239.62 L409.90,239.20 L410.40,238.79 L410.90,238.38 L411.40,237.99 L411.90,237.60 L412.40,237.23 L412.90,236.86 L413.40,236.50 L413.90,236.16 L414.40,235.82 L414.90,235.49 L415.40,235.18 L415.90,234.87 L416.40,234.57 L416.90,234.28 L417.40,234.00 L417.90,233.73 L418.40,233.47 L418.90,233.21 L419.40,232.97 L419.90,232.73 L420.40,232.51 L420.90,232.29 L421.40,232.08 L421.90,231.88 L422.40,231.69 L422.90,231.51 L423.40,231.34 L423.90,231.17 L424.40,231.02 L424.90,230.87 L425.40,230.73 L425.90,230.60 L426.40,230.47 L426.90,230.36 L427.40,230.25 L427.90,230.16 L428.40,230.07 L428.90,229.98 L429.40,229.91 L429.90,229.84 L430.40,229.79 L430.90,229.74 L431.40,229.70 L431.90,229.66 L432.40,229.63 L432.90,229.62 L433.40,229.60 L433.90,229.60 L434.40,229.61 L434.91,229.62 L435.41,229.65 L435.92,229.69 L436.42,229.74 L436.92,229.80 L437.43,229.87 L437.93,229.95 L438.44,230.04 L438.94,230.14 L439.45,230.25 L439.95,230.37 L440.45,230.50 L440.96,230.64 L441.46,230.79 L441.97,230.94 L442.47,231.11 L442.97,231.28 L443.48,231.47 L443.98,231.66 L444.49,231.86 L444.99,232.06 L445.50,232.28 L446.00,232.50 L446.50,232.73 L447.01,232.97 L447.51,233.21 L448.02,233.46 L448.52,233.72 L449.02,233.99 L449.53,234.26 L450.03,234.54 L450.54,234.82 L451.04,235.11 L451.55,235.41 L452.05,235.71 L452.55,236.02 L453.06,236.33 L453.56,236.65 L454.07,236.97 L454.57,237.30 L455.07,237.63 L455.58,237.97 L456.08,238.31 L456.59,238.66 L457.09,239.01 L457.60,239.37 L458.10,239.72 L458.60,240.09 L459.11,240.45 L459.61,240.82 L460.12,241.19 L460.62,241.57 L461.12,241.95 L461.63,242.33 L462.13,242.71 L462.64,243.10 L463.14,243.48 L463.65,243.87 L464.15,244.27 L464.65,244.66 L465.16,245.06 L465.66,245.45 L466.17,245.85 L466.67,246.25 L467.18,246.65 L467.68,247.05 L468.18,247.45 L468.69,247.85 L469.19,248.26 L469.70,248.66 L470.20,249.06 L470.70,249.46 L471.21,249.87 L471.71,250.27 L472.22,250.67 L472.72,251.07 L473.23,251.47 L473.73,251.86 L474.23,252.26 L474.74,252.66 L475.24,253.05 L475.75,253.44 L476.25,253.83 L476.75,254.22 L477.26,254.60 L477.76,254.99 L478.27,255.37 L478.77,255.75 L479.27,256.12 L479.78,256.49 L480.28,256.86 L480.79,257.23 L481.29,257.59 L481.80,257.95 L482.30,258.30" fill="none" stroke="#3eade5" stroke-width="1.15" stroke-linejoin="round"/>
<path d="M389.90,266.50 L390.40,265.84 L390.90,265.18 L391.41,264.54 L391.91,263.90 L392.41,263.27 L392.91,262.65 L393.42,262.04 L393.92,261.43 L394.42,260.83 L394.92,260.25 L395.42,259.66 L395.93,259.09 L396.43,258.53 L396.93,257.97 L397.43,257.42 L397.93,256.88 L398.44,256.35 L398.94,255.82 L399.44,255.30 L399.94,254.80 L400.45,254.29 L400.95,253.80 L401.45,253.31 L401.95,252.84 L402.45,252.37 L402.96,251.90 L403.46,251.45 L403.96,251.00 L404.46,250.56 L404.97,250.13 L405.47,249.70 L405.97,249.29 L406.47,248.88 L406.97,248.48 L407.48,248.08 L407.98,247.70 L408.48,247.32 L408.98,246.94 L409.48,246.58 L409.99,246.22 L410.49,245.87 L410.99,245.53 L411.49,245.20 L412.00,244.87 L412.50,244.55 L413.00,244.24 L413.50,243.93 L414.00,243.63 L414.51,243.34 L415.01,243.05 L415.51,242.78 L416.01,242.51 L416.52,242.25 L417.02,241.99 L417.52,241.74 L418.02,241.50 L418.52,241.26 L419.03,241.04 L419.53,240.82 L420.03,240.60 L420.53,240.40 L421.03,240.20 L421.54,240.00 L422.04,239.82 L422.54,239.64 L423.04,239.46 L423.55,239.30 L424.05,239.14 L424.55,238.99 L425.05,238.84 L425.55,238.70 L426.06,238.57 L426.56,238.45 L427.06,238.33 L427.56,238.22 L428.07,238.11 L428.57,238.01 L429.07,237.92 L429.57,237.83 L430.07,237.75 L430.58,237.68 L431.08,237.61 L431.58,237.55 L432.08,237.50 L432.58,237.45 L433.09,237.41 L433.59,237.38 L434.09,237.35 L434.59,237.33 L435.10,237.31 L435.60,237.30 L436.10,237.30 L436.60,237.30 L437.10,237.32 L437.61,237.34 L438.11,237.38 L438.61,237.42 L439.11,237.47 L439.62,237.53 L440.12,237.60 L440.62,237.68 L441.12,237.77 L441.62,237.87 L442.13,237.97 L442.63,238.08 L443.13,238.20 L443.63,238.33 L444.13,238.47 L444.64,238.61 L445.14,238.76 L445.64,238.92 L446.14,239.08 L446.65,239.26 L447.15,239.43 L447.65,239.62 L448.15,239.81 L448.65,240.01 L449.16,240.22 L449.66,240.43 L450.16,240.64 L450.66,240.87 L451.17,241.10 L451.67,241.33 L452.17,241.57 L452.67,241.82 L453.17,242.07 L453.68,242.32 L454.18,242.58 L454.68,242.85 L455.18,243.12 L455.68,243.39 L456.19,243.67 L456.69,243.95 L457.19,244.24 L457.69,244.53 L458.20,244.82 L458.70,245.12 L459.20,245.42 L459.70,245.72 L460.20,246.03 L460.71,246.34 L461.21,246.66 L461.71,246.97 L462.21,247.29 L462.72,247.61 L463.22,247.93 L463.72,248.26 L464.22,248.59 L464.72,248.92 L465.23,249.25 L465.73,249.58 L466.23,249.91 L466.73,250.25 L467.23,250.59 L467.74,250.92 L468.24,251.26 L468.74,251.60 L469.24,251.94 L469.75,252.28 L470.25,252.62 L470.75,252.96 L471.25,253.30 L471.75,253.64 L472.26,253.98 L472.76,254.32 L473.26,254.66 L473.76,255.00 L474.27,255.33 L474.77,255.67 L475.27,256.01 L475.77,256.34 L476.27,256.67 L476.78,257.00 L477.28,257.33 L477.78,257.66 L478.28,257.99 L478.78,258.31 L479.29,258.63 L479.79,258.95 L480.29,259.26 L480.79,259.58 L481.30,259.89 L481.80,260.20 L482.30,260.50" fill="none" stroke="#2793d4" stroke-width="1.15" stroke-linejoin="round"/>
<path d="M389.90,270.10 L390.40,269.43 L390.90,268.76 L391.40,268.10 L391.90,267.45 L392.41,266.81 L392.91,266.17 L393.41,265.55 L393.91,264.93 L394.41,264.32 L394.91,263.71 L395.41,263.12 L395.91,262.53 L396.41,261.95 L396.91,261.38 L397.42,260.81 L397.92,260.25 L398.42,259.71 L398.92,259.16 L399.42,258.63 L399.92,258.10 L400.42,257.59 L400.92,257.07 L401.42,256.57 L401.93,256.07 L402.43,255.59 L402.93,255.11 L403.43,254.63 L403.93,254.17 L404.43,253.71 L404.93,253.26 L405.43,252.82 L405.93,252.38 L406.44,251.95 L406.94,251.53 L407.44,251.12 L407.94,250.71 L408.44,250.31 L408.94,249.92 L409.44,249.54 L409.94,249.16 L410.44,248.79 L410.94,248.43 L411.45,248.08 L411.95,247.73 L412.45,247.39 L412.95,247.06 L413.45,246.73 L413.95,246.41 L414.45,246.10 L414.95,245.80 L415.45,245.50 L415.96,245.21 L416.46,244.93 L416.96,244.65 L417.46,244.38 L417.96,244.12 L418.46,243.87 L418.96,243.62 L419.46,243.38 L419.96,243.15 L420.46,242.92 L420.97,242.70 L421.47,242.49 L421.97,242.29 L422.47,242.09 L422.97,241.90 L423.47,241.71 L423.97,241.54 L424.47,241.37 L424.97,241.20 L425.48,241.05 L425.98,240.90 L426.48,240.75 L426.98,240.62 L427.48,240.49 L427.98,240.37 L428.48,240.25 L428.98,240.14 L429.48,240.04 L429.99,239.94 L430.49,239.85 L430.99,239.77 L431.49,239.70 L431.99,239.63 L432.49,239.56 L432.99,239.51 L433.49,239.46 L433.99,239.42 L434.49,239.38 L435.00,239.35 L435.50,239.33 L436.00,239.31 L436.50,239.30 L437.00,239.30 L437.50,239.30 L438.01,239.32 L438.51,239.34 L439.01,239.38 L439.52,239.42 L440.02,239.47 L440.52,239.53 L441.03,239.60 L441.53,239.68 L442.03,239.77 L442.54,239.86 L443.04,239.96 L443.54,240.08 L444.05,240.20 L444.55,240.32 L445.05,240.46 L445.56,240.60 L446.06,240.75 L446.56,240.91 L447.07,241.07 L447.57,241.24 L448.07,241.42 L448.58,241.60 L449.08,241.79 L449.58,241.99 L450.09,242.19 L450.59,242.40 L451.09,242.62 L451.60,242.84 L452.10,243.07 L452.60,243.30 L453.11,243.54 L453.61,243.78 L454.11,244.03 L454.62,244.28 L455.12,244.54 L455.62,244.80 L456.13,245.06 L456.63,245.33 L457.13,245.61 L457.64,245.89 L458.14,246.17 L458.64,246.46 L459.15,246.75 L459.65,247.04 L460.15,247.34 L460.66,247.64 L461.16,247.94 L461.66,248.25 L462.17,248.56 L462.67,248.87 L463.17,249.18 L463.68,249.50 L464.18,249.82 L464.68,250.14 L465.19,250.46 L465.69,250.78 L466.19,251.11 L466.70,251.44 L467.20,251.76 L467.70,252.09 L468.21,252.42 L468.71,252.76 L469.21,253.09 L469.72,253.42 L470.22,253.75 L470.72,254.09 L471.23,254.42 L471.73,254.75 L472.23,255.09 L472.74,255.42 L473.24,255.75 L473.74,256.08 L474.25,256.42 L474.75,256.75 L475.25,257.08 L475.76,257.40 L476.26,257.73 L476.76,258.06 L477.27,258.38 L477.77,258.70 L478.27,259.02 L478.78,259.34 L479.28,259.66 L479.78,259.97 L480.29,260.28 L480.79,260.59 L481.29,260.90 L481.80,261.20 L482.30,261.50" fill="none" stroke="#2385c4" stroke-width="1.15" stroke-linejoin="round"/>
<path d="M389.90,271.90 L390.40,271.25 L390.91,270.60 L391.41,269.96 L391.92,269.33 L392.42,268.71 L392.93,268.09 L393.43,267.48 L393.93,266.88 L394.44,266.28 L394.94,265.69 L395.45,265.11 L395.95,264.54 L396.45,263.97 L396.96,263.41 L397.46,262.86 L397.97,262.32 L398.47,261.78 L398.98,261.25 L399.48,260.73 L399.98,260.21 L400.49,259.70 L400.99,259.20 L401.50,258.71 L402.00,258.22 L402.51,257.74 L403.01,257.27 L403.51,256.80 L404.02,256.34 L404.52,255.89 L405.03,255.44 L405.53,255.01 L406.03,254.58 L406.54,254.15 L407.04,253.74 L407.55,253.33 L408.05,252.92 L408.56,252.53 L409.06,252.14 L409.56,251.76 L410.07,251.38 L410.57,251.02 L411.08,250.66 L411.58,250.30 L412.09,249.96 L412.59,249.62 L413.09,249.28 L413.60,248.96 L414.10,248.64 L414.61,248.33 L415.11,248.02 L415.61,247.72 L416.12,247.43 L416.62,247.15 L417.13,246.87 L417.63,246.60 L418.14,246.34 L418.64,246.08 L419.14,245.83 L419.65,245.59 L420.15,245.35 L420.66,245.12 L421.16,244.90 L421.67,244.68 L422.17,244.47 L422.67,244.27 L423.18,244.07 L423.68,243.88 L424.19,243.70 L424.69,243.53 L425.19,243.36 L425.70,243.19 L426.20,243.04 L426.71,242.89 L427.21,242.75 L427.72,242.61 L428.22,242.48 L428.72,242.36 L429.23,242.25 L429.73,242.14 L430.24,242.04 L430.74,241.94 L431.25,241.85 L431.75,241.77 L432.25,241.70 L432.76,241.63 L433.26,241.56 L433.77,241.51 L434.27,241.46 L434.77,241.42 L435.28,241.38 L435.78,241.35 L436.29,241.33 L436.79,241.31 L437.30,241.30 L437.80,241.30 L438.30,241.30 L438.80,241.32 L439.30,241.34 L439.80,241.37 L440.30,241.42 L440.80,241.47 L441.30,241.53 L441.80,241.59 L442.30,241.67 L442.80,241.75 L443.30,241.85 L443.80,241.95 L444.30,242.05 L444.80,242.17 L445.30,242.29 L445.80,242.42 L446.30,242.56 L446.80,242.71 L447.30,242.86 L447.80,243.02 L448.30,243.18 L448.80,243.36 L449.30,243.53 L449.80,243.72 L450.30,243.91 L450.80,244.11 L451.30,244.31 L451.80,244.52 L452.30,244.73 L452.80,244.95 L453.30,245.18 L453.80,245.41 L454.30,245.65 L454.80,245.89 L455.30,246.13 L455.80,246.38 L456.30,246.63 L456.80,246.89 L457.30,247.15 L457.80,247.42 L458.30,247.69 L458.80,247.97 L459.30,248.24 L459.80,248.53 L460.30,248.81 L460.80,249.10 L461.30,249.39 L461.80,249.68 L462.30,249.98 L462.80,250.28 L463.30,250.58 L463.80,250.88 L464.30,251.19 L464.80,251.50 L465.30,251.81 L465.80,252.12 L466.30,252.43 L466.80,252.75 L467.30,253.07 L467.80,253.38 L468.30,253.70 L468.80,254.02 L469.30,254.34 L469.80,254.66 L470.30,254.99 L470.80,255.31 L471.30,255.63 L471.80,255.95 L472.30,256.28 L472.80,256.60 L473.30,256.92 L473.80,257.24 L474.30,257.56 L474.80,257.88 L475.30,258.20 L475.80,258.52 L476.30,258.84 L476.80,259.15 L477.30,259.47 L477.80,259.78 L478.30,260.09 L478.80,260.40 L479.30,260.71 L479.80,261.01 L480.30,261.32 L480.80,261.62 L481.30,261.91 L481.80,262.21 L482.30,262.50" fill="none" stroke="#1f78b5" stroke-width="1.15" stroke-linejoin="round"/>
<path d="M389.90,276.20 L390.40,275.55 L390.90,274.90 L391.40,274.26 L391.90,273.63 L392.41,273.01 L392.91,272.39 L393.41,271.77 L393.91,271.17 L394.41,270.57 L394.91,269.97 L395.41,269.38 L395.91,268.80 L396.41,268.23 L396.91,267.66 L397.42,267.10 L397.92,266.54 L398.42,265.99 L398.92,265.45 L399.42,264.92 L399.92,264.39 L400.42,263.86 L400.92,263.35 L401.42,262.84 L401.92,262.33 L402.43,261.84 L402.93,261.35 L403.43,260.86 L403.93,260.38 L404.43,259.91 L404.93,259.45 L405.43,258.99 L405.93,258.54 L406.43,258.10 L406.93,257.66 L407.44,257.23 L407.94,256.80 L408.44,256.38 L408.94,255.97 L409.44,255.57 L409.94,255.17 L410.44,254.78 L410.94,254.39 L411.44,254.01 L411.94,253.64 L412.45,253.28 L412.95,252.92 L413.45,252.56 L413.95,252.22 L414.45,251.88 L414.95,251.55 L415.45,251.22 L415.95,250.90 L416.45,250.59 L416.96,250.29 L417.46,249.99 L417.96,249.70 L418.46,249.41 L418.96,249.13 L419.46,248.86 L419.96,248.60 L420.46,248.34 L420.96,248.09 L421.46,247.84 L421.97,247.61 L422.47,247.37 L422.97,247.15 L423.47,246.93 L423.97,246.72 L424.47,246.52 L424.97,246.32 L425.47,246.13 L425.97,245.95 L426.47,245.77 L426.98,245.60 L427.48,245.44 L427.98,245.28 L428.48,245.13 L428.98,244.99 L429.48,244.86 L429.98,244.73 L430.48,244.61 L430.98,244.49 L431.48,244.38 L431.99,244.28 L432.49,244.19 L432.99,244.10 L433.49,244.02 L433.99,243.95 L434.49,243.88 L434.99,243.82 L435.49,243.77 L435.99,243.73 L436.49,243.69 L437.00,243.66 L437.50,243.63 L438.00,243.61 L438.50,243.60 L439.00,243.60 L439.50,243.60 L440.01,243.62 L440.51,243.64 L441.01,243.67 L441.52,243.72 L442.02,243.77 L442.52,243.83 L443.03,243.89 L443.53,243.97 L444.03,244.05 L444.54,244.15 L445.04,244.25 L445.55,244.35 L446.05,244.47 L446.55,244.59 L447.06,244.72 L447.56,244.86 L448.06,245.01 L448.57,245.16 L449.07,245.32 L449.57,245.48 L450.08,245.66 L450.58,245.83 L451.08,246.02 L451.59,246.21 L452.09,246.41 L452.59,246.61 L453.10,246.82 L453.60,247.03 L454.10,247.25 L454.61,247.47 L455.11,247.70 L455.62,247.94 L456.12,248.18 L456.62,248.42 L457.13,248.67 L457.63,248.92 L458.13,249.18 L458.64,249.44 L459.14,249.71 L459.64,249.98 L460.15,250.25 L460.65,250.52 L461.15,250.80 L461.66,251.09 L462.16,251.37 L462.66,251.66 L463.17,251.95 L463.67,252.25 L464.17,252.54 L464.68,252.84 L465.18,253.15 L465.68,253.45 L466.19,253.75 L466.69,254.06 L467.20,254.37 L467.70,254.68 L468.20,254.99 L468.71,255.31 L469.21,255.62 L469.71,255.93 L470.22,256.25 L470.72,256.57 L471.22,256.88 L471.73,257.20 L472.23,257.52 L472.73,257.84 L473.24,258.16 L473.74,258.47 L474.24,258.79 L474.75,259.11 L475.25,259.42 L475.75,259.74 L476.26,260.05 L476.76,260.37 L477.27,260.68 L477.77,260.99 L478.27,261.30 L478.78,261.60 L479.28,261.91 L479.78,262.21 L480.29,262.52 L480.79,262.82 L481.29,263.11 L481.80,263.41 L482.30,263.70" fill="none" stroke="#245478" stroke-width="1.15" stroke-linejoin="round"/>
<path d="M389.90,278.00 L390.40,277.37 L390.90,276.74 L391.40,276.12 L391.90,275.51 L392.40,274.90 L392.91,274.30 L393.41,273.70 L393.91,273.11 L394.41,272.53 L394.91,271.95 L395.41,271.38 L395.91,270.81 L396.41,270.25 L396.91,269.69 L397.41,269.14 L397.92,268.60 L398.42,268.06 L398.92,267.52 L399.42,267.00 L399.92,266.48 L400.42,265.96 L400.92,265.45 L401.42,264.95 L401.92,264.45 L402.42,263.96 L402.93,263.48 L403.43,263.00 L403.93,262.53 L404.43,262.06 L404.93,261.60 L405.43,261.15 L405.93,260.70 L406.43,260.25 L406.93,259.82 L407.44,259.39 L407.94,258.96 L408.44,258.55 L408.94,258.13 L409.44,257.73 L409.94,257.33 L410.44,256.94 L410.94,256.55 L411.44,256.17 L411.94,255.79 L412.44,255.43 L412.95,255.06 L413.45,254.71 L413.95,254.36 L414.45,254.02 L414.95,253.68 L415.45,253.35 L415.95,253.02 L416.45,252.71 L416.95,252.40 L417.45,252.09 L417.96,251.79 L418.46,251.50 L418.96,251.21 L419.46,250.93 L419.96,250.66 L420.46,250.40 L420.96,250.14 L421.46,249.88 L421.96,249.64 L422.46,249.40 L422.97,249.16 L423.47,248.93 L423.97,248.71 L424.47,248.50 L424.97,248.29 L425.47,248.09 L425.97,247.90 L426.47,247.71 L426.97,247.53 L427.48,247.35 L427.98,247.19 L428.48,247.03 L428.98,246.87 L429.48,246.72 L429.98,246.58 L430.48,246.45 L430.98,246.32 L431.48,246.20 L431.98,246.09 L432.49,245.98 L432.99,245.88 L433.49,245.79 L433.99,245.70 L434.49,245.62 L434.99,245.55 L435.49,245.48 L435.99,245.42 L436.49,245.37 L436.99,245.33 L437.50,245.29 L438.00,245.26 L438.50,245.23 L439.00,245.21 L439.50,245.20 L440.00,245.20 L440.50,245.20 L441.01,245.22 L441.51,245.24 L442.01,245.28 L442.52,245.32 L443.02,245.37 L443.52,245.43 L444.03,245.49 L444.53,245.57 L445.04,245.66 L445.54,245.75 L446.04,245.85 L446.55,245.96 L447.05,246.07 L447.55,246.20 L448.06,246.33 L448.56,246.47 L449.06,246.61 L449.57,246.76 L450.07,246.92 L450.57,247.09 L451.08,247.26 L451.58,247.44 L452.09,247.63 L452.59,247.82 L453.09,248.01 L453.60,248.22 L454.10,248.42 L454.60,248.64 L455.11,248.86 L455.61,249.08 L456.11,249.31 L456.62,249.55 L457.12,249.79 L457.62,250.03 L458.13,250.28 L458.63,250.53 L459.14,250.79 L459.64,251.05 L460.14,251.31 L460.65,251.58 L461.15,251.85 L461.65,252.13 L462.16,252.41 L462.66,252.69 L463.16,252.98 L463.67,253.26 L464.17,253.55 L464.68,253.85 L465.18,254.14 L465.68,254.44 L466.19,254.74 L466.69,255.04 L467.19,255.35 L467.70,255.65 L468.20,255.96 L468.70,256.27 L469.21,256.58 L469.71,256.89 L470.21,257.20 L470.72,257.51 L471.22,257.83 L471.73,258.14 L472.23,258.46 L472.73,258.77 L473.24,259.09 L473.74,259.40 L474.24,259.72 L474.75,260.03 L475.25,260.34 L475.75,260.66 L476.26,260.97 L476.76,261.28 L477.26,261.59 L477.77,261.90 L478.27,262.21 L478.77,262.51 L479.28,262.82 L479.78,263.12 L480.29,263.42 L480.79,263.72 L481.29,264.01 L481.80,264.31 L482.30,264.60" fill="none" stroke="#28455b" stroke-width="1.15" stroke-linejoin="round"/>
<path d="M389.90,281.00 L390.40,280.40 L390.91,279.80 L391.41,279.20 L391.92,278.61 L392.42,278.02 L392.92,277.44 L393.43,276.87 L393.93,276.29 L394.43,275.73 L394.94,275.16 L395.44,274.60 L395.95,274.05 L396.45,273.50 L396.95,272.96 L397.46,272.42 L397.96,271.88 L398.47,271.35 L398.97,270.83 L399.47,270.31 L399.98,269.80 L400.48,269.29 L400.99,268.78 L401.49,268.28 L401.99,267.79 L402.50,267.30 L403.00,266.81 L403.50,266.34 L404.01,265.86 L404.51,265.39 L405.02,264.93 L405.52,264.47 L406.02,264.02 L406.53,263.57 L407.03,263.13 L407.54,262.69 L408.04,262.26 L408.54,261.84 L409.05,261.42 L409.55,261.00 L410.06,260.59 L410.56,260.19 L411.06,259.79 L411.57,259.40 L412.07,259.01 L412.57,258.63 L413.08,258.25 L413.58,257.88 L414.09,257.52 L414.59,257.16 L415.09,256.81 L415.60,256.46 L416.10,256.12 L416.61,255.79 L417.11,255.46 L417.61,255.14 L418.12,254.82 L418.62,254.51 L419.13,254.20 L419.63,253.91 L420.13,253.61 L420.64,253.33 L421.14,253.05 L421.64,252.77 L422.15,252.50 L422.65,252.24 L423.16,251.99 L423.66,251.74 L424.16,251.49 L424.67,251.26 L425.17,251.03 L425.68,250.80 L426.18,250.59 L426.68,250.38 L427.19,250.17 L427.69,249.97 L428.20,249.78 L428.70,249.60 L429.20,249.42 L429.71,249.25 L430.21,249.08 L430.71,248.93 L431.22,248.78 L431.72,248.63 L432.23,248.49 L432.73,248.36 L433.23,248.24 L433.74,248.12 L434.24,248.01 L434.75,247.91 L435.25,247.81 L435.75,247.72 L436.26,247.64 L436.76,247.56 L437.27,247.49 L437.77,247.43 L438.27,247.38 L438.78,247.33 L439.28,247.29 L439.78,247.26 L440.29,247.23 L440.79,247.21 L441.30,247.20 L441.80,247.20 L442.30,247.20 L442.80,247.22 L443.30,247.24 L443.80,247.28 L444.30,247.32 L444.80,247.37 L445.30,247.43 L445.80,247.50 L446.30,247.58 L446.80,247.66 L447.30,247.76 L447.80,247.86 L448.30,247.97 L448.80,248.09 L449.30,248.22 L449.80,248.35 L450.30,248.49 L450.80,248.64 L451.30,248.79 L451.80,248.95 L452.30,249.12 L452.80,249.30 L453.30,249.48 L453.80,249.67 L454.30,249.86 L454.80,250.06 L455.30,250.27 L455.80,250.48 L456.30,250.70 L456.80,250.92 L457.30,251.15 L457.80,251.38 L458.30,251.62 L458.80,251.86 L459.30,252.11 L459.80,252.36 L460.30,252.62 L460.80,252.88 L461.30,253.14 L461.80,253.41 L462.30,253.69 L462.80,253.96 L463.30,254.24 L463.80,254.52 L464.30,254.81 L464.80,255.10 L465.30,255.39 L465.80,255.68 L466.30,255.98 L466.80,256.28 L467.30,256.58 L467.80,256.88 L468.30,257.19 L468.80,257.49 L469.30,257.80 L469.80,258.11 L470.30,258.42 L470.80,258.74 L471.30,259.05 L471.80,259.37 L472.30,259.68 L472.80,260.00 L473.30,260.31 L473.80,260.63 L474.30,260.95 L474.80,261.26 L475.30,261.58 L475.80,261.89 L476.30,262.21 L476.80,262.52 L477.30,262.84 L477.80,263.15 L478.30,263.46 L478.80,263.77 L479.30,264.08 L479.80,264.39 L480.30,264.70 L480.80,265.00 L481.30,265.30 L481.80,265.60 L482.30,265.90" fill="none" stroke="#292c30" stroke-width="1.15" stroke-linejoin="round"/>
<path d="M389.90,283.50 L390.40,282.90 L390.91,282.31 L391.41,281.72 L391.91,281.14 L392.41,280.56 L392.92,279.98 L393.42,279.41 L393.92,278.84 L394.43,278.27 L394.93,277.71 L395.43,277.16 L395.93,276.60 L396.44,276.06 L396.94,275.51 L397.44,274.97 L397.95,274.44 L398.45,273.91 L398.95,273.38 L399.45,272.86 L399.96,272.34 L400.46,271.83 L400.96,271.32 L401.47,270.82 L401.97,270.32 L402.47,269.82 L402.97,269.33 L403.48,268.85 L403.98,268.37 L404.48,267.89 L404.99,267.42 L405.49,266.96 L405.99,266.50 L406.49,266.04 L407.00,265.59 L407.50,265.15 L408.00,264.70 L408.51,264.27 L409.01,263.84 L409.51,263.41 L410.01,262.99 L410.52,262.58 L411.02,262.17 L411.52,261.76 L412.03,261.37 L412.53,260.97 L413.03,260.58 L413.53,260.20 L414.04,259.83 L414.54,259.45 L415.04,259.09 L415.55,258.73 L416.05,258.37 L416.55,258.02 L417.05,257.68 L417.56,257.34 L418.06,257.01 L418.56,256.69 L419.07,256.37 L419.57,256.05 L420.07,255.74 L420.57,255.44 L421.08,255.14 L421.58,254.85 L422.08,254.57 L422.59,254.29 L423.09,254.02 L423.59,253.75 L424.09,253.49 L424.60,253.24 L425.10,252.99 L425.60,252.75 L426.11,252.52 L426.61,252.29 L427.11,252.07 L427.61,251.86 L428.12,251.65 L428.62,251.45 L429.12,251.25 L429.63,251.06 L430.13,250.88 L430.63,250.70 L431.13,250.54 L431.64,250.37 L432.14,250.22 L432.64,250.07 L433.15,249.93 L433.65,249.80 L434.15,249.67 L434.65,249.55 L435.16,249.43 L435.66,249.33 L436.16,249.23 L436.67,249.14 L437.17,249.05 L437.67,248.97 L438.17,248.90 L438.68,248.84 L439.18,248.78 L439.68,248.74 L440.19,248.69 L440.69,248.66 L441.19,248.63 L441.69,248.62 L442.20,248.60 L442.70,248.60 L443.20,248.60 L443.70,248.62 L444.20,248.64 L444.71,248.68 L445.21,248.72 L445.71,248.77 L446.21,248.84 L446.71,248.91 L447.21,248.99 L447.71,249.08 L448.21,249.17 L448.72,249.28 L449.22,249.39 L449.72,249.51 L450.22,249.64 L450.72,249.78 L451.22,249.92 L451.72,250.07 L452.22,250.23 L452.73,250.40 L453.23,250.57 L453.73,250.75 L454.23,250.93 L454.73,251.13 L455.23,251.32 L455.73,251.53 L456.23,251.74 L456.74,251.96 L457.24,252.18 L457.74,252.41 L458.24,252.64 L458.74,252.88 L459.24,253.12 L459.74,253.37 L460.24,253.62 L460.75,253.88 L461.25,254.14 L461.75,254.40 L462.25,254.67 L462.75,254.95 L463.25,255.22 L463.75,255.51 L464.25,255.79 L464.76,256.08 L465.26,256.37 L465.76,256.66 L466.26,256.96 L466.76,257.26 L467.26,257.56 L467.76,257.86 L468.26,258.17 L468.77,258.48 L469.27,258.79 L469.77,259.10 L470.27,259.42 L470.77,259.73 L471.27,260.05 L471.77,260.36 L472.27,260.68 L472.78,261.00 L473.28,261.32 L473.78,261.64 L474.28,261.96 L474.78,262.28 L475.28,262.60 L475.78,262.92 L476.28,263.24 L476.79,263.56 L477.29,263.88 L477.79,264.20 L478.29,264.52 L478.79,264.83 L479.29,265.15 L479.79,265.46 L480.29,265.77 L480.80,266.08 L481.30,266.39 L481.80,266.70 L482.30,267.00" fill="none" stroke="#1c1c1c" stroke-width="1.15" stroke-linejoin="round"/>
<line x1="401.30" y1="210.60" x2="401.30" y2="280.50" stroke="#f7bfc5" stroke-width="0.85" />
<path d="M399.70,279.80 L401.30,283.00 L402.90,279.80 Z" fill="#f28a98"/>
<rect x="380.80" y="178.30" width="112.80" height="113.20" fill="none" stroke="#3a3a3a" stroke-width="1.1"/>
<line x1="381.30" y1="291.50" x2="381.30" y2="296.30" stroke="#3a3a3a" stroke-width="1.0" />
<line x1="381.30" y1="178.30" x2="381.30" y2="173.50" stroke="#3a3a3a" stroke-width="1.0" />
<line x1="406.10" y1="291.50" x2="406.10" y2="296.30" stroke="#3a3a3a" stroke-width="1.0" />
<line x1="406.10" y1="178.30" x2="406.10" y2="173.50" stroke="#3a3a3a" stroke-width="1.0" />
<line x1="430.90" y1="291.50" x2="430.90" y2="296.30" stroke="#3a3a3a" stroke-width="1.0" />
<line x1="430.90" y1="178.30" x2="430.90" y2="173.50" stroke="#3a3a3a" stroke-width="1.0" />
<line x1="455.70" y1="291.50" x2="455.70" y2="296.30" stroke="#3a3a3a" stroke-width="1.0" />
<line x1="455.70" y1="178.30" x2="455.70" y2="173.50" stroke="#3a3a3a" stroke-width="1.0" />
<line x1="480.50" y1="291.50" x2="480.50" y2="296.30" stroke="#3a3a3a" stroke-width="1.0" />
<line x1="480.50" y1="178.30" x2="480.50" y2="173.50" stroke="#3a3a3a" stroke-width="1.0" />
<line x1="380.80" y1="291.60" x2="376.20" y2="291.60" stroke="#3a3a3a" stroke-width="1.0" />
<line x1="493.60" y1="291.60" x2="498.20" y2="291.60" stroke="#3a3a3a" stroke-width="1.0" />
<line x1="380.80" y1="263.60" x2="376.20" y2="263.60" stroke="#3a3a3a" stroke-width="1.0" />
<line x1="493.60" y1="263.60" x2="498.20" y2="263.60" stroke="#3a3a3a" stroke-width="1.0" />
<line x1="380.80" y1="235.60" x2="376.20" y2="235.60" stroke="#3a3a3a" stroke-width="1.0" />
<line x1="493.60" y1="235.60" x2="498.20" y2="235.60" stroke="#3a3a3a" stroke-width="1.0" />
<line x1="380.80" y1="207.60" x2="376.20" y2="207.60" stroke="#3a3a3a" stroke-width="1.0" />
<line x1="493.60" y1="207.60" x2="498.20" y2="207.60" stroke="#3a3a3a" stroke-width="1.0" />
<line x1="380.80" y1="179.60" x2="376.20" y2="179.60" stroke="#3a3a3a" stroke-width="1.0" />
<line x1="493.60" y1="179.60" x2="498.20" y2="179.60" stroke="#3a3a3a" stroke-width="1.0" />
<text x="381.30" y="307.40" font-size="6.9" text-anchor="middle" fill="#222" stroke="#222" >380</text>
<text x="406.10" y="307.40" font-size="6.9" text-anchor="middle" fill="#222" stroke="#222" >390</text>
<text x="430.90" y="307.40" font-size="6.9" text-anchor="middle" fill="#222" stroke="#222" >400</text>
<text x="455.70" y="307.40" font-size="6.9" text-anchor="middle" fill="#222" stroke="#222" >410</text>
<text x="480.50" y="307.40" font-size="6.9" text-anchor="middle" fill="#222" stroke="#222" >420</text>
<text x="373.00" y="294.10" font-size="6.9" text-anchor="end" fill="#222" stroke="#222" >20</text>
<text x="373.00" y="266.10" font-size="6.9" text-anchor="end" fill="#222" stroke="#222" >30</text>
<text x="373.00" y="238.10" font-size="6.9" text-anchor="end" fill="#222" stroke="#222" >40</text>
<text x="373.00" y="210.10" font-size="6.9" text-anchor="end" fill="#222" stroke="#222" >50</text>
<text x="373.00" y="182.10" font-size="6.9" text-anchor="end" fill="#222" stroke="#222" >60</text>
<text x="344.00" y="174.30" font-size="8.2" text-anchor="start" fill="#222" stroke="#222" >(f)</text>
<text x="367.50" y="174.00" font-size="6.5" text-anchor="start" fill="#222" stroke="#222" >x10<tspan font-size="4.4" dy="-5">3</tspan></text>
<text x="0" y="0" font-size="8.4" text-anchor="middle" fill="#222" stroke="#222" transform="translate(357.60,234.50) rotate(-90)">Dielectric permittivity (ε<tspan font-size="0.7em" dy="0.3em">33</tspan><tspan dy="-0.3em">/ε</tspan><tspan font-size="0.7em" dy="0.3em">0</tspan><tspan dy="-0.3em">)</tspan></text>
<text x="437.00" y="316.70" font-size="8.4" text-anchor="middle" fill="#222" stroke="#222" >Temperature (K)</text>
<text x="386.00" y="191.00" font-size="8.6" text-anchor="start" fill="#222" stroke="#222" >PMN-0.29PT</text>
<text x="420.70" y="270.00" font-size="8.6" text-anchor="start" fill="#222" stroke="#222" >T<tspan font-size="0.65em" dy="0.35em">m</tspan><tspan dy="-0.35em"> shift~5 K</tspan></text>
<text x="406.60" y="287.40" font-size="8.4" text-anchor="start" fill="#f59ca7" stroke="#f59ca7" >frequency increasing</text>
<defs><linearGradient id="cbf" x1="0" y1="0" x2="0" y2="1"><stop offset="0" stop-color="#b0f2ff"/><stop offset="0.15" stop-color="#84e6fc"/><stop offset="0.3" stop-color="#5cccf4"/><stop offset="0.45" stop-color="#20a4ea"/><stop offset="0.62" stop-color="#1670b4"/><stop offset="0.8" stop-color="#0e3450"/><stop offset="1.0" stop-color="#050505"/></linearGradient></defs>
<rect x="466.10" y="183.00" width="4.00" height="35.40" fill="url(#cbf)"/>
<line x1="470.10" y1="184.80" x2="471.60" y2="184.80" stroke="#666" stroke-width="0.6" />
<text x="473.00" y="187.20" font-size="6.9" text-anchor="start" fill="#222" stroke="#222" >20 Hz</text>
<line x1="470.10" y1="200.80" x2="471.60" y2="200.80" stroke="#666" stroke-width="0.6" />
<text x="473.00" y="203.20" font-size="6.9" text-anchor="start" fill="#222" stroke="#222" >5k Hz</text>
<line x1="470.10" y1="217.20" x2="471.60" y2="217.20" stroke="#666" stroke-width="0.6" />
<text x="473.00" y="219.60" font-size="6.9" text-anchor="start" fill="#222" stroke="#222" >1M Hz</text>
<path d="M43.50,371.00 C44.58,373.17 47.92,379.83 50.00,384.00 C52.08,388.17 54.17,391.67 56.00,396.00 C57.83,400.33 59.42,405.17 61.00,410.00 C62.58,414.83 64.17,420.33 65.50,425.00 C66.83,429.67 68.00,434.17 69.00,438.00 C70.00,441.83 71.08,446.33 71.50,448.00" fill="none" stroke="#4aaee6" stroke-width="1.0" stroke-linejoin="round" stroke-linecap="round" />
<rect x="41.10" y="368.00" width="4.20" height="4.20" fill="none" stroke="#a6daf4" stroke-width="0.7"/>
<rect x="42.10" y="371.10" width="4.20" height="4.20" fill="none" stroke="#a6daf4" stroke-width="0.7"/>
<rect x="48.20" y="384.20" width="4.20" height="4.20" fill="none" stroke="#a6daf4" stroke-width="0.7"/>
<rect x="53.30" y="389.30" width="4.20" height="4.20" fill="none" stroke="#a6daf4" stroke-width="0.7"/>
<rect x="56.30" y="400.40" width="4.20" height="4.20" fill="none" stroke="#a6daf4" stroke-width="0.7"/>
<rect x="58.30" y="404.50" width="4.20" height="4.20" fill="none" stroke="#a6daf4" stroke-width="0.7"/>
<rect x="60.30" y="416.60" width="4.20" height="4.20" fill="none" stroke="#a6daf4" stroke-width="0.7"/>
<rect x="61.30" y="419.60" width="4.20" height="4.20" fill="none" stroke="#a6daf4" stroke-width="0.7"/>
<rect x="64.40" y="432.80" width="4.20" height="4.20" fill="none" stroke="#a6daf4" stroke-width="0.7"/>
<rect x="66.40" y="436.90" width="4.20" height="4.20" fill="none" stroke="#a6daf4" stroke-width="0.7"/>
<rect x="68.40" y="443.90" width="4.20" height="4.20" fill="none" stroke="#a6daf4" stroke-width="0.7"/>
<rect x="69.40" y="445.90" width="4.20" height="4.20" fill="none" stroke="#a6daf4" stroke-width="0.7"/>
<path d="M76.30,369.00 C76.43,373.33 76.82,386.50 77.10,395.00 C77.38,403.50 77.68,411.50 78.00,420.00 C78.32,428.50 78.83,441.67 79.00,446.00" fill="none" stroke="#f2b45c" stroke-width="1.0" stroke-linejoin="round" stroke-linecap="round" />
<polygon points="78.64,370.00 77.49,371.99 75.19,371.99 74.04,370.00 75.19,368.01 77.49,368.01" fill="none" stroke="#fbdcae" stroke-width="0.7"/>
<polygon points="78.88,376.90 77.73,378.89 75.43,378.89 74.28,376.90 75.43,374.91 77.73,374.91" fill="none" stroke="#fbdcae" stroke-width="0.7"/>
<polygon points="79.12,383.80 77.97,385.79 75.67,385.79 74.52,383.80 75.67,381.81 77.97,381.81" fill="none" stroke="#fbdcae" stroke-width="0.7"/>
<polygon points="79.36,390.70 78.21,392.69 75.91,392.69 74.76,390.70 75.91,388.71 78.21,388.71" fill="none" stroke="#fbdcae" stroke-width="0.7"/>
<polygon points="79.60,397.60 78.45,399.59 76.15,399.59 75.00,397.60 76.15,395.61 78.45,395.61" fill="none" stroke="#fbdcae" stroke-width="0.7"/>
<polygon points="79.84,404.50 78.69,406.49 76.39,406.49 75.24,404.50 76.39,402.51 78.69,402.51" fill="none" stroke="#fbdcae" stroke-width="0.7"/>
<polygon points="80.09,411.40 78.94,413.39 76.64,413.39 75.49,411.40 76.64,409.41 78.94,409.41" fill="none" stroke="#fbdcae" stroke-width="0.7"/>
<polygon points="80.33,418.30 79.18,420.29 76.88,420.29 75.73,418.30 76.88,416.31 79.18,416.31" fill="none" stroke="#fbdcae" stroke-width="0.7"/>
<polygon points="80.57,425.20 79.42,427.19 77.12,427.19 75.97,425.20 77.12,423.21 79.42,423.21" fill="none" stroke="#fbdcae" stroke-width="0.7"/>
<polygon points="80.81,432.10 79.66,434.09 77.36,434.09 76.21,432.10 77.36,430.11 79.66,430.11" fill="none" stroke="#fbdcae" stroke-width="0.7"/>
<polygon points="81.05,439.00 79.90,440.99 77.60,440.99 76.45,439.00 77.60,437.01 79.90,437.01" fill="none" stroke="#fbdcae" stroke-width="0.7"/>
<polygon points="81.30,445.90 80.15,447.89 77.85,447.89 76.70,445.90 77.85,443.91 80.15,443.91" fill="none" stroke="#fbdcae" stroke-width="0.7"/>
<path d="M116.50,371.00 C116.92,373.33 118.17,380.50 119.00,385.00 C119.83,389.50 120.67,393.50 121.50,398.00 C122.33,402.50 123.25,407.50 124.00,412.00 C124.75,416.50 125.37,420.83 126.00,425.00 C126.63,429.17 127.30,433.33 127.80,437.00 C128.30,440.67 128.80,445.33 129.00,447.00" fill="none" stroke="#e9505a" stroke-width="1.0" stroke-linejoin="round" stroke-linecap="round" />
<circle cx="116.20" cy="370.80" r="2.40" fill="none" stroke="#f08a90" stroke-width="0.8"/>
<circle cx="117.70" cy="377.70" r="2.00" fill="none" stroke="#f5b0b6" stroke-width="0.7"/>
<circle cx="118.93" cy="384.60" r="2.00" fill="none" stroke="#f5b0b6" stroke-width="0.7"/>
<circle cx="120.25" cy="391.50" r="2.00" fill="none" stroke="#f5b0b6" stroke-width="0.7"/>
<circle cx="121.57" cy="398.40" r="2.00" fill="none" stroke="#f5b0b6" stroke-width="0.7"/>
<circle cx="122.80" cy="405.30" r="2.00" fill="none" stroke="#f5b0b6" stroke-width="0.7"/>
<circle cx="124.03" cy="412.20" r="2.00" fill="none" stroke="#f5b0b6" stroke-width="0.7"/>
<circle cx="125.09" cy="419.10" r="2.00" fill="none" stroke="#f5b0b6" stroke-width="0.7"/>
<circle cx="126.15" cy="426.00" r="2.00" fill="none" stroke="#f5b0b6" stroke-width="0.7"/>
<circle cx="127.19" cy="432.90" r="2.00" fill="none" stroke="#f5b0b6" stroke-width="0.7"/>
<circle cx="128.14" cy="439.80" r="2.00" fill="none" stroke="#f5b0b6" stroke-width="0.7"/>
<circle cx="128.96" cy="446.70" r="2.00" fill="none" stroke="#f5b0b6" stroke-width="0.7"/>
<rect x="29.30" y="345.10" width="117.40" height="118.40" fill="none" stroke="#3a3a3a" stroke-width="1.1"/>
<line x1="32.15" y1="463.50" x2="32.15" y2="467.50" stroke="#3a3a3a" stroke-width="1.0" />
<line x1="32.15" y1="345.10" x2="32.15" y2="341.10" stroke="#3a3a3a" stroke-width="1.0" />
<line x1="50.80" y1="463.50" x2="50.80" y2="467.50" stroke="#3a3a3a" stroke-width="1.0" />
<line x1="50.80" y1="345.10" x2="50.80" y2="341.10" stroke="#3a3a3a" stroke-width="1.0" />
<line x1="69.45" y1="463.50" x2="69.45" y2="467.50" stroke="#3a3a3a" stroke-width="1.0" />
<line x1="69.45" y1="345.10" x2="69.45" y2="341.10" stroke="#3a3a3a" stroke-width="1.0" />
<line x1="88.10" y1="463.50" x2="88.10" y2="467.50" stroke="#3a3a3a" stroke-width="1.0" />
<line x1="88.10" y1="345.10" x2="88.10" y2="341.10" stroke="#3a3a3a" stroke-width="1.0" />
<line x1="106.75" y1="463.50" x2="106.75" y2="467.50" stroke="#3a3a3a" stroke-width="1.0" />
<line x1="106.75" y1="345.10" x2="106.75" y2="341.10" stroke="#3a3a3a" stroke-width="1.0" />
<line x1="125.40" y1="463.50" x2="125.40" y2="467.50" stroke="#3a3a3a" stroke-width="1.0" />
<line x1="125.40" y1="345.10" x2="125.40" y2="341.10" stroke="#3a3a3a" stroke-width="1.0" />
<line x1="144.05" y1="463.50" x2="144.05" y2="467.50" stroke="#3a3a3a" stroke-width="1.0" />
<line x1="144.05" y1="345.10" x2="144.05" y2="341.10" stroke="#3a3a3a" stroke-width="1.0" />
<line x1="29.30" y1="453.36" x2="24.70" y2="453.36" stroke="#3a3a3a" stroke-width="1.0" />
<line x1="146.70" y1="453.36" x2="151.30" y2="453.36" stroke="#3a3a3a" stroke-width="1.0" />
<line x1="29.30" y1="439.38" x2="24.70" y2="439.38" stroke="#3a3a3a" stroke-width="1.0" />
<line x1="146.70" y1="439.38" x2="151.30" y2="439.38" stroke="#3a3a3a" stroke-width="1.0" />
<line x1="29.30" y1="425.40" x2="24.70" y2="425.40" stroke="#3a3a3a" stroke-width="1.0" />
<line x1="146.70" y1="425.40" x2="151.30" y2="425.40" stroke="#3a3a3a" stroke-width="1.0" />
<line x1="29.30" y1="411.42" x2="24.70" y2="411.42" stroke="#3a3a3a" stroke-width="1.0" />
<line x1="146.70" y1="411.42" x2="151.30" y2="411.42" stroke="#3a3a3a" stroke-width="1.0" />
<line x1="29.30" y1="397.44" x2="24.70" y2="397.44" stroke="#3a3a3a" stroke-width="1.0" />
<line x1="146.70" y1="397.44" x2="151.30" y2="397.44" stroke="#3a3a3a" stroke-width="1.0" />
<line x1="29.30" y1="383.46" x2="24.70" y2="383.46" stroke="#3a3a3a" stroke-width="1.0" />
<line x1="146.70" y1="383.46" x2="151.30" y2="383.46" stroke="#3a3a3a" stroke-width="1.0" />
<line x1="29.30" y1="369.48" x2="24.70" y2="369.48" stroke="#3a3a3a" stroke-width="1.0" />
<line x1="146.70" y1="369.48" x2="151.30" y2="369.48" stroke="#3a3a3a" stroke-width="1.0" />
<line x1="29.30" y1="355.50" x2="24.70" y2="355.50" stroke="#3a3a3a" stroke-width="1.0" />
<line x1="146.70" y1="355.50" x2="151.30" y2="355.50" stroke="#3a3a3a" stroke-width="1.0" />
<text x="50.80" y="477.80" font-size="6.9" text-anchor="middle" fill="#222" stroke="#222" >2.30</text>
<text x="88.10" y="477.80" font-size="6.9" text-anchor="middle" fill="#222" stroke="#222" >2.40</text>
<text x="123.00" y="477.80" font-size="6.9" text-anchor="middle" fill="#222" stroke="#222" >2.50</text>
<text x="131.20" y="477.80" font-size="6.5" text-anchor="start" fill="#222" stroke="#222" >x10<tspan font-size="4.4" dy="-5">-3</tspan></text>
<text x="21.80" y="455.86" font-size="6.9" text-anchor="end" fill="#222" stroke="#222" >2</text>
<text x="21.80" y="441.88" font-size="6.9" text-anchor="end" fill="#222" stroke="#222" >4</text>
<text x="21.80" y="427.90" font-size="6.9" text-anchor="end" fill="#222" stroke="#222" >6</text>
<text x="21.80" y="413.92" font-size="6.9" text-anchor="end" fill="#222" stroke="#222" >8</text>
<text x="21.80" y="399.94" font-size="6.9" text-anchor="end" fill="#222" stroke="#222" >10</text>
<text x="21.80" y="385.96" font-size="6.9" text-anchor="end" fill="#222" stroke="#222" >12</text>
<text x="21.80" y="371.98" font-size="6.9" text-anchor="end" fill="#222" stroke="#222" >14</text>
<text x="21.80" y="358.00" font-size="6.9" text-anchor="end" fill="#222" stroke="#222" >16</text>
<text x="0.50" y="347.20" font-size="8.2" text-anchor="start" fill="#222" stroke="#222" >(g)</text>
<text x="0" y="0" font-size="9.2" text-anchor="middle" fill="#222" stroke="#222" transform="translate(7.60,404.40) rotate(-90)">ln(f)</text>
<text x="89.30" y="492.00" font-size="8.4" text-anchor="middle" fill="#222" stroke="#222" >1/T<tspan font-size="0.65em" dy="0.35em">m</tspan><tspan dy="-0.35em"> (K</tspan><tspan font-size="0.6em" dy="-0.5em">-1</tspan><tspan dy="0.5em">)</tspan></text>
<rect x="36.90" y="349.20" width="4.60" height="4.60" fill="none" stroke="#7cc8f0" stroke-width="0.8"/>
<polygon points="41.70,359.30 40.45,361.47 37.95,361.47 36.70,359.30 37.95,357.13 40.45,357.13" fill="none" stroke="#f9cf90" stroke-width="0.8"/>
<circle cx="47.20" cy="454.10" r="2.40" fill="none" stroke="#f08a90" stroke-width="0.8"/>
<text x="49.10" y="354.00" font-size="7.0" text-anchor="start" fill="#222" stroke="#222" >PINMT27 Ea=0.038 eV</text>
<text x="49.10" y="361.80" font-size="7.0" text-anchor="start" fill="#222" stroke="#222" >PINMT30 Ea=0.0331 eV</text>
<text x="56.80" y="457.60" font-size="7.0" text-anchor="start" fill="#222" stroke="#222" >PMN-0.29PT Ea=0.0152 eV</text>
<defs><radialGradient id="pmng"><stop offset="0" stop-color="#f5b89c"/><stop offset="0.6" stop-color="#f9cdb8"/><stop offset="1" stop-color="#fde6da"/></radialGradient></defs>
<line x1="216.50" y1="361.00" x2="298.00" y2="456.00" stroke="#8c8c8c" stroke-width="1.25" stroke-dasharray="6,4.5"/>
<line x1="288.00" y1="374.40" x2="313.00" y2="426.20" stroke="#8c8c8c" stroke-width="1.25" stroke-dasharray="6,4.5"/>
<circle cx="214.9" cy="358.9" r="3.3" fill="url(#pmng)"/>
<circle cx="248.0" cy="403.5" r="3.3" fill="url(#pmng)"/>
<circle cx="288.5" cy="446.0" r="3.3" fill="url(#pmng)"/>
<circle cx="292.0" cy="449.4" r="3.3" fill="url(#pmng)"/>
<circle cx="295.5" cy="452.4" r="3.3" fill="url(#pmng)"/>
<circle cx="301.8" cy="407.5" r="3.5" fill="#26a4ec"/>
<circle cx="307.3" cy="417.6" r="3.5" fill="#26a4ec"/>
<rect x="200.80" y="344.60" width="120.80" height="120.70" fill="none" stroke="#3a3a3a" stroke-width="1.1"/>
<line x1="205.40" y1="465.30" x2="205.40" y2="470.10" stroke="#3a3a3a" stroke-width="1.0" />
<line x1="205.40" y1="344.60" x2="205.40" y2="339.80" stroke="#3a3a3a" stroke-width="1.0" />
<line x1="228.73" y1="465.30" x2="228.73" y2="470.10" stroke="#3a3a3a" stroke-width="1.0" />
<line x1="228.73" y1="344.60" x2="228.73" y2="339.80" stroke="#3a3a3a" stroke-width="1.0" />
<line x1="252.05" y1="465.30" x2="252.05" y2="470.10" stroke="#3a3a3a" stroke-width="1.0" />
<line x1="252.05" y1="344.60" x2="252.05" y2="339.80" stroke="#3a3a3a" stroke-width="1.0" />
<line x1="275.38" y1="465.30" x2="275.38" y2="470.10" stroke="#3a3a3a" stroke-width="1.0" />
<line x1="275.38" y1="344.60" x2="275.38" y2="339.80" stroke="#3a3a3a" stroke-width="1.0" />
<line x1="298.70" y1="465.30" x2="298.70" y2="470.10" stroke="#3a3a3a" stroke-width="1.0" />
<line x1="298.70" y1="344.60" x2="298.70" y2="339.80" stroke="#3a3a3a" stroke-width="1.0" />
<line x1="200.80" y1="460.60" x2="196.20" y2="460.60" stroke="#3a3a3a" stroke-width="1.0" />
<line x1="321.60" y1="460.60" x2="326.20" y2="460.60" stroke="#3a3a3a" stroke-width="1.0" />
<line x1="200.80" y1="441.90" x2="196.20" y2="441.90" stroke="#3a3a3a" stroke-width="1.0" />
<line x1="321.60" y1="441.90" x2="326.20" y2="441.90" stroke="#3a3a3a" stroke-width="1.0" />
<line x1="200.80" y1="423.20" x2="196.20" y2="423.20" stroke="#3a3a3a" stroke-width="1.0" />
<line x1="321.60" y1="423.20" x2="326.20" y2="423.20" stroke="#3a3a3a" stroke-width="1.0" />
<line x1="200.80" y1="404.50" x2="196.20" y2="404.50" stroke="#3a3a3a" stroke-width="1.0" />
<line x1="321.60" y1="404.50" x2="326.20" y2="404.50" stroke="#3a3a3a" stroke-width="1.0" />
<line x1="200.80" y1="385.80" x2="196.20" y2="385.80" stroke="#3a3a3a" stroke-width="1.0" />
<line x1="321.60" y1="385.80" x2="326.20" y2="385.80" stroke="#3a3a3a" stroke-width="1.0" />
<line x1="200.80" y1="367.10" x2="196.20" y2="367.10" stroke="#3a3a3a" stroke-width="1.0" />
<line x1="321.60" y1="367.10" x2="326.20" y2="367.10" stroke="#3a3a3a" stroke-width="1.0" />
<line x1="200.80" y1="348.40" x2="196.20" y2="348.40" stroke="#3a3a3a" stroke-width="1.0" />
<line x1="321.60" y1="348.40" x2="326.20" y2="348.40" stroke="#3a3a3a" stroke-width="1.0" />
<text x="205.40" y="480.00" font-size="6.9" text-anchor="middle" fill="#222" stroke="#222" >200</text>
<text x="228.73" y="480.00" font-size="6.9" text-anchor="middle" fill="#222" stroke="#222" >250</text>
<text x="252.05" y="480.00" font-size="6.9" text-anchor="middle" fill="#222" stroke="#222" >300</text>
<text x="275.38" y="480.00" font-size="6.9" text-anchor="middle" fill="#222" stroke="#222" >350</text>
<text x="298.70" y="480.00" font-size="6.9" text-anchor="middle" fill="#222" stroke="#222" >400</text>
<text x="193.60" y="463.10" font-size="6.9" text-anchor="end" fill="#222" stroke="#222" >1</text>
<text x="193.60" y="444.40" font-size="6.9" text-anchor="end" fill="#222" stroke="#222" >2</text>
<text x="193.60" y="425.70" font-size="6.9" text-anchor="end" fill="#222" stroke="#222" >3</text>
<text x="193.60" y="407.00" font-size="6.9" text-anchor="end" fill="#222" stroke="#222" >4</text>
<text x="193.60" y="388.30" font-size="6.9" text-anchor="end" fill="#222" stroke="#222" >5</text>
<text x="193.60" y="369.60" font-size="6.9" text-anchor="end" fill="#222" stroke="#222" >6</text>
<text x="193.60" y="350.90" font-size="6.9" text-anchor="end" fill="#222" stroke="#222" >7</text>
<text x="169.00" y="347.20" font-size="8.2" text-anchor="start" fill="#222" stroke="#222" >(h)</text>
<text x="190.80" y="339.30" font-size="6.5" text-anchor="start" fill="#222" stroke="#222" >x10<tspan font-size="4.4" dy="-5">-2</tspan></text>
<text x="0" y="0" font-size="8.5" text-anchor="middle" fill="#222" stroke="#222" transform="translate(182.60,404.60) rotate(-90)">Ea (eV)</text>
<text x="261.00" y="491.00" font-size="8.4" text-anchor="middle" fill="#222" stroke="#222" >T<tspan font-size="0.65em" dy="0.35em">VF</tspan><tspan dy="-0.35em"> (K)</tspan></text>
<text x="221.80" y="360.00" font-size="7.2" text-anchor="start" fill="#222" stroke="#222" >PMN</text>
<text x="208.90" y="415.30" font-size="7.2" text-anchor="start" fill="#222" stroke="#222" >PMN-0.10PT</text>
<text x="283.70" y="397.90" font-size="7.2" text-anchor="start" fill="#222" stroke="#222" >PINMT27</text>
<text x="288.00" y="433.50" font-size="7.2" text-anchor="start" fill="#222" stroke="#222" >PINMT30</text>
<text x="246.00" y="448.00" font-size="7.2" text-anchor="start" fill="#222" stroke="#222" >PMN-0.25PT</text>
<text x="273.40" y="462.80" font-size="7.2" text-anchor="start" fill="#222" stroke="#222" >PMN-0.29PT</text>
<rect x="400.10" y="393.20" width="4.40" height="4.40" fill="none" stroke="#a6dfe4" stroke-width="0.8"/>
<rect x="407.00" y="394.90" width="4.40" height="4.40" fill="none" stroke="#a6dfe4" stroke-width="0.8"/>
<rect x="413.70" y="396.60" width="4.40" height="4.40" fill="none" stroke="#a6dfe4" stroke-width="0.8"/>
<rect x="422.30" y="399.20" width="4.40" height="4.40" fill="none" stroke="#a6dfe4" stroke-width="0.8"/>
<rect x="429.20" y="400.90" width="4.40" height="4.40" fill="none" stroke="#a6dfe4" stroke-width="0.8"/>
<rect x="435.20" y="402.20" width="4.40" height="4.40" fill="none" stroke="#a6dfe4" stroke-width="0.8"/>
<rect x="444.10" y="405.60" width="4.40" height="4.40" fill="none" stroke="#a6dfe4" stroke-width="0.8"/>
<rect x="451.00" y="407.30" width="4.40" height="4.40" fill="none" stroke="#a6dfe4" stroke-width="0.8"/>
<rect x="457.90" y="409.00" width="4.40" height="4.40" fill="none" stroke="#a6dfe4" stroke-width="0.8"/>
<rect x="466.20" y="412.30" width="4.40" height="4.40" fill="none" stroke="#a6dfe4" stroke-width="0.8"/>
<rect x="473.00" y="414.50" width="4.40" height="4.40" fill="none" stroke="#a6dfe4" stroke-width="0.8"/>
<rect x="479.90" y="418.50" width="4.40" height="4.40" fill="none" stroke="#a6dfe4" stroke-width="0.8"/>
<rect x="488.00" y="423.70" width="4.40" height="4.40" fill="none" stroke="#a6dfe4" stroke-width="0.8"/>
<circle cx="386.50" cy="360.50" r="2.40" fill="none" stroke="#f6c2c2" stroke-width="0.8"/>
<circle cx="395.10" cy="361.40" r="2.40" fill="none" stroke="#f6c2c2" stroke-width="0.8"/>
<circle cx="402.30" cy="361.30" r="2.40" fill="none" stroke="#f6c2c2" stroke-width="0.8"/>
<circle cx="417.60" cy="361.80" r="2.40" fill="none" stroke="#f6c2c2" stroke-width="0.8"/>
<circle cx="424.50" cy="362.30" r="2.40" fill="none" stroke="#f6c2c2" stroke-width="0.8"/>
<circle cx="440.00" cy="363.90" r="2.40" fill="none" stroke="#f6c2c2" stroke-width="0.8"/>
<circle cx="446.50" cy="364.50" r="2.40" fill="none" stroke="#f6c2c2" stroke-width="0.8"/>
<circle cx="461.80" cy="366.10" r="2.40" fill="none" stroke="#f6c2c2" stroke-width="0.8"/>
<circle cx="468.70" cy="366.60" r="2.40" fill="none" stroke="#f6c2c2" stroke-width="0.8"/>
<circle cx="483.80" cy="369.20" r="2.40" fill="none" stroke="#f6c2c2" stroke-width="0.8"/>
<circle cx="490.70" cy="369.50" r="2.40" fill="none" stroke="#f6c2c2" stroke-width="0.8"/>
<path d="M399.70,361.72 L404.90,361.72 L402.30,366.40 Z" fill="none" stroke="#cfa26a" stroke-width="0.8"/>
<path d="M443.90,366.22 L449.10,366.22 L446.50,370.90 Z" fill="none" stroke="#cfa26a" stroke-width="0.8"/>
<path d="M466.10,370.22 L471.30,370.22 L468.70,374.90 Z" fill="none" stroke="#cfa26a" stroke-width="0.8"/>
<rect x="384.30" y="368.60" width="4.4" height="4.4" fill="#a9ddf8"/>
<rect x="392.90" y="369.10" width="4.4" height="4.4" fill="#a9ddf8"/>
<rect x="400.10" y="370.00" width="4.4" height="4.4" fill="#a9ddf8"/>
<rect x="415.40" y="373.10" width="4.4" height="4.4" fill="#a9ddf8"/>
<rect x="422.30" y="374.60" width="4.4" height="4.4" fill="#a9ddf8"/>
<rect x="437.80" y="376.30" width="4.4" height="4.4" fill="#a9ddf8"/>
<rect x="444.30" y="378.60" width="4.4" height="4.4" fill="#a9ddf8"/>
<rect x="459.60" y="382.50" width="4.4" height="4.4" fill="#a9ddf8"/>
<rect x="466.50" y="384.60" width="4.4" height="4.4" fill="#a9ddf8"/>
<rect x="481.60" y="389.20" width="4.4" height="4.4" fill="#a9ddf8"/>
<rect x="488.50" y="392.30" width="4.4" height="4.4" fill="#a9ddf8"/>
<circle cx="386.50" cy="377.30" r="2.5" fill="#1b95e0"/>
<circle cx="395.10" cy="379.40" r="2.5" fill="#1b95e0"/>
<circle cx="402.30" cy="380.80" r="2.5" fill="#1b95e0"/>
<circle cx="417.60" cy="382.50" r="2.5" fill="#1b95e0"/>
<circle cx="424.50" cy="384.20" r="2.5" fill="#1b95e0"/>
<circle cx="440.00" cy="385.90" r="2.5" fill="#1b95e0"/>
<circle cx="446.50" cy="387.10" r="2.5" fill="#1b95e0"/>
<circle cx="461.80" cy="390.80" r="2.5" fill="#1b95e0"/>
<circle cx="468.70" cy="392.80" r="2.5" fill="#1b95e0"/>
<circle cx="483.80" cy="396.80" r="2.5" fill="#1b95e0"/>
<circle cx="490.70" cy="400.00" r="2.5" fill="#1b95e0"/>
<rect x="376.80" y="344.10" width="117.70" height="117.40" fill="none" stroke="#3a3a3a" stroke-width="1.1"/>
<line x1="379.90" y1="461.50" x2="379.90" y2="466.30" stroke="#3a3a3a" stroke-width="1.0" />
<line x1="379.90" y1="344.10" x2="379.90" y2="339.30" stroke="#3a3a3a" stroke-width="1.0" />
<line x1="402.06" y1="461.50" x2="402.06" y2="466.30" stroke="#3a3a3a" stroke-width="1.0" />
<line x1="402.06" y1="344.10" x2="402.06" y2="339.30" stroke="#3a3a3a" stroke-width="1.0" />
<line x1="424.22" y1="461.50" x2="424.22" y2="466.30" stroke="#3a3a3a" stroke-width="1.0" />
<line x1="424.22" y1="344.10" x2="424.22" y2="339.30" stroke="#3a3a3a" stroke-width="1.0" />
<line x1="446.38" y1="461.50" x2="446.38" y2="466.30" stroke="#3a3a3a" stroke-width="1.0" />
<line x1="446.38" y1="344.10" x2="446.38" y2="339.30" stroke="#3a3a3a" stroke-width="1.0" />
<line x1="468.54" y1="461.50" x2="468.54" y2="466.30" stroke="#3a3a3a" stroke-width="1.0" />
<line x1="468.54" y1="344.10" x2="468.54" y2="339.30" stroke="#3a3a3a" stroke-width="1.0" />
<line x1="490.70" y1="461.50" x2="490.70" y2="466.30" stroke="#3a3a3a" stroke-width="1.0" />
<line x1="490.70" y1="344.10" x2="490.70" y2="339.30" stroke="#3a3a3a" stroke-width="1.0" />
<line x1="376.80" y1="450.52" x2="372.20" y2="450.52" stroke="#3a3a3a" stroke-width="1.0" />
<line x1="494.50" y1="450.52" x2="499.10" y2="450.52" stroke="#3a3a3a" stroke-width="1.0" />
<line x1="376.80" y1="435.76" x2="372.20" y2="435.76" stroke="#3a3a3a" stroke-width="1.0" />
<line x1="494.50" y1="435.76" x2="499.10" y2="435.76" stroke="#3a3a3a" stroke-width="1.0" />
<line x1="376.80" y1="421.00" x2="372.20" y2="421.00" stroke="#3a3a3a" stroke-width="1.0" />
<line x1="494.50" y1="421.00" x2="499.10" y2="421.00" stroke="#3a3a3a" stroke-width="1.0" />
<line x1="376.80" y1="406.24" x2="372.20" y2="406.24" stroke="#3a3a3a" stroke-width="1.0" />
<line x1="494.50" y1="406.24" x2="499.10" y2="406.24" stroke="#3a3a3a" stroke-width="1.0" />
<line x1="376.80" y1="391.48" x2="372.20" y2="391.48" stroke="#3a3a3a" stroke-width="1.0" />
<line x1="494.50" y1="391.48" x2="499.10" y2="391.48" stroke="#3a3a3a" stroke-width="1.0" />
<line x1="376.80" y1="376.72" x2="372.20" y2="376.72" stroke="#3a3a3a" stroke-width="1.0" />
<line x1="494.50" y1="376.72" x2="499.10" y2="376.72" stroke="#3a3a3a" stroke-width="1.0" />
<line x1="376.80" y1="361.96" x2="372.20" y2="361.96" stroke="#3a3a3a" stroke-width="1.0" />
<line x1="494.50" y1="361.96" x2="499.10" y2="361.96" stroke="#3a3a3a" stroke-width="1.0" />
<line x1="376.80" y1="347.20" x2="372.20" y2="347.20" stroke="#3a3a3a" stroke-width="1.0" />
<line x1="494.50" y1="347.20" x2="499.10" y2="347.20" stroke="#3a3a3a" stroke-width="1.0" />
<text x="379.90" y="479.50" font-size="6.9" text-anchor="middle" fill="#222" stroke="#222" >10<tspan font-size="4.5" dy="-3.2">1</tspan></text>
<text x="402.06" y="479.50" font-size="6.9" text-anchor="middle" fill="#222" stroke="#222" >10<tspan font-size="4.5" dy="-3.2">2</tspan></text>
<text x="424.22" y="479.50" font-size="6.9" text-anchor="middle" fill="#222" stroke="#222" >10<tspan font-size="4.5" dy="-3.2">3</tspan></text>
<text x="446.38" y="479.50" font-size="6.9" text-anchor="middle" fill="#222" stroke="#222" >10<tspan font-size="4.5" dy="-3.2">4</tspan></text>
<text x="468.54" y="479.50" font-size="6.9" text-anchor="middle" fill="#222" stroke="#222" >10<tspan font-size="4.5" dy="-3.2">5</tspan></text>
<text x="490.70" y="479.50" font-size="6.9" text-anchor="middle" fill="#222" stroke="#222" >10<tspan font-size="4.5" dy="-3.2">6</tspan></text>
<text x="369.40" y="453.02" font-size="6.9" text-anchor="end" fill="#222" stroke="#222" >0.86</text>
<text x="369.40" y="438.26" font-size="6.9" text-anchor="end" fill="#222" stroke="#222" >0.88</text>
<text x="369.40" y="423.50" font-size="6.9" text-anchor="end" fill="#222" stroke="#222" >0.90</text>
<text x="369.40" y="408.74" font-size="6.9" text-anchor="end" fill="#222" stroke="#222" >0.92</text>
<text x="369.40" y="393.98" font-size="6.9" text-anchor="end" fill="#222" stroke="#222" >0.94</text>
<text x="369.40" y="379.22" font-size="6.9" text-anchor="end" fill="#222" stroke="#222" >0.96</text>
<text x="369.40" y="364.46" font-size="6.9" text-anchor="end" fill="#222" stroke="#222" >0.98</text>
<text x="369.40" y="349.70" font-size="6.9" text-anchor="end" fill="#222" stroke="#222" >1.00</text>
<text x="341.50" y="347.20" font-size="8.2" text-anchor="start" fill="#222" stroke="#222" >(i)</text>
<text x="0" y="0" font-size="8.4" text-anchor="middle" fill="#222" stroke="#222" transform="translate(348.80,401.20) rotate(-90)">T<tspan font-size="0.65em" dy="0.35em">VF</tspan><tspan dy="-0.35em"> / T</tspan><tspan font-size="0.65em" dy="0.35em">m</tspan></text>
<text x="436.00" y="489.80" font-size="8.4" text-anchor="middle" fill="#222" stroke="#222" >f (Hz)</text>
<circle cx="384.20" cy="423.60" r="2.40" fill="none" stroke="#f6c2c2" stroke-width="0.8"/>
<path d="M381.60,429.32 L386.80,429.32 L384.20,434.00 Z" fill="none" stroke="#cfa26a" stroke-width="0.8"/>
<rect x="382.00" y="436.90" width="4.40" height="4.40" fill="none" stroke="#a6dfe4" stroke-width="0.8"/>
<rect x="382.00" y="444.70" width="4.4" height="4.4" fill="#a9ddf8"/>
<circle cx="384.20" cy="454.60" r="2.5" fill="#1b95e0"/>
<text x="393.70" y="426.10" font-size="6.9" text-anchor="start" fill="#222" stroke="#222" >PMN-0.29PT</text>
<text x="393.70" y="433.90" font-size="6.9" text-anchor="start" fill="#222" stroke="#222" >PMN-0.25PT</text>
<text x="393.70" y="441.60" font-size="6.9" text-anchor="start" fill="#222" stroke="#222" >PMN-0.10PT</text>
<text x="393.70" y="449.40" font-size="6.9" text-anchor="start" fill="#222" stroke="#222" >PINMT30</text>
<text x="393.70" y="457.10" font-size="6.9" text-anchor="start" fill="#222" stroke="#222" >PINMT27</text>
</svg></body></html>
